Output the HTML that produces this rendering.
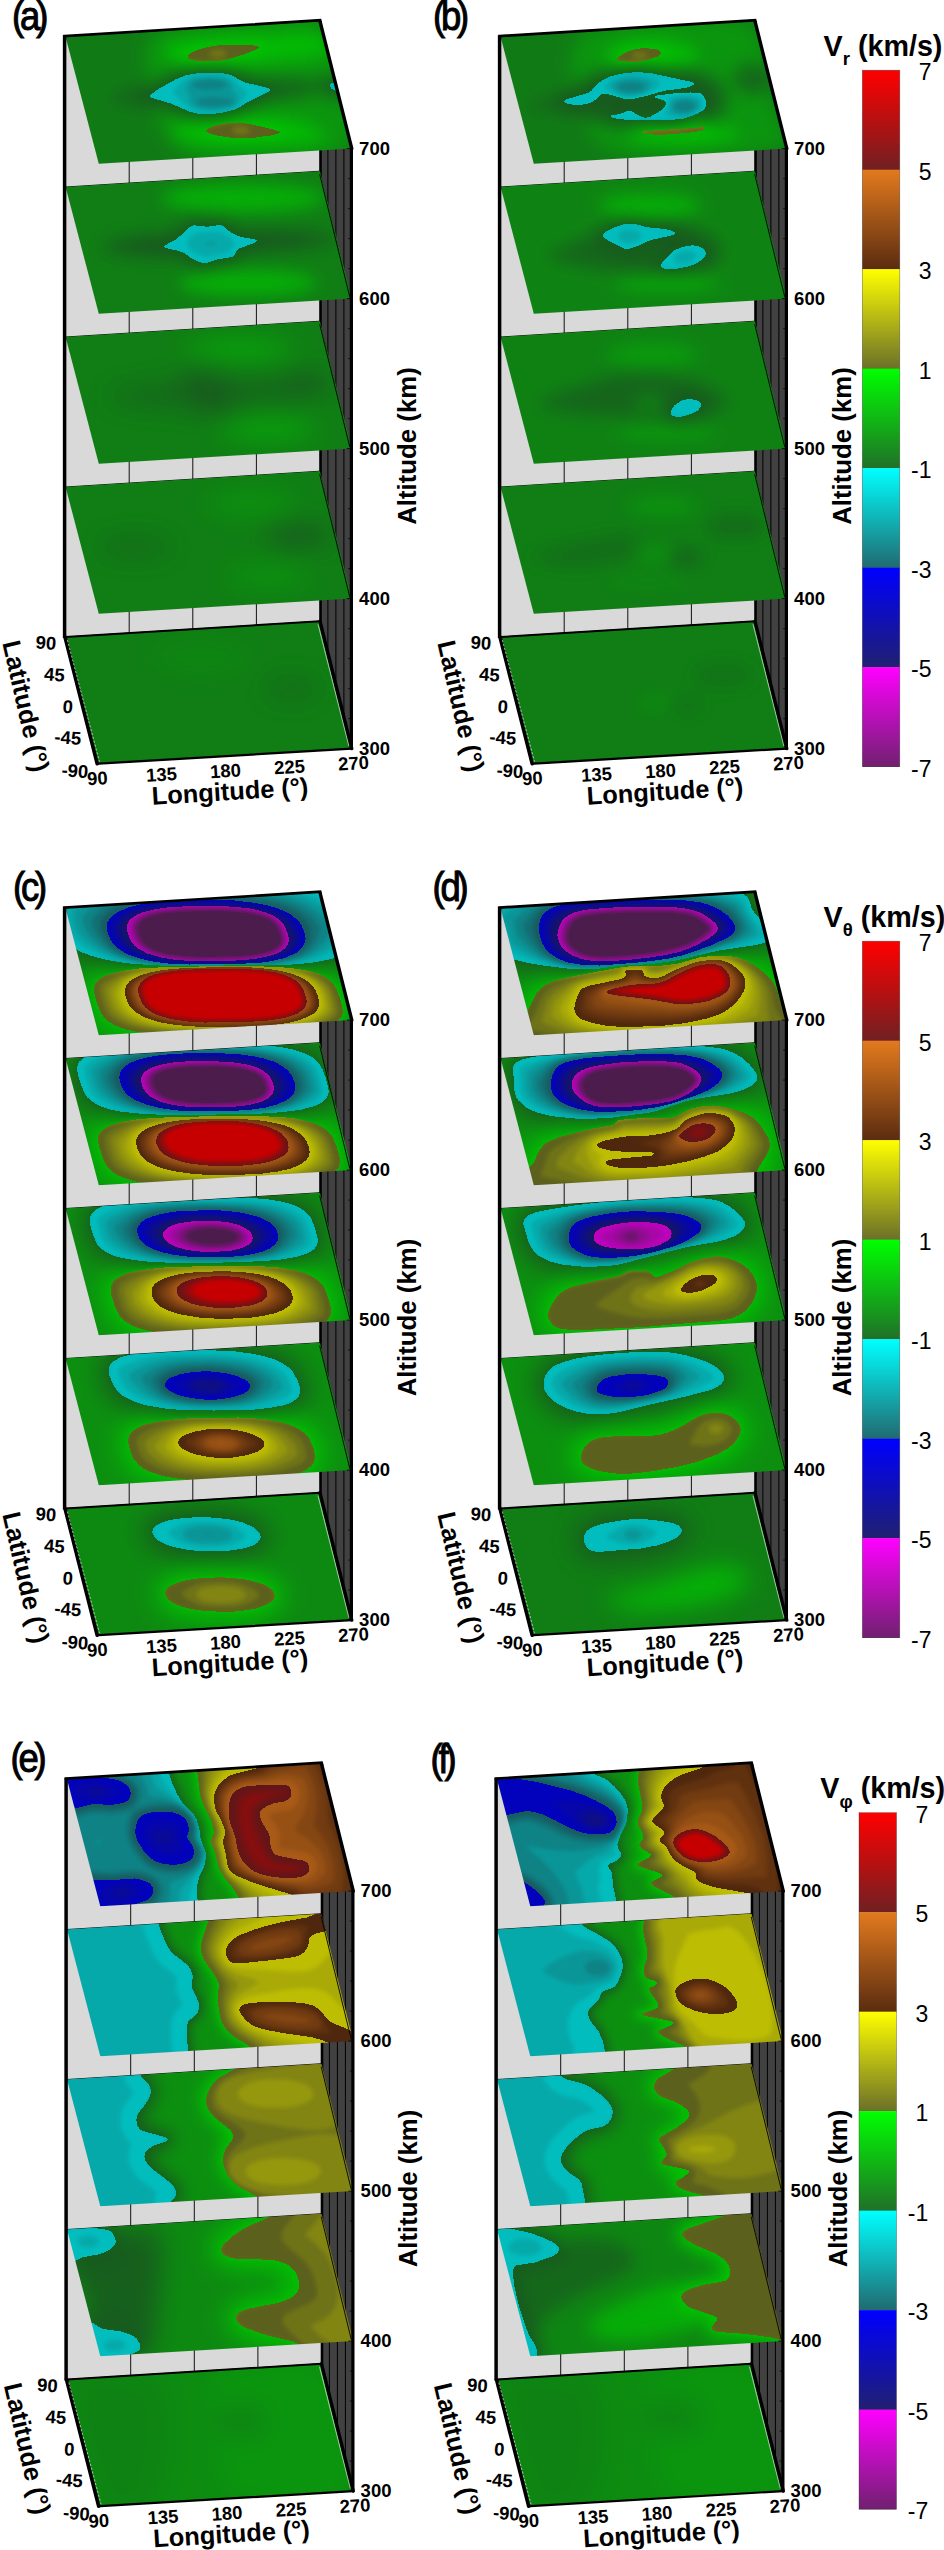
<!DOCTYPE html><html><head><meta charset="utf-8"><title>Figure</title><style>html,body{margin:0;padding:0;background:#fff}svg{display:block}text{font-family:"Liberation Sans",sans-serif;fill:#000}.b{font-weight:bold}</style></head><body>
<svg width="944" height="2550" viewBox="0 0 944 2550">
<defs>
<filter id="cm2" filterUnits="userSpaceOnUse" x="-40" y="-50" width="380" height="240" color-interpolation-filters="sRGB"><feColorMatrix in="SourceGraphic" type="matrix" values="1 0 0 0 0 1 0 0 0 0 1 0 0 0 0 0 0 0 1 0" result="bd"/><feComponentTransfer in="bd" result="A"><feFuncR type="discrete" tableValues="0.780 0.780 0.275 0.780 0.098 0.000 0.098 0.780 0.300"/><feFuncG type="discrete" tableValues="0.000 0.000 0.135 0.780 0.343 0.780 0.098 0.000 0.113"/><feFuncB type="discrete" tableValues="0.000 0.000 0.049 0.000 0.122 0.780 0.343 0.780 0.300"/></feComponentTransfer><feComponentTransfer in="bd" result="B"><feFuncR type="discrete" tableValues="0.780 0.343 0.691 0.324 0.000 0.098 0.000 0.300 0.300"/><feFuncG type="discrete" tableValues="0.000 0.098 0.373 0.343 0.780 0.324 0.000 0.113 0.113"/><feFuncB type="discrete" tableValues="0.000 0.104 0.092 0.122 0.000 0.343 0.780 0.300 0.300"/></feComponentTransfer><feColorMatrix in="SourceGraphic" type="matrix" values="0 1 0 0 0 0 1 0 0 0 0 1 0 0 0 0 0 0 1 0" result="T0"/><feGaussianBlur in="T0" stdDeviation="2" result="T"/><feComposite in="B" in2="T" operator="arithmetic" k1="1" k2="0" k3="0" k4="0" result="BT"/><feComponentTransfer in="T" result="Ti"><feFuncR type="table" tableValues="1 0"/><feFuncG type="table" tableValues="1 0"/><feFuncB type="table" tableValues="1 0"/></feComponentTransfer><feComposite in="A" in2="Ti" operator="arithmetic" k1="1" k2="0" k3="0" k4="0" result="AT"/><feComposite in="AT" in2="BT" operator="arithmetic" k1="0" k2="1" k3="1" k4="0" result="S"/><feGaussianBlur in="S" stdDeviation="0.45"/></filter>
<filter id="cm3" filterUnits="userSpaceOnUse" x="-40" y="-50" width="380" height="240" color-interpolation-filters="sRGB"><feColorMatrix in="SourceGraphic" type="matrix" values="1 0 0 0 0 1 0 0 0 0 1 0 0 0 0 0 0 0 1 0" result="bd"/><feComponentTransfer in="bd" result="A"><feFuncR type="discrete" tableValues="0.780 0.780 0.275 0.780 0.098 0.000 0.098 0.780 0.300"/><feFuncG type="discrete" tableValues="0.000 0.000 0.135 0.780 0.343 0.780 0.098 0.000 0.113"/><feFuncB type="discrete" tableValues="0.000 0.000 0.049 0.000 0.122 0.780 0.343 0.780 0.300"/></feComponentTransfer><feComponentTransfer in="bd" result="B"><feFuncR type="discrete" tableValues="0.780 0.343 0.691 0.324 0.000 0.098 0.000 0.300 0.300"/><feFuncG type="discrete" tableValues="0.000 0.098 0.373 0.343 0.780 0.324 0.000 0.113 0.113"/><feFuncB type="discrete" tableValues="0.000 0.104 0.092 0.122 0.000 0.343 0.780 0.300 0.300"/></feComponentTransfer><feColorMatrix in="SourceGraphic" type="matrix" values="0 1 0 0 0 0 1 0 0 0 0 1 0 0 0 0 0 0 1 0" result="T0"/><feGaussianBlur in="T0" stdDeviation="3" result="T"/><feComposite in="B" in2="T" operator="arithmetic" k1="1" k2="0" k3="0" k4="0" result="BT"/><feComponentTransfer in="T" result="Ti"><feFuncR type="table" tableValues="1 0"/><feFuncG type="table" tableValues="1 0"/><feFuncB type="table" tableValues="1 0"/></feComponentTransfer><feComposite in="A" in2="Ti" operator="arithmetic" k1="1" k2="0" k3="0" k4="0" result="AT"/><feComposite in="AT" in2="BT" operator="arithmetic" k1="0" k2="1" k3="1" k4="0" result="S"/><feGaussianBlur in="S" stdDeviation="0.45"/></filter>
<filter id="cm4" filterUnits="userSpaceOnUse" x="-40" y="-50" width="380" height="240" color-interpolation-filters="sRGB"><feColorMatrix in="SourceGraphic" type="matrix" values="1 0 0 0 0 1 0 0 0 0 1 0 0 0 0 0 0 0 1 0" result="bd"/><feComponentTransfer in="bd" result="A"><feFuncR type="discrete" tableValues="0.780 0.780 0.275 0.780 0.098 0.000 0.098 0.780 0.300"/><feFuncG type="discrete" tableValues="0.000 0.000 0.135 0.780 0.343 0.780 0.098 0.000 0.113"/><feFuncB type="discrete" tableValues="0.000 0.000 0.049 0.000 0.122 0.780 0.343 0.780 0.300"/></feComponentTransfer><feComponentTransfer in="bd" result="B"><feFuncR type="discrete" tableValues="0.780 0.343 0.691 0.324 0.000 0.098 0.000 0.300 0.300"/><feFuncG type="discrete" tableValues="0.000 0.098 0.373 0.343 0.780 0.324 0.000 0.113 0.113"/><feFuncB type="discrete" tableValues="0.000 0.104 0.092 0.122 0.000 0.343 0.780 0.300 0.300"/></feComponentTransfer><feColorMatrix in="SourceGraphic" type="matrix" values="0 1 0 0 0 0 1 0 0 0 0 1 0 0 0 0 0 0 1 0" result="T0"/><feGaussianBlur in="T0" stdDeviation="4" result="T"/><feComposite in="B" in2="T" operator="arithmetic" k1="1" k2="0" k3="0" k4="0" result="BT"/><feComponentTransfer in="T" result="Ti"><feFuncR type="table" tableValues="1 0"/><feFuncG type="table" tableValues="1 0"/><feFuncB type="table" tableValues="1 0"/></feComponentTransfer><feComposite in="A" in2="Ti" operator="arithmetic" k1="1" k2="0" k3="0" k4="0" result="AT"/><feComposite in="AT" in2="BT" operator="arithmetic" k1="0" k2="1" k3="1" k4="0" result="S"/><feGaussianBlur in="S" stdDeviation="0.45"/></filter>
<filter id="cm6" filterUnits="userSpaceOnUse" x="-40" y="-50" width="380" height="240" color-interpolation-filters="sRGB"><feColorMatrix in="SourceGraphic" type="matrix" values="1 0 0 0 0 1 0 0 0 0 1 0 0 0 0 0 0 0 1 0" result="bd"/><feComponentTransfer in="bd" result="A"><feFuncR type="discrete" tableValues="0.780 0.780 0.275 0.780 0.098 0.000 0.098 0.780 0.300"/><feFuncG type="discrete" tableValues="0.000 0.000 0.135 0.780 0.343 0.780 0.098 0.000 0.113"/><feFuncB type="discrete" tableValues="0.000 0.000 0.049 0.000 0.122 0.780 0.343 0.780 0.300"/></feComponentTransfer><feComponentTransfer in="bd" result="B"><feFuncR type="discrete" tableValues="0.780 0.343 0.691 0.324 0.000 0.098 0.000 0.300 0.300"/><feFuncG type="discrete" tableValues="0.000 0.098 0.373 0.343 0.780 0.324 0.000 0.113 0.113"/><feFuncB type="discrete" tableValues="0.000 0.104 0.092 0.122 0.000 0.343 0.780 0.300 0.300"/></feComponentTransfer><feColorMatrix in="SourceGraphic" type="matrix" values="0 1 0 0 0 0 1 0 0 0 0 1 0 0 0 0 0 0 1 0" result="T0"/><feGaussianBlur in="T0" stdDeviation="6" result="T"/><feComposite in="B" in2="T" operator="arithmetic" k1="1" k2="0" k3="0" k4="0" result="BT"/><feComponentTransfer in="T" result="Ti"><feFuncR type="table" tableValues="1 0"/><feFuncG type="table" tableValues="1 0"/><feFuncB type="table" tableValues="1 0"/></feComponentTransfer><feComposite in="A" in2="Ti" operator="arithmetic" k1="1" k2="0" k3="0" k4="0" result="AT"/><feComposite in="AT" in2="BT" operator="arithmetic" k1="0" k2="1" k3="1" k4="0" result="S"/><feGaussianBlur in="S" stdDeviation="0.45"/></filter>
<filter id="hb5" filterUnits="userSpaceOnUse" x="-60" y="-70" width="420" height="280" color-interpolation-filters="sRGB"><feGaussianBlur stdDeviation="5"/></filter>
<filter id="hb8" filterUnits="userSpaceOnUse" x="-60" y="-70" width="420" height="280" color-interpolation-filters="sRGB"><feGaussianBlur stdDeviation="8"/></filter>
<filter id="hb12" filterUnits="userSpaceOnUse" x="-60" y="-70" width="420" height="280" color-interpolation-filters="sRGB"><feGaussianBlur stdDeviation="12"/></filter>
<clipPath id="sc"><polygon points="0.0,0.0 254.4,-15.8 286.2,111.6 33.2,126.7"/></clipPath>
<linearGradient id="cb0" x1="0" y1="0" x2="0" y2="1"><stop offset="0" stop-color="rgb(255,0,0)"/><stop offset="1" stop-color="rgb(112,32,34)"/></linearGradient>
<linearGradient id="cb1" x1="0" y1="0" x2="0" y2="1"><stop offset="0" stop-color="rgb(226,122,30)"/><stop offset="1" stop-color="rgb(90,44,16)"/></linearGradient>
<linearGradient id="cb2" x1="0" y1="0" x2="0" y2="1"><stop offset="0" stop-color="rgb(255,255,0)"/><stop offset="1" stop-color="rgb(106,112,40)"/></linearGradient>
<linearGradient id="cb3" x1="0" y1="0" x2="0" y2="1"><stop offset="0" stop-color="rgb(0,255,0)"/><stop offset="1" stop-color="rgb(32,112,40)"/></linearGradient>
<linearGradient id="cb4" x1="0" y1="0" x2="0" y2="1"><stop offset="0" stop-color="rgb(0,255,255)"/><stop offset="1" stop-color="rgb(32,106,112)"/></linearGradient>
<linearGradient id="cb5" x1="0" y1="0" x2="0" y2="1"><stop offset="0" stop-color="rgb(0,0,255)"/><stop offset="1" stop-color="rgb(32,32,112)"/></linearGradient>
<linearGradient id="cb6" x1="0" y1="0" x2="0" y2="1"><stop offset="0" stop-color="rgb(255,0,255)"/><stop offset="1" stop-color="rgb(112,32,112)"/></linearGradient>
</defs>
<g transform="translate(0,0)">
<polygon points="65.6,37.0 320.0,21.2 320.0,621.2 98.8,763.7 65.6,637.0" fill="#d9d9d9"/>
<polygon points="65.6,37.0 98.8,163.7 98.8,763.7 65.6,637.0" fill="#d9d9d9"/>
<polygon points="320.0,21.2 351.8,148.6 351.8,748.6 320.0,621.2" fill="#414141"/>
<line x1="129.2" y1="33.0" x2="129.2" y2="633.0" stroke="#111" stroke-width="1" />
<line x1="327.9" y1="53.0" x2="327.9" y2="653.0" stroke="#000" stroke-width="1" />
<line x1="192.8" y1="29.1" x2="192.8" y2="629.1" stroke="#111" stroke-width="1" />
<line x1="335.9" y1="84.9" x2="335.9" y2="684.9" stroke="#000" stroke-width="1" />
<line x1="256.4" y1="25.1" x2="256.4" y2="625.1" stroke="#111" stroke-width="1" />
<line x1="343.9" y1="116.8" x2="343.9" y2="716.8" stroke="#000" stroke-width="1" />
<line x1="65.6" y1="37.0" x2="320.0" y2="21.2" stroke="#111" stroke-width="1" />
<line x1="320.0" y1="23.7" x2="350.3" y2="146.6" stroke="#000" stroke-width="1" />
<line x1="65.6" y1="187.0" x2="320.0" y2="171.2" stroke="#111" stroke-width="1" />
<line x1="320.0" y1="173.7" x2="350.3" y2="296.6" stroke="#000" stroke-width="1" />
<line x1="65.6" y1="337.0" x2="320.0" y2="321.2" stroke="#111" stroke-width="1" />
<line x1="320.0" y1="323.7" x2="350.3" y2="446.6" stroke="#000" stroke-width="1" />
<line x1="65.6" y1="487.0" x2="320.0" y2="471.2" stroke="#111" stroke-width="1" />
<line x1="320.0" y1="473.7" x2="350.3" y2="596.6" stroke="#000" stroke-width="1" />
<line x1="65.6" y1="637.0" x2="320.0" y2="621.2" stroke="#111" stroke-width="1" />
<line x1="320.0" y1="623.7" x2="350.3" y2="746.6" stroke="#000" stroke-width="1" />
<line x1="320.5" y1="21.2" x2="320.5" y2="621.2" stroke="#000" stroke-width="2.6" />
<g transform="translate(65.6,37.0)" clip-path="url(#sc)">
<g filter="url(#cm2)"><rect x="-60" y="-70" width="420" height="280" fill="#805300"/><g filter="url(#hb8)"><rect x="-100" y="-110" width="500" height="360" fill="#805300"/><path d="M96 -7l13 -4 19 -4 22 -4 24 -3 24 -2 22 1 19 2 15 6 11 10 10 15 7 17 6 20 3 19 0 18 -2 15 -7 11 -11 7 -18 5 -21 3 -24 1 -24 0 -23 -2 -20 -2 -15 -4 -11 -4 -9 -7 -6 -8 -5 -9 -3 -9 -13 -53 -1 -8 1 -8 2 -7 6 -7z" fill="#808c00"/><path d="M45 60l1 -1 2 -2 3 -1 9 -3 7 -2 19 -3 47 -3 57 -3 39 0 23 2 8 2 2 1 0 1 0 2 -2 1 -8 4 -14 4 -9 1 -39 5 -57 4 -47 1 -19 -1 -7 -1 -9 -3 -3 -2 -2 -1z" fill="#801a00"/><path d="M102 7l7 -2 20 -3 98 -6 15 -1 10 2 4 1 4 2 3 3 2 3 1 3 0 3 -1 3 -3 2 -4 1 -20 4 -80 7 -22 0 -10 0 -7 -1 -6 -1 -5 -3 -5 -2 -3 -4 -2 -3 -1 -3 2 -3z" fill="#80e500"/><path d="M112 87l4 -2 14 -2 25 -2 35 -1 27 2 16 2 11 3 9 5 4 2 2 3 1 3 -1 2 -3 1 -6 2 -20 2 -48 1 -26 0 -15 -1 -18 -2 -4 -2 -7 -3 -4 -5 0 -2 0 -2 2 -3z" fill="#80e500"/><path d="M121 19l3 -3 5 -3 10 -2 10 -2 16 -1 18 -1 9 1 2 1 1 1 -1 1 -2 2 -10 4 -14 4 -12 3 -13 1 -13 0 -8 -2 -1 -2z" fill="#80fc00" stroke="#80fc00" stroke-width="13" stroke-linejoin="round"/><path d="M139 93l3 -3 7 -3 9 -1 11 -1 11 1 22 4 12 3 2 1 0 1 -3 3 -11 2 -16 1 -14 0 -13 -1 -11 -1 -7 -3 -2 -1z" fill="#80fc00" stroke="#80fc00" stroke-width="13" stroke-linejoin="round"/><path d="M83 59l3 -2 5 -4 19 -11 12 -4 9 -2 20 0 11 1 5 1 12 7 25 6 2 1 1 1 -3 2 -22 10 -11 7 -13 4 -12 1 -11 0 -9 -2 -23 -9 -16 -5 -4 0z" fill="#800300" stroke="#800300" stroke-width="13" stroke-linejoin="round"/><path d="M263 47l1 -1 2 -1 1 0 4 1 5 4 0 2 0 2 -1 1 -2 0 -6 -2 -3 -2z" fill="#800300" stroke="#800300" stroke-width="13" stroke-linejoin="round"/></g><g transform="scale(0.1)" fill-rule="evenodd"><path d="M1530 240l-155 4 -85 -8 -55 -16 -13 -10 -3 -15 18 -25 43 -25 103 -35 102 -23 100 -9 260 2 65 10 19 10 0 10 -22 15 -128 50 -143 45zM1780 1010l-115 -3 -155 -22 -81 -25 -18 -10 -5 -10 9 -15 21 -15 60 -25 119 -24 115 -5 110 14 156 35 101 25 45 20 -2 8 -11 7 -77 20 -152 20z" fill="#63ea00"/><path d="M1540 211l-50 -1 -35 -10 -23 -20 -1 -20 29 -26 53 -14 57 5 37 20 8 20 -11 20 -24 16zM1795 975l-60 3 -37 -8 -29 -20 -6 -25 22 -22 35 -12 55 0 35 8 27 16 9 25 -16 21z" fill="#63bf00"/><path d="M1420 775l-95 -8 -80 -19 -195 -84 -197 -59 -8 -5 -1 -10 22 -25 72 -50 169 -95 103 -40 95 -16 235 -5 85 11 51 20 79 47 40 18 210 50 31 10 13 10 1 10 -12 10 -213 103 -86 57 -44 21 -145 35zM2730 541l-34 -6 -36 -18 -16 -22 2 -25 14 -7 20 0 55 29 12 13 3 15 -8 15z" fill="#9c1500"/><path d="M1490 750l-65 3 -60 -5 -60 -13 -52 -20 -55 -35 -78 -79 -40 -31 -7 -10 3 -15 34 -45 44 -45 37 -30 39 -20 82 -20 163 -8 85 5 80 22 39 26 78 80 64 40 -3 20 -61 80 -26 30 -27 20 -84 29z" fill="#9c4000"/><path d="M1535 725l-95 3 -70 -6 -60 -16 -44 -26 -14 -15 -11 -25 -3 -60 -25 -30 -8 -20 3 -40 20 -40 32 -24 40 -13 135 -14 125 9 50 15 28 17 25 40 4 60 34 30 12 20 7 30 -5 30 -16 25 -30 20 -49 16z" fill="#9c6a00"/><path d="M1505 526l-110 1 -65 -10 -45 -18 -14 -14 -2 -10 11 -17 29 -13 46 -11 70 -6 55 1 72 11 39 15 17 15 -3 20 -20 15zM1545 695l-100 2 -83 -12 -43 -15 -14 -13 -2 -12 17 -17 35 -13 55 -11 80 -7 125 16 45 17 14 15 -5 15 -14 10 -47 15z" fill="#9c9500"/></g></g>
</g>
<g transform="translate(65.6,187.0)" clip-path="url(#sc)">
<g filter="url(#cm2)"><rect x="-60" y="-70" width="420" height="280" fill="#805900"/><g filter="url(#hb8)"><rect x="-100" y="-110" width="500" height="360" fill="#805900"/><path d="M35 60l2 -1 9 -4 27 -6 23 -2 44 -3 52 -1 38 1 27 3 11 2 3 1 1 2 -1 1 -8 3 -14 3 -19 3 -55 5 -51 3 -28 0 -23 -1 -27 -4 -9 -3z" fill="#800600"/><path d="M259 11l-2 3 -4 2 -8 3 -10 2 -26 3 -32 1 -31 -1 -27 -3 -10 -2 -7 -3 -5 -2 -1 -3 1 -3 5 -3 7 -2 10 -2 27 -3 31 -1 32 1 26 3 10 2 8 2 4 3z" fill="#80cc00"/><path d="M252 96l-1 2 -4 3 -6 2 -9 2 -23 3 -27 0 -27 0 -22 -3 -9 -2 -6 -2 -4 -3 -2 -2 2 -2 4 -3 6 -2 9 -2 22 -3 27 -1 27 1 23 3 9 2 6 2 4 3z" fill="#80cc00"/><path d="M96 59l2 -1 11 -5 10 -8 5 -5 2 -1 3 -1 13 2 11 -2 3 0 2 2 6 5 7 3 7 3 14 1 1 1 -2 2 -5 2 -14 5 -1 2 -2 4 -2 1 -3 1 -12 2 -10 4 -3 0 -3 0 -5 -2 -5 -3 -9 -6 -18 -4 -2 -1z" fill="#800300" stroke="#800300" stroke-width="13" stroke-linejoin="round"/></g><g transform="scale(0.1)" fill-rule="evenodd"><path d="M1405 761l-25 1 -40 -10 -80 -39 -85 -59 -40 -14 -135 -30 -19 -10 0 -10 114 -59 65 -54 75 -74 25 -14 25 -7 135 15 100 -15 35 1 30 15 54 47 76 40 65 21 120 19 15 10 -14 15 -42 20 -129 47 -18 18 -23 45 -24 19 -150 25z" fill="#9c1500"/><path d="M1450 691l-45 4 -45 -7 -60 -24 -42 -29 -30 -35 -14 -35 7 -30 22 -30 39 -35 33 -12 65 -9 145 -5 30 8 69 38 56 50 7 20 -6 20 -21 39 -25 27 -70 25z" fill="#9c4000"/><path d="M1470 585l-59 -5 -16 -5 -7 -10 22 -9 45 -7 45 6 22 10 -7 10z" fill="#9c6a00"/></g></g>
</g>
<g transform="translate(65.6,337.0)" clip-path="url(#sc)">
<g filter="url(#cm2)"><rect x="-60" y="-70" width="420" height="280" fill="#805900"/><g filter="url(#hb12)"><rect x="-100" y="-110" width="500" height="360" fill="#805900"/><path d="M42 58l1 -1 8 -3 15 -3 19 -2 38 -4 52 -3 44 -1 21 0 23 3 8 3 1 1 -1 2 -3 2 -11 4 -27 5 -39 4 -51 4 -44 0 -21 -1 -9 -1 -15 -4 -8 -3z" fill="#802000"/><path d="M162 43l0 1 -2 2 -5 3 -8 2 -10 1 -9 -1 -8 -2 -6 -3 -1 -2 -1 -1 1 -2 1 -2 6 -3 8 -2 9 -1 10 1 8 2 5 3 2 2z" fill="#800600"/><path d="M172 68l0 1 -2 2 -5 3 -8 2 -10 1 -9 -1 -8 -2 -6 -3 -1 -2 -1 -1 1 -2 1 -2 6 -3 8 -2 9 -1 10 1 8 2 5 3 2 2z" fill="#800600"/><path d="M262 46l0 2 -1 1 -5 3 -8 2 -9 1 -9 -1 -8 -2 -5 -3 -1 -1 0 -2 0 -2 1 -2 5 -3 8 -2 9 0 9 0 8 2 5 3 1 2z" fill="#800600"/><path d="M229 13l-1 2 -3 2 -5 2 -7 2 -18 3 -21 1 -21 -1 -18 -3 -7 -2 -5 -2 -3 -2 -1 -2 1 -3 3 -2 5 -2 7 -2 18 -3 21 -1 21 1 18 3 7 2 5 2 3 2z" fill="#80a600"/><path d="M252 93l-1 2 -2 2 -5 3 -6 1 -17 3 -19 1 -19 -1 -16 -3 -6 -1 -5 -3 -3 -2 -1 -2 1 -3 3 -2 5 -2 6 -2 16 -3 19 -1 19 1 17 3 6 2 5 2 2 2z" fill="#80a600"/></g></g>
</g>
<g transform="translate(65.6,487.0)" clip-path="url(#sc)">
<g filter="url(#cm2)"><rect x="-60" y="-70" width="420" height="280" fill="#805900"/><g filter="url(#hb12)"><rect x="-100" y="-110" width="500" height="360" fill="#805900"/><path d="M266 48l-1 3 -2 2 -7 4 -11 2 -13 1 -12 -1 -11 -2 -8 -4 -1 -2 -1 -3 1 -2 1 -2 8 -4 11 -2 12 -1 13 1 11 2 7 4 2 2z" fill="#800d00"/><path d="M106 60l-1 2 -2 2 -8 3 -12 2 -14 1 -14 -1 -12 -2 -8 -3 -2 -2 -1 -2 1 -2 2 -2 8 -3 12 -2 14 -1 14 1 12 2 8 3 2 2z" fill="#802d00"/><path d="M232 17l-1 2 -2 3 -5 2 -5 2 -16 3 -17 1 -18 -1 -15 -3 -6 -2 -5 -2 -2 -3 -1 -2 1 -3 2 -2 5 -3 6 -2 15 -3 18 -1 17 1 16 3 5 2 5 3 2 2z" fill="#808600"/><path d="M246 89l-1 3 -3 2 -9 4 -14 3 -17 1 -16 -1 -14 -3 -10 -4 -2 -2 -1 -3 1 -2 2 -2 10 -5 14 -2 16 -1 17 1 14 2 9 5 3 2z" fill="#808600"/></g></g>
</g>
<g transform="translate(65.6,637.0)" clip-path="url(#sc)">
<g filter="url(#cm2)"><rect x="-60" y="-70" width="420" height="280" fill="#805900"/><g filter="url(#hb12)"><rect x="-100" y="-110" width="500" height="360" fill="#805900"/><path d="M252 52l0 2 -2 2 -5 4 -9 3 -10 0 -11 0 -8 -3 -6 -4 -2 -2 0 -2 0 -3 2 -2 6 -4 8 -2 11 -1 10 1 9 2 5 4 2 2z" fill="#803300"/><path d="M186 20l-1 3 -3 3 -5 3 -6 3 -16 3 -19 2 -20 -2 -16 -3 -6 -3 -5 -3 -3 -3 0 -3 0 -3 3 -3 5 -3 6 -3 16 -3 20 -2 19 2 16 3 6 3 5 3 3 3z" fill="#806c00"/></g></g>
</g>
<line x1="319.7" y1="174.2" x2="349.8" y2="297.1" stroke="#000" stroke-width="0.9" />
<line x1="319.7" y1="324.2" x2="349.8" y2="447.1" stroke="#000" stroke-width="0.9" />
<line x1="319.7" y1="474.2" x2="349.8" y2="597.1" stroke="#000" stroke-width="0.9" />
<line x1="319.7" y1="624.2" x2="349.8" y2="747.1" stroke="#000" stroke-width="0.9" />
<line x1="64.6" y1="35.2" x2="64.6" y2="638.0" stroke="#000" stroke-width="3.5" />
<line x1="64.6" y1="36.1" x2="320.0" y2="20.3" stroke="#000" stroke-width="2.7" stroke-linecap="square"/>
<line x1="320.0" y1="21.2" x2="351.8" y2="148.6" stroke="#000" stroke-width="3.4" stroke-linecap="round"/>
<line x1="351.4" y1="148.6" x2="351.4" y2="748.6" stroke="#000" stroke-width="3.2" />
<line x1="65.0" y1="637.0" x2="97.2" y2="763.7" stroke="#000" stroke-width="3.6" stroke-linecap="round"/>
<line x1="98.8" y1="763.7" x2="351.8" y2="748.6" stroke="#000" stroke-width="2.2" stroke-linecap="round"/>
<line x1="65.6" y1="637.0" x2="320.0" y2="621.2" stroke="#000" stroke-width="2.0" />
<line x1="320.0" y1="621.2" x2="351.8" y2="748.6" stroke="#000" stroke-width="3.3" stroke-linecap="round"/>
<line x1="318.0" y1="624.2" x2="348.9" y2="746.1" stroke="#fff" stroke-width="0.7" stroke-opacity="0.85"/>
<line x1="67.3" y1="640.0" x2="99.5" y2="761.7" stroke="#fff" stroke-width="0.7" stroke-opacity="0.85" stroke-dasharray="2.4 1.6"/>
<line x1="346.8" y1="148.6" x2="350.8" y2="148.6" stroke="#000" stroke-width="0.8" />
<line x1="348.2" y1="178.6" x2="350.8" y2="178.6" stroke="#000" stroke-width="0.8" />
<line x1="348.2" y1="208.6" x2="350.8" y2="208.6" stroke="#000" stroke-width="0.8" />
<line x1="348.2" y1="238.6" x2="350.8" y2="238.6" stroke="#000" stroke-width="0.8" />
<line x1="348.2" y1="268.6" x2="350.8" y2="268.6" stroke="#000" stroke-width="0.8" />
<line x1="346.8" y1="298.6" x2="350.8" y2="298.6" stroke="#000" stroke-width="0.8" />
<line x1="348.2" y1="328.6" x2="350.8" y2="328.6" stroke="#000" stroke-width="0.8" />
<line x1="348.2" y1="358.6" x2="350.8" y2="358.6" stroke="#000" stroke-width="0.8" />
<line x1="348.2" y1="388.6" x2="350.8" y2="388.6" stroke="#000" stroke-width="0.8" />
<line x1="348.2" y1="418.6" x2="350.8" y2="418.6" stroke="#000" stroke-width="0.8" />
<line x1="346.8" y1="448.6" x2="350.8" y2="448.6" stroke="#000" stroke-width="0.8" />
<line x1="348.2" y1="478.6" x2="350.8" y2="478.6" stroke="#000" stroke-width="0.8" />
<line x1="348.2" y1="508.6" x2="350.8" y2="508.6" stroke="#000" stroke-width="0.8" />
<line x1="348.2" y1="538.6" x2="350.8" y2="538.6" stroke="#000" stroke-width="0.8" />
<line x1="348.2" y1="568.6" x2="350.8" y2="568.6" stroke="#000" stroke-width="0.8" />
<line x1="346.8" y1="598.6" x2="350.8" y2="598.6" stroke="#000" stroke-width="0.8" />
<line x1="348.2" y1="628.6" x2="350.8" y2="628.6" stroke="#000" stroke-width="0.8" />
<line x1="348.2" y1="658.6" x2="350.8" y2="658.6" stroke="#000" stroke-width="0.8" />
<line x1="348.2" y1="688.6" x2="350.8" y2="688.6" stroke="#000" stroke-width="0.8" />
<line x1="348.2" y1="718.6" x2="350.8" y2="718.6" stroke="#000" stroke-width="0.8" />
<line x1="346.8" y1="748.6" x2="350.8" y2="748.6" stroke="#000" stroke-width="0.8" />
<text class="b" x="359.1" y="154.8" font-size="18.5">700</text>
<text class="b" x="359.1" y="304.8" font-size="18.5">600</text>
<text class="b" x="359.1" y="454.8" font-size="18.5">500</text>
<text class="b" x="359.1" y="604.8" font-size="18.5">400</text>
<text class="b" x="359.1" y="754.8" font-size="18.5">300</text>
<text class="b" transform="translate(97.5,778.7) rotate(-3.5)" text-anchor="middle" y="6" font-size="18.5">90</text>
<text class="b" transform="translate(161.5,774.9) rotate(-3.5)" text-anchor="middle" y="6" font-size="18.5">135</text>
<text class="b" transform="translate(225.5,771.2) rotate(-3.5)" text-anchor="middle" y="6" font-size="18.5">180</text>
<text class="b" transform="translate(289.5,767.4) rotate(-3.5)" text-anchor="middle" y="6" font-size="18.5">225</text>
<text class="b" transform="translate(353.5,763.6) rotate(-3.5)" text-anchor="middle" y="6" font-size="18.5">270</text>
<text class="b" transform="translate(56.3,644.0) rotate(4)" text-anchor="end" y="6" font-size="18.5">90</text>
<text class="b" transform="translate(64.6,675.7) rotate(4)" text-anchor="end" y="6" font-size="18.5">45</text>
<text class="b" transform="translate(72.9,707.4) rotate(4)" text-anchor="end" y="6" font-size="18.5">0</text>
<text class="b" transform="translate(81.2,739.0) rotate(4)" text-anchor="end" y="6" font-size="18.5">-45</text>
<text class="b" transform="translate(88.3,772.2) rotate(4)" text-anchor="end" y="6" font-size="18.5">-90</text>
<text class="b" transform="translate(230,791) rotate(-3.5)" text-anchor="middle" y="9" font-size="25.4">Longitude (°)</text>
<text class="b" transform="translate(26,706) rotate(77)" text-anchor="middle" y="9" font-size="25.6">Latitude (°)</text>
<text class="b" transform="translate(406.6,446) rotate(-90)" text-anchor="middle" y="9" font-size="25.8">Altitude (km)</text>
</g>
<g transform="translate(435,0)">
<polygon points="65.6,37.0 320.0,21.2 320.0,621.2 98.8,763.7 65.6,637.0" fill="#d9d9d9"/>
<polygon points="65.6,37.0 98.8,163.7 98.8,763.7 65.6,637.0" fill="#d9d9d9"/>
<polygon points="320.0,21.2 351.8,148.6 351.8,748.6 320.0,621.2" fill="#414141"/>
<line x1="129.2" y1="33.0" x2="129.2" y2="633.0" stroke="#111" stroke-width="1" />
<line x1="327.9" y1="53.0" x2="327.9" y2="653.0" stroke="#000" stroke-width="1" />
<line x1="192.8" y1="29.1" x2="192.8" y2="629.1" stroke="#111" stroke-width="1" />
<line x1="335.9" y1="84.9" x2="335.9" y2="684.9" stroke="#000" stroke-width="1" />
<line x1="256.4" y1="25.1" x2="256.4" y2="625.1" stroke="#111" stroke-width="1" />
<line x1="343.9" y1="116.8" x2="343.9" y2="716.8" stroke="#000" stroke-width="1" />
<line x1="65.6" y1="37.0" x2="320.0" y2="21.2" stroke="#111" stroke-width="1" />
<line x1="320.0" y1="23.7" x2="350.3" y2="146.6" stroke="#000" stroke-width="1" />
<line x1="65.6" y1="187.0" x2="320.0" y2="171.2" stroke="#111" stroke-width="1" />
<line x1="320.0" y1="173.7" x2="350.3" y2="296.6" stroke="#000" stroke-width="1" />
<line x1="65.6" y1="337.0" x2="320.0" y2="321.2" stroke="#111" stroke-width="1" />
<line x1="320.0" y1="323.7" x2="350.3" y2="446.6" stroke="#000" stroke-width="1" />
<line x1="65.6" y1="487.0" x2="320.0" y2="471.2" stroke="#111" stroke-width="1" />
<line x1="320.0" y1="473.7" x2="350.3" y2="596.6" stroke="#000" stroke-width="1" />
<line x1="65.6" y1="637.0" x2="320.0" y2="621.2" stroke="#111" stroke-width="1" />
<line x1="320.0" y1="623.7" x2="350.3" y2="746.6" stroke="#000" stroke-width="1" />
<line x1="320.5" y1="21.2" x2="320.5" y2="621.2" stroke="#000" stroke-width="2.6" />
<g transform="translate(65.6,37.0)" clip-path="url(#sc)">
<g filter="url(#cm2)"><rect x="-60" y="-70" width="420" height="280" fill="#805300"/><g filter="url(#hb8)"><rect x="-100" y="-110" width="500" height="360" fill="#805300"/><path d="M86 -5l13 -5 19 -4 22 -3 24 -2 25 -1 22 0 20 2 15 4 10 6 6 10 4 11 3 12 2 36 1 9 3 7 12 18 2 4 0 4 -3 4 -7 3 -12 3 -18 3 -20 2 -47 3 -22 0 -19 -1 -15 -2 -12 -3 -9 -4 -7 -5 -6 -6 -4 -7 -4 -8 -5 -15 -6 -18 -2 -11 -2 -11 0 -10 3 -10 5 -9z" fill="#808c00"/><path d="M25 70l2 -2 4 -1 38 -14 7 -4 8 -7 7 -4 10 -3 13 -2 23 -3 15 0 25 2 16 2 14 4 5 2 4 3 4 3 4 7 2 7 0 7 -2 6 -4 5 -3 3 -9 4 -6 2 -17 2 -35 1 -22 -1 -17 -1 -14 -3 -28 -8 -39 -5 -3 -1z" fill="#801a00"/><path d="M272 42l-1 5 -4 5 -7 4 -8 1 -7 -1 -7 -4 -4 -5 -2 -5 2 -6 4 -5 7 -3 7 -1 8 1 7 3 4 5z" fill="#802600"/><path d="M199 18l-1 2 -3 3 -4 2 -6 3 -15 3 -18 1 -18 -1 -15 -3 -6 -3 -4 -2 -3 -3 0 -2 0 -3 3 -3 4 -2 6 -2 15 -4 18 -1 18 1 15 4 6 2 4 2 3 3z" fill="#80e500"/><path d="M239 97l-1 2 -3 2 -13 3 -18 2 -22 1 -21 -1 -19 -2 -12 -3 -3 -2 -1 -2 1 -2 3 -2 12 -3 19 -2 21 -1 22 1 18 2 13 3 3 2z" fill="#80e500"/><path d="M114 22l3 -3 11 -5 10 -2 11 -1 7 1 4 1 1 3 0 2 -3 2 -11 3 -11 2 -10 0 -7 0 -4 -1 -1 -1z" fill="#80fc00" stroke="#80fc00" stroke-width="13" stroke-linejoin="round"/><path d="M142 95l6 -1 50 -3 5 0 -2 2 -6 1 -28 3 -14 0 -7 -1z" fill="#80fc00" stroke="#80fc00" stroke-width="13" stroke-linejoin="round"/><path d="M61 64l3 -2 9 -3 14 -3 4 -3 6 -7 7 -4 8 -4 12 -2 13 -1 15 1 36 8 5 1 1 2 -2 2 -6 2 -22 3 -33 8 -6 -1 -15 -3 -6 -1 -4 1 -8 7 -10 3 -6 1 -6 -1 -7 -2 -1 -1z" fill="#800300" stroke="#800300" stroke-width="13" stroke-linejoin="round"/><path d="M152 59l18 -2 28 -1 3 1 3 3 1 4 0 5 -2 4 -5 3 -11 4 -11 3 -12 0 -34 0 -16 -1 -4 -1 -2 -2 1 -1 10 -1 11 -4 2 1 4 3 7 3 4 0 4 -1 7 -4 4 -3 3 -3 1 -3 0 -1 -1 -1 -12 -3 -1 -1z" fill="#800300" stroke="#800300" stroke-width="13" stroke-linejoin="round"/></g><g transform="scale(0.1)" fill-rule="evenodd"><path d="M1385 245l-45 3 -140 -6 -31 -7 -13 -15 19 -20 100 -57 85 -25 70 -6 110 5 40 13 19 20 0 25 -25 20 -110 35z" fill="#63ea00"/><path d="M1400 220l-40 0 -33 -10 -15 -15 3 -20 25 -20 35 -8 55 2 32 16 6 15 -11 20 -17 10z" fill="#63bf00"/><path d="M780 680l-25 2 -75 -11 -40 -15 -9 -11 7 -10 31 -15 206 -61 35 -23 60 -70 53 -36 86 -40 96 -23 160 -16 145 12 380 81 31 11 13 15 -14 16 -60 21 -225 31 -200 58 -120 25 -80 -4 -150 -41 -40 -7 -25 1 -25 11 -56 54 -29 18 -65 19zM1745 825l-485 2 -125 -15 -30 -11 -5 -11 10 -7 85 -14 70 -26 25 -4 28 6 57 37 60 25 25 1 35 -11 75 -40 35 -25 30 -28 16 -29 2 -25 -13 -15 -95 -30 -5 -10 20 -10 160 -21 180 -10 85 4 20 10 20 18 22 39 10 45 -9 35 -23 27 -55 34 -60 25 -80 23z" fill="#9c1500"/><path d="M1335 596l-60 3 -91 -19 -99 -45 -41 -25 -5 -15 33 -40 53 -35 75 -25 90 -12 85 -4 80 12 80 26 61 38 3 10 -11 15 -90 65 -71 30zM1790 800l-85 -4 -43 -11 -16 -10 0 -15 32 -80 5 -60 6 -10 36 -13 70 -12 95 -3 70 8 34 20 19 30 8 35 -6 25 -20 25 -41 30 -42 20 -67 19z" fill="#9c4000"/><path d="M1340 575l-60 4 -65 -12 -36 -12 -45 -30 -14 -25 0 -20 15 -21 35 -20 40 -14 55 -10 90 -2 35 4 60 16 41 27 6 15 -6 25 -29 35 -51 25zM1850 776l-85 -2 -30 -9 -25 -16 -9 -19 -1 -35 12 -40 13 -21 25 -12 45 -12 70 -3 65 11 40 24 11 18 4 20 -7 25 -14 20 -44 30z" fill="#9c6a00"/><path d="M1320 550l-36 0 -76 -15 -34 -20 -4 -23 15 -15 30 -14 45 -10 40 -2 50 1 42 8 33 14 16 16 -1 20 -28 20 -42 13zM1845 750l-50 -5 -40 -16 -20 -29 9 -30 20 -15 26 -10 50 -7 55 8 40 24 10 25 -15 25 -38 20z" fill="#9c9500"/></g><path d="M140.9 95.1C141.5 94.4 151.5 93.7 158.9 93.1C166.4 92.5 178.3 91.9 185.6 91.5C193.0 91.0 200.6 90.0 203.0 90.5C205.3 90.9 203.6 93.1 199.6 94.1C195.6 95.1 186.3 95.9 178.9 96.5C171.6 97.1 161.9 98.0 155.6 97.8C149.2 97.6 140.3 95.9 140.9 95.1Z" fill="#63d900"/></g>
</g>
<g transform="translate(65.6,187.0)" clip-path="url(#sc)">
<g filter="url(#cm2)"><rect x="-60" y="-70" width="420" height="280" fill="#806600"/><g filter="url(#hb8)"><rect x="-100" y="-110" width="500" height="360" fill="#806600"/><path d="M45 68l2 -1 9 -5 30 -12 18 -10 10 -4 12 -3 14 -1 16 1 16 1 14 3 5 1 11 5 12 8 5 6 2 2 1 6 -1 5 -3 5 -2 2 -8 4 -11 3 -12 3 -20 2 -15 0 -16 -2 -34 -4 -50 -11 -4 -2z" fill="#802000"/><path d="M199 19l-1 3 -3 2 -4 2 -7 2 -16 3 -19 1 -19 -1 -16 -3 -7 -2 -4 -2 -3 -2 -1 -3 1 -2 3 -3 4 -2 7 -2 16 -2 19 -1 19 1 16 2 7 2 4 2 3 3z" fill="#80c600"/><path d="M219 96l-1 1 -3 2 -12 2 -17 2 -20 0 -21 0 -17 -2 -12 -2 -3 -2 -1 -1 1 -1 3 -2 12 -2 17 -2 21 -1 20 1 17 2 12 2 3 2z" fill="#80bf00"/><path d="M102 48l3 -3 6 -3 11 -4 7 -1 4 0 13 3 20 2 7 2 3 3 -1 1 -2 1 -24 4 -18 8 -5 1 -4 -1 -14 -7 -6 -4z" fill="#800300" stroke="#800300" stroke-width="13" stroke-linejoin="round"/><path d="M160 78l2 -2 11 -12 4 -2 7 -2 6 -1 6 0 7 3 2 3 0 4 -3 3 -8 5 -8 2 -10 3 -8 0 -7 -1 -1 -1z" fill="#800300" stroke="#800300" stroke-width="13" stroke-linejoin="round"/></g><g transform="scale(0.1)" fill-rule="evenodd"><path d="M1290 616l-30 4 -30 -5 -119 -60 -76 -46 -12 -19 2 -16 45 -39 55 -26 90 -32 70 -11 60 5 120 31 182 18 73 21 27 19 0 10 -17 11 -235 52 -120 54zM1745 820l-95 -1 -35 -11 -13 -18 12 -30 97 -105 29 -24 90 -34 90 -15 45 7 35 13 25 14 19 19 8 30 -9 30 -16 20 -42 32 -55 29 -45 17z" fill="#9c1500"/><path d="M1295 560l-45 0 -50 -25 -19 -20 -10 -20 1 -15 9 -15 19 -17 30 -14 65 -9 58 10 46 30 7 10 0 15 -22 35 -34 21zM1840 760l-55 0 -43 -15 -7 -11 -1 -19 16 -40 40 -25 65 -12 55 7 35 20 6 15 -2 15 -22 35 -37 21z" fill="#9c4000"/></g></g>
</g>
<g transform="translate(65.6,337.0)" clip-path="url(#sc)">
<g filter="url(#cm2)"><rect x="-60" y="-70" width="420" height="280" fill="#806000"/><g filter="url(#hb8)"><rect x="-100" y="-110" width="500" height="360" fill="#806000"/><path d="M39 67l2 -2 11 -6 17 -6 29 -10 18 -5 16 -1 14 0 17 1 16 2 13 3 12 5 10 5 8 5 3 3 1 2 -1 3 -1 3 -2 2 -8 5 -10 4 -5 2 -13 1 -94 -5 -43 -6 -6 -2 -3 -1z" fill="#802000"/><path d="M166 66l-2 3 -3 2 -6 2 -6 0 -6 0 -6 -2 -4 -2 -1 -3 1 -3 4 -2 6 -2 6 -1 6 1 6 2 3 2z" fill="#806600"/><path d="M199 18l-1 2 -3 2 -4 3 -6 1 -15 3 -18 1 -18 -1 -15 -3 -6 -1 -4 -3 -3 -2 0 -2 0 -3 3 -2 4 -2 6 -2 15 -3 18 -1 18 1 15 3 6 2 4 2 3 2z" fill="#809900"/><path d="M219 96l-1 1 -3 2 -12 2 -17 2 -20 0 -21 0 -17 -2 -12 -2 -3 -2 -1 -1 1 -1 3 -2 12 -2 17 -2 21 -1 20 1 17 2 12 2 3 2z" fill="#809900"/><path d="M170 77l1 -4 3 -5 4 -3 5 -2 5 -1 6 1 4 1 2 3 0 3 -2 3 -5 3 -6 2 -7 2 -4 0 -4 -1z" fill="#800300" stroke="#800300" stroke-width="13" stroke-linejoin="round"/></g><g transform="scale(0.1)" fill-rule="evenodd"><path d="M1790 800l-30 0 -30 -7 -20 -12 -8 -16 2 -25 15 -30 24 -30 27 -21 55 -28 60 -10 70 8 25 13 18 18 6 20 -5 20 -17 25 -24 20 -83 36z" fill="#9c1500"/></g></g>
</g>
<g transform="translate(65.6,487.0)" clip-path="url(#sc)">
<g filter="url(#cm2)"><rect x="-60" y="-70" width="420" height="280" fill="#805900"/><g filter="url(#hb8)"><rect x="-100" y="-110" width="500" height="360" fill="#805900"/><path d="M32 70l3 -2 4 -2 24 -7 28 -7 22 -3 13 -1 6 2 4 3 2 2 1 3 -1 4 -3 3 -8 6 -13 4 -19 2 -20 2 -18 -2 -18 -3 -7 -2z" fill="#803300"/><path d="M202 70l-1 3 -4 2 -6 2 -7 0 -7 0 -6 -2 -4 -2 -1 -3 1 -2 4 -3 6 -1 7 -1 7 1 6 1 4 3z" fill="#801300"/><path d="M266 39l-1 2 -2 2 -6 4 -10 2 -11 1 -12 -1 -10 -2 -6 -4 -2 -2 0 -2 0 -2 2 -2 6 -3 10 -3 12 -1 11 1 10 3 6 3 2 2z" fill="#802d00"/><path d="M172 67l-1 3 -4 2 -6 2 -7 0 -7 0 -6 -2 -4 -2 -1 -3 1 -3 4 -2 6 -1 7 -1 7 1 6 1 4 2z" fill="#808c00"/><path d="M199 19l-1 2 -2 2 -8 4 -12 2 -14 1 -14 -1 -12 -2 -8 -4 -2 -2 0 -2 0 -2 2 -2 8 -3 12 -3 14 -1 14 1 12 3 8 3 2 2z" fill="#808600"/><path d="M186 94l-3 2 -9 1 -28 1 -29 -1 -8 -1 -3 -2 3 -1 8 -2 29 -1 28 1 9 2z" fill="#808000"/></g></g>
</g>
<g transform="translate(65.6,637.0)" clip-path="url(#sc)">
<g filter="url(#cm2)"><rect x="-60" y="-70" width="420" height="280" fill="#805900"/><g filter="url(#hb8)"><rect x="-100" y="-110" width="500" height="360" fill="#805900"/><path d="M202 69l-1 3 -3 1 -5 2 -6 0 -5 0 -5 -2 -4 -1 -1 -3 1 -2 4 -2 5 -1 5 -1 6 1 5 1 3 2z" fill="#803900"/><path d="M252 38l0 3 -2 2 -6 4 -10 2 -12 1 -11 -1 -10 -2 -6 -4 -2 -2 -1 -3 1 -2 2 -2 6 -4 10 -2 11 -1 12 1 10 2 6 4 2 2z" fill="#804000"/><path d="M169 67l-1 2 -3 2 -5 2 -6 0 -6 0 -5 -2 -3 -2 -1 -2 1 -3 3 -2 5 -1 6 -1 6 1 5 1 3 2z" fill="#808000"/></g></g>
</g>
<line x1="319.7" y1="174.2" x2="349.8" y2="297.1" stroke="#000" stroke-width="0.9" />
<line x1="319.7" y1="324.2" x2="349.8" y2="447.1" stroke="#000" stroke-width="0.9" />
<line x1="319.7" y1="474.2" x2="349.8" y2="597.1" stroke="#000" stroke-width="0.9" />
<line x1="319.7" y1="624.2" x2="349.8" y2="747.1" stroke="#000" stroke-width="0.9" />
<line x1="64.6" y1="35.2" x2="64.6" y2="638.0" stroke="#000" stroke-width="3.5" />
<line x1="64.6" y1="36.1" x2="320.0" y2="20.3" stroke="#000" stroke-width="2.7" stroke-linecap="square"/>
<line x1="320.0" y1="21.2" x2="351.8" y2="148.6" stroke="#000" stroke-width="3.4" stroke-linecap="round"/>
<line x1="351.4" y1="148.6" x2="351.4" y2="748.6" stroke="#000" stroke-width="3.2" />
<line x1="65.0" y1="637.0" x2="97.2" y2="763.7" stroke="#000" stroke-width="3.6" stroke-linecap="round"/>
<line x1="98.8" y1="763.7" x2="351.8" y2="748.6" stroke="#000" stroke-width="2.2" stroke-linecap="round"/>
<line x1="65.6" y1="637.0" x2="320.0" y2="621.2" stroke="#000" stroke-width="2.0" />
<line x1="320.0" y1="621.2" x2="351.8" y2="748.6" stroke="#000" stroke-width="3.3" stroke-linecap="round"/>
<line x1="318.0" y1="624.2" x2="348.9" y2="746.1" stroke="#fff" stroke-width="0.7" stroke-opacity="0.85"/>
<line x1="67.3" y1="640.0" x2="99.5" y2="761.7" stroke="#fff" stroke-width="0.7" stroke-opacity="0.85" stroke-dasharray="2.4 1.6"/>
<line x1="346.8" y1="148.6" x2="350.8" y2="148.6" stroke="#000" stroke-width="0.8" />
<line x1="348.2" y1="178.6" x2="350.8" y2="178.6" stroke="#000" stroke-width="0.8" />
<line x1="348.2" y1="208.6" x2="350.8" y2="208.6" stroke="#000" stroke-width="0.8" />
<line x1="348.2" y1="238.6" x2="350.8" y2="238.6" stroke="#000" stroke-width="0.8" />
<line x1="348.2" y1="268.6" x2="350.8" y2="268.6" stroke="#000" stroke-width="0.8" />
<line x1="346.8" y1="298.6" x2="350.8" y2="298.6" stroke="#000" stroke-width="0.8" />
<line x1="348.2" y1="328.6" x2="350.8" y2="328.6" stroke="#000" stroke-width="0.8" />
<line x1="348.2" y1="358.6" x2="350.8" y2="358.6" stroke="#000" stroke-width="0.8" />
<line x1="348.2" y1="388.6" x2="350.8" y2="388.6" stroke="#000" stroke-width="0.8" />
<line x1="348.2" y1="418.6" x2="350.8" y2="418.6" stroke="#000" stroke-width="0.8" />
<line x1="346.8" y1="448.6" x2="350.8" y2="448.6" stroke="#000" stroke-width="0.8" />
<line x1="348.2" y1="478.6" x2="350.8" y2="478.6" stroke="#000" stroke-width="0.8" />
<line x1="348.2" y1="508.6" x2="350.8" y2="508.6" stroke="#000" stroke-width="0.8" />
<line x1="348.2" y1="538.6" x2="350.8" y2="538.6" stroke="#000" stroke-width="0.8" />
<line x1="348.2" y1="568.6" x2="350.8" y2="568.6" stroke="#000" stroke-width="0.8" />
<line x1="346.8" y1="598.6" x2="350.8" y2="598.6" stroke="#000" stroke-width="0.8" />
<line x1="348.2" y1="628.6" x2="350.8" y2="628.6" stroke="#000" stroke-width="0.8" />
<line x1="348.2" y1="658.6" x2="350.8" y2="658.6" stroke="#000" stroke-width="0.8" />
<line x1="348.2" y1="688.6" x2="350.8" y2="688.6" stroke="#000" stroke-width="0.8" />
<line x1="348.2" y1="718.6" x2="350.8" y2="718.6" stroke="#000" stroke-width="0.8" />
<line x1="346.8" y1="748.6" x2="350.8" y2="748.6" stroke="#000" stroke-width="0.8" />
<text class="b" x="359.1" y="154.8" font-size="18.5">700</text>
<text class="b" x="359.1" y="304.8" font-size="18.5">600</text>
<text class="b" x="359.1" y="454.8" font-size="18.5">500</text>
<text class="b" x="359.1" y="604.8" font-size="18.5">400</text>
<text class="b" x="359.1" y="754.8" font-size="18.5">300</text>
<text class="b" transform="translate(97.5,778.7) rotate(-3.5)" text-anchor="middle" y="6" font-size="18.5">90</text>
<text class="b" transform="translate(161.5,774.9) rotate(-3.5)" text-anchor="middle" y="6" font-size="18.5">135</text>
<text class="b" transform="translate(225.5,771.2) rotate(-3.5)" text-anchor="middle" y="6" font-size="18.5">180</text>
<text class="b" transform="translate(289.5,767.4) rotate(-3.5)" text-anchor="middle" y="6" font-size="18.5">225</text>
<text class="b" transform="translate(353.5,763.6) rotate(-3.5)" text-anchor="middle" y="6" font-size="18.5">270</text>
<text class="b" transform="translate(56.3,644.0) rotate(4)" text-anchor="end" y="6" font-size="18.5">90</text>
<text class="b" transform="translate(64.6,675.7) rotate(4)" text-anchor="end" y="6" font-size="18.5">45</text>
<text class="b" transform="translate(72.9,707.4) rotate(4)" text-anchor="end" y="6" font-size="18.5">0</text>
<text class="b" transform="translate(81.2,739.0) rotate(4)" text-anchor="end" y="6" font-size="18.5">-45</text>
<text class="b" transform="translate(88.3,772.2) rotate(4)" text-anchor="end" y="6" font-size="18.5">-90</text>
<text class="b" transform="translate(230,791) rotate(-3.5)" text-anchor="middle" y="9" font-size="25.4">Longitude (°)</text>
<text class="b" transform="translate(26,706) rotate(77)" text-anchor="middle" y="9" font-size="25.6">Latitude (°)</text>
<text class="b" transform="translate(406.6,446) rotate(-90)" text-anchor="middle" y="9" font-size="25.8">Altitude (km)</text>
</g>
<g transform="translate(0,871.5)">
<polygon points="65.6,37.0 320.0,21.2 320.0,621.2 98.8,763.7 65.6,637.0" fill="#d9d9d9"/>
<polygon points="65.6,37.0 98.8,163.7 98.8,763.7 65.6,637.0" fill="#d9d9d9"/>
<polygon points="320.0,21.2 351.8,148.6 351.8,748.6 320.0,621.2" fill="#414141"/>
<line x1="129.2" y1="33.0" x2="129.2" y2="633.0" stroke="#111" stroke-width="1" />
<line x1="327.9" y1="53.0" x2="327.9" y2="653.0" stroke="#000" stroke-width="1" />
<line x1="192.8" y1="29.1" x2="192.8" y2="629.1" stroke="#111" stroke-width="1" />
<line x1="335.9" y1="84.9" x2="335.9" y2="684.9" stroke="#000" stroke-width="1" />
<line x1="256.4" y1="25.1" x2="256.4" y2="625.1" stroke="#111" stroke-width="1" />
<line x1="343.9" y1="116.8" x2="343.9" y2="716.8" stroke="#000" stroke-width="1" />
<line x1="65.6" y1="37.0" x2="320.0" y2="21.2" stroke="#111" stroke-width="1" />
<line x1="320.0" y1="23.7" x2="350.3" y2="146.6" stroke="#000" stroke-width="1" />
<line x1="65.6" y1="187.0" x2="320.0" y2="171.2" stroke="#111" stroke-width="1" />
<line x1="320.0" y1="173.7" x2="350.3" y2="296.6" stroke="#000" stroke-width="1" />
<line x1="65.6" y1="337.0" x2="320.0" y2="321.2" stroke="#111" stroke-width="1" />
<line x1="320.0" y1="323.7" x2="350.3" y2="446.6" stroke="#000" stroke-width="1" />
<line x1="65.6" y1="487.0" x2="320.0" y2="471.2" stroke="#111" stroke-width="1" />
<line x1="320.0" y1="473.7" x2="350.3" y2="596.6" stroke="#000" stroke-width="1" />
<line x1="65.6" y1="637.0" x2="320.0" y2="621.2" stroke="#111" stroke-width="1" />
<line x1="320.0" y1="623.7" x2="350.3" y2="746.6" stroke="#000" stroke-width="1" />
<line x1="320.5" y1="21.2" x2="320.5" y2="621.2" stroke="#000" stroke-width="2.6" />
<g transform="translate(65.6,37.0)" clip-path="url(#sc)">
<g filter="url(#cm2)"><rect x="-60" y="-70" width="420" height="280" fill="#808000"/><g filter="url(#hb12)"><rect x="-100" y="-110" width="500" height="360" fill="#808000"/><path d="M274 90l3 12 0 3 -2 4 -3 3 -5 4 -6 2 -8 2 -19 3 -26 2 -66 1 -37 0 -20 -1 -17 -3 -14 -3 -9 -5 -7 -5 -3 -5 -5 -14 -2 -10 1 -4 2 -3 2 -2 4 -3 12 -4 15 -3 21 -2 20 -1 63 -1 32 0 19 1 14 2 12 3 10 3 7 4 5 5 4 6z" fill="#80fc00" stroke="#80fc00" stroke-width="16" stroke-linejoin="round"/><path d="M290 16l2 8 0 6 -1 5 -2 4 -4 4 -7 4 -9 3 -10 2 -24 4 -29 2 -63 0 -50 -1 -26 -2 -23 -3 -19 -5 -13 -5 -9 -7 -3 -3 -3 -4 -6 -14 -2 -8 0 -5 1 -5 2 -4 4 -3 5 -4 14 -5 20 -4 21 -2 27 -1 61 0 44 1 24 1 20 3 16 4 14 4 11 5 8 7 4 6z" fill="#800300" stroke="#800300" stroke-width="16" stroke-linejoin="round"/></g><g transform="scale(0.1)" fill-rule="evenodd"><path d="M1590 1270l-505 -1 -125 -6 -125 -11 -140 -21 -80 -18 -90 -30 -45 -20 -54 -33 -39 -35 -32 -45 -43 -105 -25 -95 -4 -50 7 -35 17 -30 28 -28 43 -27 48 -20 135 -35 169 -24 210 -12 755 -14 175 1 310 13 130 13 115 20 90 26 71 32 52 35 47 50 27 50 39 105 23 105 -3 25 -13 35 -23 30 -35 28 -100 45 -140 34 -225 27 -185 11z" fill="#63ea00"/><path d="M1590 1250l-450 -2 -170 -8 -210 -28 -85 -19 -85 -26 -60 -26 -60 -35 -40 -36 -23 -30 -29 -60 -30 -90 -14 -70 4 -40 18 -30 34 -30 97 -50 128 -39 170 -27 160 -11 370 -11 410 -5 310 8 150 10 121 15 114 25 95 34 75 44 51 47 29 45 32 80 27 120 1 30 -11 30 -19 26 -38 29 -52 27 -60 23 -170 38 -220 25z" fill="#63bf00"/><path d="M1585 1235l-385 -2 -220 -12 -210 -33 -130 -39 -115 -58 -40 -32 -33 -39 -19 -35 -28 -80 -18 -80 3 -29 23 -31 35 -30 97 -57 110 -38 135 -27 150 -15 167 -8 588 -11 170 2 170 7 190 18 105 20 95 28 85 38 70 49 47 54 31 70 28 120 2 35 -6 25 -22 27 -35 27 -104 51 -71 22 -110 22 -185 22 -320 15z" fill="#639500"/><path d="M1585 1220l-300 0 -195 -8 -115 -12 -120 -19 -150 -41 -65 -27 -60 -35 -37 -28 -34 -35 -27 -40 -20 -55 -19 -75 2 -30 52 -65 83 -60 110 -43 110 -25 140 -19 170 -10 585 -12 165 2 175 9 140 16 130 25 102 32 78 37 59 43 47 55 31 65 22 105 2 40 -6 20 -21 25 -39 31 -55 32 -60 24 -135 34 -180 24 -325 17z" fill="#636a00"/><path d="M1585 1205l-300 0 -190 -11 -180 -24 -145 -37 -115 -51 -53 -37 -32 -30 -35 -46 -19 -44 -16 -60 3 -40 43 -70 36 -35 33 -23 110 -46 140 -31 240 -24 205 -8 545 -3 270 23 140 27 95 28 80 37 66 45 47 55 35 70 17 95 0 30 -6 20 -30 35 -46 35 -88 41 -135 35 -175 25 -305 17z" fill="#634000"/><path d="M1550 1195l-260 -4 -190 -13 -170 -27 -150 -42 -105 -54 -45 -37 -27 -33 -30 -50 -18 -55 1 -55 11 -35 42 -60 59 -40 82 -33 145 -35 210 -23 205 -9 390 -5 160 3 170 13 105 15 125 27 85 29 76 38 61 45 39 50 34 75 9 40 3 50 -3 20 -13 25 -61 57 -45 25 -55 21 -135 34 -185 24 -255 15z" fill="#631500"/><path d="M1540 1185l-250 -5 -185 -15 -165 -28 -145 -45 -95 -54 -37 -33 -22 -30 -27 -55 -17 -55 -4 -45 9 -40 36 -50 37 -26 50 -26 100 -34 115 -23 170 -19 200 -9 390 -5 160 3 130 10 145 21 95 21 105 37 66 35 63 50 34 50 26 65 10 45 1 40 -7 25 -19 30 -29 29 -40 27 -105 41 -80 20 -95 17 -150 16 -200 10z" fill="#471500"/><path d="M1555 1175l-260 -4 -185 -16 -160 -28 -140 -46 -88 -51 -34 -30 -23 -30 -27 -55 -18 -60 -3 -40 9 -35 14 -25 24 -25 76 -47 95 -35 135 -27 145 -17 195 -9 390 -5 155 4 135 11 115 16 110 25 90 31 75 39 61 49 35 50 22 55 12 45 3 40 -6 25 -17 30 -23 25 -37 27 -100 43 -145 34 -175 22 -200 10z" fill="#474000"/><path d="M1590 1165l-140 3 -160 -5 -130 -11 -175 -28 -132 -39 -95 -50 -37 -30 -31 -35 -28 -55 -17 -55 -5 -40 7 -35 14 -25 28 -30 76 -48 110 -38 130 -24 115 -13 185 -9 395 -6 155 5 135 12 115 17 100 24 86 30 73 40 54 45 31 40 24 55 18 85 -3 25 -12 25 -20 25 -37 30 -94 44 -120 32 -200 27 -195 10z" fill="#476a00"/><path d="M1535 1160l-240 -5 -135 -12 -175 -29 -130 -42 -85 -49 -60 -61 -26 -52 -17 -55 -4 -35 7 -35 36 -50 73 -50 101 -37 125 -24 115 -14 185 -10 400 -5 150 5 135 12 110 17 100 25 82 31 63 35 52 45 31 40 26 60 12 45 3 40 -7 25 -14 25 -29 30 -37 25 -93 40 -139 32 -145 17 -195 11z" fill="#479500"/><path d="M1680 1150l-225 2 -235 -10 -175 -25 -145 -40 -45 -19 -60 -36 -32 -27 -29 -35 -26 -50 -17 -55 -5 -35 7 -35 28 -45 59 -46 90 -38 105 -24 145 -19 175 -10 440 -5 120 5 145 14 120 21 90 25 80 34 57 38 47 50 30 55 22 75 1 30 -6 25 -17 30 -25 25 -34 24 -45 23 -115 35 -150 24 -120 11z" fill="#47bf00"/><path d="M1555 1145l-170 -1 -215 -15 -155 -27 -125 -40 -90 -54 -49 -58 -26 -55 -15 -60 -1 -30 9 -35 40 -50 57 -37 80 -29 120 -25 165 -18 125 -5 400 -6 145 5 140 14 100 16 90 23 65 25 55 29 53 43 33 45 26 60 15 80 -18 50 -49 48 -85 41 -135 33 -140 18 -150 9z" fill="#47ea00"/><path d="M1695 1135l-300 4 -170 -10 -170 -25 -130 -37 -55 -25 -40 -25 -32 -27 -27 -35 -28 -60 -15 -50 -4 -40 8 -35 38 -50 54 -35 71 -27 115 -24 115 -15 175 -10 435 -6 120 6 140 14 100 17 85 22 75 31 52 32 38 35 33 50 28 85 5 35 -3 25 -12 30 -19 25 -62 43 -115 40 -150 25 -200 15z" fill="#2aea00"/><path d="M1685 1131l-290 2 -170 -10 -165 -24 -130 -38 -50 -22 -40 -26 -34 -28 -23 -30 -26 -55 -16 -50 -6 -45 7 -35 33 -45 55 -37 70 -26 115 -26 110 -13 175 -11 430 -6 125 6 140 14 95 16 85 23 65 27 57 33 38 35 32 50 28 85 5 35 -3 25 -13 30 -19 23 -65 43 -105 36 -145 25 -205 16z" fill="#2abf00"/><path d="M1680 1125l-285 3 -170 -11 -155 -22 -130 -37 -80 -40 -43 -33 -20 -25 -22 -40 -23 -65 -8 -45 6 -35 29 -45 51 -36 74 -29 112 -25 114 -14 170 -11 430 -6 123 6 142 15 95 16 85 24 65 27 54 33 36 35 28 45 29 90 4 30 -4 25 -12 27 -19 23 -69 45 -97 32 -145 25 -200 15z" fill="#2a9500"/><path d="M1670 1120l-280 2 -165 -11 -150 -21 -135 -39 -80 -41 -36 -30 -19 -23 -20 -37 -23 -65 -8 -45 5 -35 30 -45 51 -35 63 -25 112 -26 115 -15 175 -11 425 -5 120 6 145 15 93 16 87 24 69 31 47 30 34 35 26 45 27 85 3 30 -4 25 -28 45 -31 25 -38 21 -95 31 -140 24 -200 15z" fill="#2a6a00"/><path d="M1655 1115l-265 0 -165 -10 -155 -23 -128 -37 -76 -40 -52 -50 -24 -45 -20 -60 -7 -40 5 -35 26 -40 51 -36 77 -29 118 -25 155 -16 115 -6 420 -5 120 5 145 15 94 17 86 25 67 30 45 30 33 35 25 45 25 85 -1 45 -27 45 -31 25 -36 20 -91 30 -144 25 -196 15z" fill="#2a4000"/><path d="M1670 1105l-275 2 -110 -5 -185 -22 -121 -30 -89 -40 -35 -25 -29 -30 -26 -49 -20 -59 -7 -42 6 -30 14 -25 19 -20 60 -35 76 -25 102 -20 260 -21 420 -5 120 5 150 16 82 15 88 25 66 30 45 30 31 35 23 42 25 83 -2 45 -13 25 -18 20 -62 40 -97 30 -128 21 -200 16z" fill="#2a1500"/><path d="M1655 1090l-260 1 -112 -6 -172 -20 -124 -30 -88 -40 -54 -47 -25 -45 -20 -58 -7 -35 3 -25 25 -40 56 -35 72 -25 98 -20 108 -13 165 -10 405 -5 225 16 84 12 88 20 59 20 72 40 37 35 25 43 25 82 0 35 -10 22 -19 23 -56 35 -98 30 -122 20 -195 15z" fill="#0e0000"/><path d="M1645 940l-235 3 -240 -20 -144 -33 -46 -22 -15 -23 10 -12 35 -11 165 -24 175 -11 345 -5 185 11 155 22 97 30 28 18 10 17 -6 10 -29 12 -125 20 -200 16z" fill="#0e0000"/><path d="M1480 570l-485 2 -305 -17 -160 -20 -138 -25 -122 -32 -79 -28 -56 -25 -79 -50 -46 -40 -37 -50 -73 -163 0 -176 45 -46 35 -26 114 -54 156 -40 220 -33 23 -7 1569 0 243 37 150 30 110 32 135 60 90 66 39 45 30 55 46 130 14 65 1 50 -7 30 -23 43 -37 37 -46 30 -67 30 -80 25 -195 37 -200 19 -180 6 -215 -3z" fill="#9c1500"/><path d="M1290 570l-300 -1 -300 -24 -216 -40 -184 -62 -80 -39 -54 -34 -61 -48 -37 -42 -22 -35 -20 -50 -47 -160 1 -15 25 -42 28 -28 52 -35 55 -27 95 -36 110 -29 120 -23 170 -21 24 -14 12 -25 1225 0 9 20 25 14 270 30 185 38 125 40 110 48 90 60 57 60 21 35 21 55 30 100 7 50 -6 30 -23 35 -42 36 -77 44 -79 35 -94 31 -100 26 -150 24 -175 11z" fill="#9c4000"/><path d="M1255 570l-265 -4 -240 -22 -100 -17 -110 -26 -79 -26 -83 -35 -83 -45 -64 -45 -57 -50 -40 -45 -25 -40 -17 -50 -15 -80 0 -55 24 -25 49 -36 141 -69 164 -49 200 -38 47 -33 23 -40 1103 0 9 20 17 20 41 25 200 26 185 38 140 44 105 50 90 59 65 65 27 48 33 110 4 35 -10 20 -51 50 -67 50 -141 75 -155 49 -130 23 -105 10z" fill="#9c6a00"/><path d="M1305 565l-260 -1 -230 -20 -200 -40 -125 -44 -86 -45 -44 -30 -59 -50 -53 -55 -44 -60 -23 -45 -10 -50 0 -50 20 -25 54 -44 110 -64 105 -39 189 -43 56 -21 71 -49 31 -30 12 -20 920 0 13 20 43 36 75 40 215 34 95 20 105 30 115 48 95 56 72 61 50 60 25 65 3 30 -14 30 -53 70 -57 55 -66 48 -55 29 -75 29 -65 18 -170 30 -155 8z" fill="#9c9500"/><path d="M1275 565l-230 -4 -155 -14 -190 -35 -90 -26 -70 -28 -50 -25 -65 -44 -71 -74 -40 -55 -32 -60 -18 -55 0 -35 25 -35 42 -40 44 -33 50 -28 105 -41 145 -37 76 -26 139 -67 84 -48 16 -15 580 0 17 15 75 40 138 60 80 22 150 23 105 23 110 34 65 27 57 31 82 60 59 65 32 50 -1 30 -22 70 -24 50 -33 45 -42 40 -53 34 -110 44 -165 37 -155 14z" fill="#9cbf00"/><path d="M1590 560l-395 2 -190 -8 -190 -27 -162 -42 -63 -24 -55 -29 -40 -27 -56 -50 -35 -50 -35 -70 -17 -60 3 -50 25 -40 45 -44 50 -32 80 -35 425 -115 205 -49 85 -15 340 63 180 40 235 41 110 28 100 36 84 47 71 60 46 65 9 30 2 70 -6 45 -12 30 -43 60 -38 30 -48 27 -110 40 -155 31 -105 12z" fill="#9cea00"/><path d="M1660 556l-425 4 -185 -8 -160 -19 -90 -18 -108 -30 -77 -30 -54 -30 -42 -30 -45 -45 -28 -45 -26 -70 -8 -55 7 -40 36 -55 65 -48 105 -46 155 -38 160 -24 130 -12 140 -6 365 2 115 6 190 23 135 26 100 29 95 39 55 33 64 56 30 40 33 90 7 45 -2 25 -10 30 -20 35 -32 32 -40 27 -105 45 -152 36 -113 15z" fill="#b8ea00"/><path d="M1290 555l-185 -4 -205 -24 -160 -39 -115 -47 -86 -61 -53 -65 -22 -50 -14 -50 -2 -40 10 -35 18 -30 24 -25 75 -49 95 -38 120 -30 150 -22 135 -11 225 -6 295 0 150 11 135 17 140 29 100 32 85 40 73 52 47 55 32 75 11 50 1 30 -13 40 -20 30 -39 35 -50 30 -107 42 -135 30 -167 18 -198 8z" fill="#b8bf00"/><path d="M1300 550l-190 -5 -175 -21 -129 -29 -121 -44 -55 -30 -42 -31 -40 -40 -26 -35 -22 -45 -16 -60 -2 -35 10 -30 45 -55 88 -57 80 -30 110 -26 130 -19 130 -11 230 -7 285 0 155 11 130 17 135 28 100 34 80 41 65 49 45 55 29 70 10 45 1 30 -12 35 -18 28 -34 32 -44 30 -50 25 -62 21 -125 29 -169 20 -231 10z" fill="#b89500"/><path d="M1670 540l-420 5 -140 -8 -170 -22 -135 -33 -114 -47 -51 -32 -47 -43 -36 -45 -25 -50 -15 -60 3 -40 18 -35 22 -25 73 -55 77 -33 100 -26 140 -22 125 -11 235 -8 265 0 260 22 115 21 95 27 85 35 56 35 48 40 42 55 30 80 6 40 -3 25 -16 35 -25 30 -68 50 -85 36 -120 30 -160 21z" fill="#b86a00"/><path d="M1615 535l-365 2 -140 -8 -160 -22 -135 -34 -105 -46 -48 -32 -37 -35 -36 -50 -24 -50 -15 -60 4 -30 14 -30 27 -35 55 -44 67 -31 103 -29 130 -22 120 -11 240 -8 265 0 255 22 115 22 95 27 67 29 56 35 51 45 40 60 26 75 4 35 -4 20 -16 35 -24 30 -68 50 -97 37 -115 26 -160 19z" fill="#b84000"/><path d="M1590 530l-340 1 -145 -10 -155 -23 -135 -37 -50 -21 -50 -28 -41 -32 -31 -35 -30 -50 -23 -60 -6 -45 9 -35 28 -45 57 -45 82 -36 110 -27 135 -19 135 -10 430 -5 250 21 115 22 90 27 65 28 48 29 49 45 31 45 31 80 5 60 -11 30 -19 30 -64 52 -100 40 -105 24 -160 19z" fill="#b81500"/><path d="M1510 525l-260 -1 -145 -10 -150 -23 -139 -41 -91 -49 -37 -31 -24 -30 -27 -50 -19 -60 -6 -45 8 -35 14 -25 22 -25 54 -37 70 -28 110 -27 120 -17 135 -10 425 -5 245 20 90 17 90 24 55 21 75 43 46 44 26 40 31 90 5 40 -4 25 -16 35 -22 25 -26 22 -40 22 -95 34 -140 26 -170 15z" fill="#d41500"/><path d="M1635 515l-330 5 -140 -7 -195 -26 -110 -30 -75 -32 -40 -25 -61 -60 -26 -50 -19 -60 -6 -40 6 -35 13 -25 21 -25 50 -35 67 -28 105 -27 115 -17 135 -10 415 -6 215 15 95 15 90 22 75 26 55 29 40 30 41 46 35 80 10 45 2 35 -6 25 -14 25 -46 45 -82 38 -110 29 -170 22z" fill="#d44000"/><path d="M1615 510l-310 4 -140 -6 -165 -22 -130 -34 -96 -47 -38 -30 -35 -40 -25 -50 -18 -55 -5 -40 6 -35 31 -45 58 -40 77 -30 100 -23 225 -23 410 -5 215 14 180 36 75 27 52 29 40 30 38 45 32 75 11 45 2 35 -6 25 -14 25 -49 45 -86 39 -100 24 -160 21z" fill="#d46a00"/><path d="M1605 505l-300 4 -145 -8 -159 -21 -121 -33 -93 -47 -37 -30 -28 -35 -23 -40 -21 -65 -5 -40 4 -30 30 -45 56 -40 67 -27 95 -23 225 -24 410 -6 210 14 180 36 70 25 50 27 40 30 36 43 34 80 11 45 1 30 -6 25 -15 25 -22 25 -28 20 -80 35 -96 23 -160 21z" fill="#d49500"/><path d="M1585 500l-280 3 -150 -8 -145 -20 -126 -35 -84 -45 -35 -30 -24 -30 -22 -40 -22 -65 -5 -40 5 -30 28 -42 50 -37 61 -26 99 -24 215 -23 415 -5 205 13 173 34 69 25 46 25 42 31 36 44 32 80 11 45 0 30 -8 25 -16 25 -49 40 -87 35 -134 27 -180 16z" fill="#d4bf00"/><path d="M1510 495l-210 1 -160 -11 -136 -20 -119 -35 -72 -40 -33 -30 -25 -33 -21 -42 -19 -65 -3 -35 7 -30 25 -35 49 -35 62 -25 113 -25 187 -19 170 -5 310 2 175 17 151 35 59 24 42 26 36 30 32 45 30 87 5 53 -10 28 -19 27 -50 35 -97 35 -110 20 -179 15z" fill="#d4ea00"/><path d="M1495 480l-190 0 -155 -10 -133 -20 -119 -35 -70 -40 -28 -27 -20 -28 -20 -44 -19 -66 -2 -25 6 -23 12 -22 21 -20 52 -30 61 -20 98 -20 161 -16 135 -5 345 0 197 21 138 35 46 20 39 25 30 26 30 44 30 92 1 43 -27 45 -59 35 -95 30 -130 20 -139 10z" fill="#f1ff00"/><path d="M1495 330l-165 3 -105 -6 -140 -16 -85 -19 -46 -17 -30 -20 -11 -25 17 -14 55 -13 190 -21 145 -5 285 0 140 12 125 23 70 26 22 17 9 15 -4 15 -17 9 -100 19 -185 15z" fill="#f1ff00"/></g></g>
</g>
<g transform="translate(65.6,187.0)" clip-path="url(#sc)">
<g filter="url(#cm2)"><rect x="-60" y="-70" width="420" height="280" fill="#808000"/><g filter="url(#hb12)"><rect x="-100" y="-110" width="500" height="360" fill="#808000"/><path d="M271 90l3 13 0 3 -2 4 -2 3 -5 3 -6 3 -8 2 -18 3 -25 2 -65 1 -36 0 -19 -2 -17 -2 -13 -4 -9 -4 -7 -6 -3 -5 -5 -13 -2 -11 1 -4 1 -3 3 -2 4 -3 11 -4 15 -3 20 -2 19 -1 62 -1 31 0 18 1 14 2 12 3 9 3 8 5 5 4 3 6z" fill="#80fc00" stroke="#80fc00" stroke-width="16" stroke-linejoin="round"/><path d="M260 20l3 12 0 3 -2 5 -3 3 -5 3 -6 3 -8 2 -19 3 -27 2 -66 1 -38 0 -20 -2 -17 -2 -14 -4 -9 -4 -7 -6 -4 -5 -5 -14 -2 -10 1 -4 2 -3 2 -3 4 -2 12 -5 16 -3 21 -2 20 -1 64 -1 33 1 18 1 15 2 12 2 9 4 8 4 5 5 4 5z" fill="#800300" stroke="#800300" stroke-width="16" stroke-linejoin="round"/></g><g transform="scale(0.1)" fill-rule="evenodd"><path d="M1745 1270l-45 4 -640 -1 -155 -12 -130 -17 -90 -18 -100 -30 -65 -28 -45 -28 -53 -50 -19 -25 -30 -65 -40 -125 -11 -70 8 -40 13 -25 27 -28 60 -38 121 -39 154 -26 165 -15 220 -10 750 -11 325 13 125 15 123 24 92 30 69 35 57 45 41 55 37 90 23 75 10 50 1 45 -7 30 -18 30 -30 30 -38 23 -70 30 -85 24 -190 30 -205 16z" fill="#63ea00"/><path d="M1720 1251l-345 1 -305 -6 -155 -15 -90 -15 -85 -18 -85 -26 -120 -56 -39 -31 -36 -40 -27 -55 -28 -80 -19 -85 2 -40 17 -27 35 -32 90 -47 115 -39 161 -30 289 -22 735 -11 190 7 140 12 125 19 102 25 70 25 85 45 57 50 32 45 44 125 14 65 2 45 -10 30 -20 25 -80 50 -86 32 -70 19 -180 29 -155 14z" fill="#63bf00"/><path d="M1760 1230l-380 3 -295 -10 -170 -22 -160 -38 -64 -23 -81 -40 -45 -29 -37 -36 -23 -32 -23 -53 -26 -95 -4 -45 11 -20 33 -30 92 -60 102 -43 125 -33 140 -20 140 -10 645 -12 145 2 210 15 110 17 110 25 90 31 85 45 64 53 39 55 35 110 9 95 -8 20 -19 20 -75 49 -125 47 -175 36 -155 17z" fill="#639500"/><path d="M1855 1210l-465 5 -200 -8 -200 -21 -158 -36 -117 -46 -75 -44 -46 -40 -30 -35 -17 -35 -22 -70 -4 -45 15 -25 41 -45 83 -63 105 -46 115 -28 85 -14 175 -15 255 -10 315 -3 125 2 180 13 140 20 115 26 103 38 79 45 57 50 40 55 30 100 3 80 -12 19 -28 26 -72 46 -60 27 -65 21 -115 25 -155 19z" fill="#636a00"/><path d="M1760 1195l-370 2 -150 -8 -165 -16 -90 -15 -100 -26 -55 -18 -70 -32 -94 -67 -42 -50 -18 -30 -15 -50 4 -35 14 -35 30 -45 59 -55 77 -41 115 -34 200 -30 105 -8 205 -9 325 -2 155 7 135 13 135 22 110 29 85 35 80 51 47 47 38 60 22 85 0 40 -6 20 -50 55 -81 49 -110 38 -130 25 -200 20z" fill="#634000"/><path d="M1800 1175l-395 4 -105 -5 -210 -23 -165 -38 -75 -27 -55 -29 -83 -67 -35 -50 -15 -35 -3 -30 5 -55 30 -60 58 -50 73 -35 130 -36 145 -23 175 -13 455 -6 155 9 125 14 135 26 95 27 80 35 50 32 49 45 40 60 16 40 8 40 -3 50 -16 30 -21 25 -37 30 -36 21 -95 37 -130 28 -185 22z" fill="#631500"/><path d="M1790 1160l-380 3 -105 -6 -205 -26 -155 -39 -75 -31 -40 -22 -35 -25 -43 -44 -28 -50 -13 -40 -6 -50 6 -35 33 -50 66 -45 100 -38 118 -27 122 -17 130 -10 450 -6 245 21 115 21 100 27 62 24 68 37 57 48 29 40 29 75 5 40 -3 25 -11 30 -19 25 -61 45 -91 39 -135 32 -165 21z" fill="#471500"/><path d="M1785 1145l-370 3 -105 -7 -170 -21 -150 -36 -115 -50 -55 -38 -31 -31 -23 -35 -19 -50 -8 -40 5 -40 29 -45 61 -45 91 -40 110 -28 115 -17 130 -12 195 -7 250 1 250 24 110 22 90 27 65 28 60 36 45 40 30 41 26 80 -1 55 -30 45 -65 45 -101 40 -124 28 -130 18z" fill="#474000"/><path d="M1775 1130l-235 3 -225 -8 -145 -19 -151 -36 -104 -44 -84 -61 -27 -35 -19 -40 -11 -45 3 -35 32 -50 57 -45 72 -35 97 -29 115 -20 130 -13 350 -8 105 3 145 12 95 14 115 26 86 30 64 34 59 46 43 55 22 70 0 50 -11 20 -24 25 -64 43 -80 33 -115 29 -125 19z" fill="#476a00"/><path d="M1725 1115l-180 2 -230 -10 -140 -19 -135 -34 -102 -44 -78 -59 -27 -36 -15 -30 -9 -40 3 -30 29 -50 52 -45 68 -35 84 -27 110 -21 130 -14 345 -8 105 3 145 14 90 14 115 29 80 31 59 34 55 50 34 50 16 65 -4 40 -47 50 -67 40 -91 33 -125 26 -135 15z" fill="#479500"/><path d="M1630 1100l-215 -2 -145 -14 -125 -22 -110 -32 -85 -42 -70 -60 -24 -38 -11 -35 0 -25 11 -35 31 -45 53 -40 85 -36 85 -22 95 -16 145 -12 140 -5 235 3 205 24 160 42 65 29 52 33 44 45 30 50 13 65 -12 35 -52 50 -81 40 -89 27 -125 22 -170 14z" fill="#47bf00"/><path d="M1625 1085l-200 -2 -120 -11 -135 -23 -120 -36 -83 -43 -59 -55 -20 -35 -8 -25 10 -70 33 -45 42 -29 70 -31 80 -22 175 -26 190 -9 150 0 100 4 140 15 95 17 95 28 80 36 46 32 34 35 26 45 12 65 -11 35 -42 44 -80 42 -85 26 -110 20 -165 16z" fill="#47ea00"/><path d="M1605 1075l-180 -5 -150 -15 -115 -23 -100 -33 -80 -45 -48 -49 -25 -60 4 -60 27 -40 47 -33 59 -27 76 -22 90 -17 140 -14 280 -5 100 4 140 16 90 18 90 27 65 30 40 25 43 43 22 40 10 60 -11 40 -44 44 -65 34 -80 26 -105 21 -160 15z" fill="#2aea00"/><path d="M1605 1065l-170 -4 -125 -12 -120 -21 -110 -35 -79 -43 -51 -50 -25 -60 -2 -30 6 -25 23 -35 46 -35 57 -26 90 -26 95 -16 110 -11 280 -5 100 5 135 15 85 17 65 19 59 23 66 39 40 41 22 40 10 55 -12 40 -40 40 -65 35 -80 26 -95 19 -155 15z" fill="#2abf00"/><path d="M1615 1055l-170 -2 -130 -12 -115 -21 -100 -31 -70 -36 -60 -53 -18 -30 -10 -30 -1 -30 6 -25 18 -30 45 -36 55 -26 90 -27 90 -15 105 -11 280 -5 195 15 100 17 80 23 62 25 58 35 38 40 21 35 11 55 -12 40 -41 40 -62 33 -85 27 -115 20 -120 11z" fill="#2a9500"/><path d="M1635 1045l-180 0 -135 -13 -115 -21 -90 -28 -67 -33 -62 -55 -26 -55 -2 -30 6 -25 24 -35 47 -35 65 -28 63 -17 187 -25 280 -6 197 16 93 17 75 21 65 27 48 30 31 30 26 40 12 55 -8 35 -37 40 -62 35 -85 27 -105 19 -150 13z" fill="#2a6a00"/><path d="M1730 1035l-170 3 -175 -8 -114 -15 -103 -25 -96 -40 -62 -50 -31 -55 -3 -30 5 -30 23 -35 39 -30 57 -26 68 -19 179 -25 278 -6 165 11 118 20 57 15 77 30 43 25 30 25 29 40 14 45 -4 45 -26 35 -44 30 -49 21 -95 26 -100 15z" fill="#2a4000"/><path d="M1730 1025l-260 1 -80 -5 -114 -16 -102 -25 -94 -40 -55 -47 -29 -53 2 -55 22 -35 35 -26 53 -24 71 -20 171 -23 275 -6 165 11 165 33 104 45 40 30 26 35 15 40 -1 45 -23 35 -41 30 -44 20 -91 25 -100 16z" fill="#2a1500"/><path d="M1730 1005l-255 2 -80 -6 -118 -16 -97 -25 -81 -35 -53 -45 -25 -50 2 -45 22 -30 38 -25 48 -20 77 -20 87 -14 110 -9 275 0 161 18 73 15 64 20 53 25 38 25 16 15 20 32 10 33 -5 40 -20 26 -43 29 -70 25 -64 15z" fill="#0e0000"/><path d="M1705 856l-215 1 -117 -12 -44 -15 30 -10 76 -7 215 -1 119 13 33 10 2 5 -35 10z" fill="#0e0000"/><path d="M1495 560l-585 1 -120 -5 -235 -24 -107 -22 -79 -25 -58 -25 -55 -35 -37 -35 -22 -30 -37 -80 -28 -85 -18 -85 7 -45 18 -35 31 -31 85 -46 125 -37 170 -27 185 -17 305 -12 315 -6 470 2 180 11 140 17 140 28 110 37 70 38 63 53 37 60 36 95 30 125 -1 25 -10 30 -15 25 -40 38 -38 22 -52 20 -125 32 -200 26 -225 14z" fill="#9c1500"/><path d="M1515 555l-475 1 -240 -10 -165 -23 -82 -18 -93 -29 -120 -57 -50 -39 -30 -34 -28 -56 -28 -85 -18 -85 3 -35 12 -20 26 -25 88 -50 133 -45 162 -32 240 -24 200 -9 320 -6 400 3 155 8 130 15 140 25 90 25 90 36 63 39 50 45 34 60 42 130 11 55 -2 30 -15 30 -30 30 -38 25 -61 30 -149 46 -185 28 -170 12z" fill="#9c4000"/><path d="M1520 550l-305 3 -310 -11 -170 -23 -170 -43 -87 -36 -61 -35 -50 -35 -45 -45 -21 -35 -21 -60 -18 -85 1 -35 16 -20 45 -35 100 -55 136 -47 115 -24 180 -22 205 -12 310 -7 265 2 170 5 116 10 129 18 150 34 90 33 84 45 66 57 33 53 35 110 9 55 -2 25 -18 25 -37 32 -105 61 -80 30 -75 20 -175 27 -270 16z" fill="#9c6a00"/><path d="M1515 545l-300 2 -250 -13 -160 -21 -154 -38 -76 -30 -70 -37 -52 -38 -53 -50 -31 -40 -14 -29 -15 -61 -3 -45 17 -25 48 -45 82 -55 86 -37 105 -29 185 -29 200 -14 425 -8 325 11 180 22 140 31 107 38 88 49 65 56 35 55 29 95 5 40 -6 20 -37 45 -47 40 -99 55 -125 38 -135 23 -260 20z" fill="#9c9500"/><path d="M1500 540l-280 0 -180 -10 -215 -30 -130 -35 -108 -50 -51 -35 -39 -35 -45 -55 -27 -45 -14 -35 1 -35 17 -35 30 -40 61 -54 85 -44 80 -26 175 -32 205 -18 415 -9 325 14 120 15 165 37 101 37 72 40 71 60 44 65 22 85 -4 25 -13 30 -24 35 -34 35 -59 40 -36 18 -140 42 -175 27 -168 13z" fill="#9cbf00"/><path d="M1675 530l-415 4 -120 -5 -195 -21 -175 -41 -70 -25 -54 -27 -45 -30 -44 -40 -40 -55 -30 -65 -5 -25 8 -45 28 -50 52 -49 75 -40 110 -34 160 -27 155 -15 410 -10 150 5 170 13 120 18 120 28 95 33 79 43 60 50 41 55 17 35 10 40 -8 65 -35 60 -69 54 -100 41 -115 28 -150 21z" fill="#9cea00"/><path d="M1660 525l-405 2 -115 -5 -170 -21 -160 -38 -115 -47 -61 -41 -36 -35 -30 -45 -20 -50 -11 -55 5 -40 11 -25 22 -30 60 -45 68 -30 107 -30 115 -21 155 -16 395 -10 280 16 140 20 105 25 80 27 87 44 56 45 39 50 28 70 7 45 -2 25 -10 30 -15 25 -57 50 -93 43 -120 32 -140 21z" fill="#b8ea00"/><path d="M1640 520l-380 1 -115 -6 -170 -23 -140 -35 -120 -54 -46 -33 -37 -35 -29 -45 -20 -50 -9 -55 5 -30 28 -45 57 -45 91 -40 91 -25 89 -17 150 -16 385 -11 150 5 130 12 140 22 96 25 79 29 67 36 58 45 38 50 29 80 4 35 -4 25 -11 25 -24 30 -63 45 -79 36 -110 30 -160 23z" fill="#b8bf00"/><path d="M1670 510l-60 4 -390 -2 -170 -17 -90 -16 -86 -24 -74 -29 -64 -36 -71 -63 -25 -37 -20 -50 -8 -45 3 -30 26 -40 55 -45 74 -36 100 -31 105 -19 120 -13 370 -11 225 12 130 17 95 20 80 26 75 34 68 46 47 50 33 75 6 35 -2 25 -29 50 -61 50 -67 35 -105 32 -155 24z" fill="#b89500"/><path d="M1650 505l-405 2 -190 -20 -155 -37 -102 -45 -53 -35 -34 -35 -31 -39 -17 -36 -14 -50 3 -35 35 -50 53 -40 65 -32 95 -28 125 -21 150 -13 290 -6 220 12 125 17 95 22 75 25 70 34 61 45 47 55 26 65 3 30 -4 20 -36 55 -61 50 -75 35 -86 24 -125 20z" fill="#b86a00"/><path d="M1625 500l-355 1 -70 -5 -145 -18 -140 -35 -93 -43 -69 -55 -34 -45 -19 -35 -14 -50 3 -30 32 -50 49 -40 80 -37 85 -23 95 -16 145 -14 295 -5 145 5 100 11 95 15 85 20 70 26 65 34 56 44 38 50 25 65 -5 40 -13 30 -22 30 -56 45 -73 33 -115 28 -120 16z" fill="#b84000"/><path d="M1660 490l-55 4 -345 0 -175 -19 -135 -32 -99 -43 -71 -58 -31 -47 -16 -35 -11 -45 4 -25 25 -45 44 -38 65 -33 75 -22 100 -19 140 -14 225 -6 215 6 120 14 100 19 80 25 70 32 44 31 44 45 32 60 7 25 0 25 -8 35 -12 25 -47 47 -65 34 -90 26 -95 17z" fill="#b81500"/><path d="M1640 485l-380 3 -175 -21 -125 -30 -95 -44 -32 -23 -35 -35 -26 -45 -12 -35 -7 -40 5 -30 22 -39 40 -33 50 -26 80 -25 115 -21 110 -11 255 -6 230 10 170 29 75 25 70 34 38 28 33 35 30 60 10 60 -15 50 -37 40 -64 35 -110 31 -115 17z" fill="#d41500"/><path d="M1630 480l-370 1 -170 -20 -120 -30 -95 -46 -32 -25 -28 -30 -35 -75 -5 -40 5 -30 21 -35 54 -40 60 -26 80 -22 190 -24 315 -6 205 16 85 15 75 20 105 49 35 27 27 31 27 55 12 60 -12 45 -36 40 -58 33 -105 31 -115 18z" fill="#d44000"/><path d="M1620 475l-360 0 -165 -20 -115 -30 -90 -45 -57 -55 -18 -30 -16 -45 -4 -35 5 -30 30 -40 45 -31 65 -27 65 -17 190 -24 305 -6 195 15 135 26 50 16 60 28 44 30 33 35 28 55 13 60 -14 45 -38 40 -56 30 -100 30 -110 16z" fill="#d46a00"/><path d="M1540 470l-195 2 -140 -8 -124 -19 -103 -30 -78 -43 -50 -52 -31 -70 -4 -35 5 -26 28 -39 47 -33 60 -25 69 -17 181 -22 310 -5 210 18 140 34 57 25 47 30 29 30 23 35 21 65 -1 40 -26 45 -49 35 -64 25 -97 22 -130 14z" fill="#d49500"/><path d="M1515 465l-170 0 -145 -9 -110 -17 -105 -31 -67 -38 -51 -55 -29 -70 -2 -30 4 -25 25 -35 45 -33 53 -22 77 -19 170 -20 305 -5 210 18 131 31 57 25 46 30 26 26 24 39 20 65 -3 40 -26 40 -50 34 -57 21 -93 20 -135 15z" fill="#d4bf00"/><path d="M1535 455l-185 2 -145 -9 -113 -18 -98 -30 -62 -35 -45 -50 -29 -70 -2 -30 5 -25 21 -30 39 -30 47 -20 78 -20 169 -20 305 -5 200 17 136 33 54 25 44 30 41 57 20 62 -1 36 -24 39 -44 31 -50 20 -96 22 -140 15z" fill="#d4ea00"/><path d="M1515 440l-165 1 -145 -11 -96 -15 -100 -30 -54 -30 -40 -42 -29 -73 2 -45 18 -25 33 -25 66 -25 65 -15 150 -16 320 -5 180 16 123 30 55 25 36 25 21 22 20 36 15 47 0 39 -20 32 -47 29 -78 25 -84 15 -106 10z" fill="#f1ff00"/><path d="M1505 290l-120 3 -105 -6 -115 -16 -20 -6 -7 -10 35 -10 72 -7 260 -6 185 16 51 17 -13 10 -38 7z" fill="#f1ff00"/></g></g>
</g>
<g transform="translate(65.6,337.0)" clip-path="url(#sc)">
<g filter="url(#cm2)"><rect x="-60" y="-70" width="420" height="280" fill="#808000"/><g filter="url(#hb12)"><rect x="-100" y="-110" width="500" height="360" fill="#808000"/><path d="M263 90l3 12 -1 3 -1 4 -3 3 -4 3 -6 3 -7 2 -17 3 -24 2 -50 1 -35 0 -18 -1 -16 -3 -13 -3 -9 -5 -7 -5 -4 -6 -4 -13 -2 -10 1 -4 1 -3 3 -2 3 -3 10 -4 14 -3 17 -2 20 -1 48 -1 31 0 16 1 14 2 11 3 10 3 7 5 6 5 3 5z" fill="#80fc00" stroke="#80fc00" stroke-width="16" stroke-linejoin="round"/><path d="M250 20l2 12 0 3 -1 4 -3 3 -4 2 -6 3 -8 2 -17 3 -24 1 -60 1 -35 0 -18 -1 -16 -2 -12 -4 -8 -4 -7 -5 -3 -5 -4 -12 -2 -10 0 -3 2 -3 2 -3 4 -2 11 -4 14 -3 19 -2 18 0 58 -1 30 0 16 1 14 2 11 2 9 3 7 4 4 4 3 6z" fill="#800300" stroke="#800300" stroke-width="16" stroke-linejoin="round"/></g><g transform="scale(0.1)" fill-rule="evenodd"><path d="M1710 1265l-495 1 -110 -5 -230 -28 -85 -19 -85 -27 -55 -25 -55 -35 -37 -32 -31 -40 -37 -80 -32 -105 -9 -55 8 -50 16 -30 29 -30 69 -40 90 -30 139 -26 145 -16 170 -11 695 -10 145 5 180 14 195 35 98 34 49 25 55 40 34 35 20 30 26 60 28 85 15 65 2 35 -10 40 -18 30 -24 25 -40 26 -65 30 -60 18 -195 35 -190 17z" fill="#63ea00"/><path d="M1700 1235l-395 0 -190 -10 -195 -28 -85 -20 -75 -25 -65 -30 -44 -27 -42 -35 -24 -30 -27 -55 -25 -75 -17 -80 4 -35 14 -25 25 -25 86 -50 105 -38 140 -32 230 -24 205 -8 420 -4 285 15 135 20 115 27 91 34 67 35 57 46 41 54 21 55 21 75 12 90 -8 25 -17 22 -71 48 -124 46 -185 37 -145 15z" fill="#63bf00"/><path d="M1715 1205l-250 3 -250 -8 -210 -27 -160 -42 -125 -60 -71 -61 -21 -35 -22 -60 -17 -75 0 -30 12 -20 37 -35 92 -57 90 -39 130 -33 185 -23 195 -10 310 -6 165 4 145 10 130 18 130 29 98 37 80 45 63 55 35 50 29 110 4 75 -34 37 -73 43 -122 45 -170 35 -220 20z" fill="#639500"/><path d="M1775 1175l-305 5 -210 -8 -140 -16 -160 -34 -120 -45 -70 -41 -38 -31 -32 -35 -17 -30 -19 -60 -1 -40 52 -70 69 -55 78 -40 93 -29 80 -16 140 -17 160 -10 295 -5 170 5 145 13 135 22 110 31 76 31 65 40 59 53 40 57 19 75 1 65 -14 20 -30 25 -71 43 -80 33 -140 35 -215 24z" fill="#636a00"/><path d="M1700 1150l-230 2 -200 -11 -140 -18 -120 -28 -118 -45 -87 -59 -31 -31 -25 -35 -14 -35 2 -25 37 -80 40 -45 69 -45 82 -31 85 -20 130 -18 160 -13 285 -5 175 8 140 15 90 15 100 27 80 31 74 46 53 55 36 60 15 65 -2 25 -6 15 -27 30 -36 30 -72 39 -90 31 -125 26 -155 17z" fill="#634000"/><path d="M1715 1121l-240 2 -200 -13 -140 -22 -135 -37 -95 -47 -50 -42 -28 -32 -13 -25 -5 -30 14 -80 31 -45 51 -38 65 -28 85 -25 125 -21 160 -15 290 -5 110 5 145 15 120 20 85 24 85 34 55 34 43 40 32 50 19 65 -4 40 -16 25 -29 30 -60 37 -95 36 -105 23 -145 17z" fill="#631500"/><path d="M1725 1095l-45 4 -195 0 -155 -10 -165 -26 -110 -31 -95 -43 -33 -24 -35 -35 -19 -30 -12 -35 0 -65 25 -40 44 -34 79 -36 89 -25 87 -16 160 -17 275 -5 220 16 100 16 90 22 80 29 65 34 50 40 28 41 18 55 -3 50 -28 41 -57 39 -83 35 -115 27 -125 17z" fill="#471500"/><path d="M1685 1080l-200 0 -150 -11 -145 -24 -100 -29 -88 -41 -62 -49 -20 -26 -15 -30 -7 -30 3 -30 25 -40 54 -40 50 -25 90 -30 110 -21 115 -12 255 -7 130 7 105 12 100 18 75 21 68 27 69 40 45 40 23 35 15 55 -8 35 -38 40 -69 40 -82 30 -88 21 -150 18z" fill="#474000"/><path d="M1695 1060l-200 2 -95 -6 -110 -14 -125 -28 -88 -34 -77 -49 -30 -30 -17 -26 -10 -30 1 -25 28 -40 53 -44 73 -36 62 -19 75 -16 115 -14 240 -7 135 7 105 13 150 37 68 29 48 30 46 40 32 45 10 40 -9 30 -45 41 -65 37 -55 21 -75 20 -145 21z" fill="#476a00"/><path d="M1710 1040l-215 2 -90 -5 -110 -15 -100 -24 -86 -33 -62 -40 -50 -55 -8 -20 1 -20 27 -45 35 -35 59 -35 68 -25 171 -29 235 -8 200 16 85 15 90 27 63 29 36 25 45 45 28 45 5 30 -15 25 -42 38 -65 36 -55 20 -70 16 -110 16z" fill="#479500"/><path d="M1725 1020l-250 3 -130 -14 -90 -18 -85 -27 -64 -34 -32 -25 -26 -30 -11 -20 0 -20 18 -45 24 -30 46 -32 50 -22 115 -27 215 -18 215 9 100 16 70 17 65 23 55 30 33 29 30 40 16 40 -5 25 -29 34 -50 34 -55 24 -65 17z" fill="#47bf00"/><path d="M1745 1000l-70 5 -205 -1 -125 -15 -95 -22 -90 -35 -55 -41 -26 -41 5 -50 13 -25 33 -29 80 -37 145 -29 175 -11 185 9 135 25 105 39 45 31 20 22 22 40 4 35 -15 30 -33 30 -38 22 -55 20 -75 17z" fill="#47ea00"/><path d="M1695 990l-225 -1 -120 -16 -85 -21 -78 -32 -49 -35 -28 -45 2 -45 19 -25 34 -26 40 -19 67 -20 133 -22 160 -7 150 10 135 26 90 36 39 27 22 25 16 35 1 30 -16 30 -37 32 -55 25 -55 16z" fill="#2aea00"/><path d="M1730 975l-250 2 -95 -12 -75 -17 -80 -30 -55 -34 -31 -39 -7 -20 2 -20 17 -25 39 -30 90 -36 120 -23 140 -9 165 10 130 25 90 35 32 23 24 25 15 35 1 25 -12 25 -30 28 -45 23 -55 18z" fill="#2abf00"/><path d="M1725 965l-235 1 -150 -26 -60 -21 -62 -34 -38 -37 -9 -33 15 -25 28 -25 86 -42 110 -24 130 -10 120 4 155 24 100 36 33 22 24 25 15 35 0 25 -15 25 -24 20 -43 22 -50 17z" fill="#2a9500"/><path d="M1720 955l-225 -1 -140 -26 -60 -22 -51 -31 -32 -35 -5 -25 16 -25 21 -20 73 -40 98 -23 130 -12 115 4 150 24 100 36 35 25 18 21 9 25 1 25 -13 23 -25 20 -90 37z" fill="#2a6a00"/><path d="M1715 945l-175 1 -100 -12 -58 -14 -62 -22 -46 -28 -28 -30 -5 -25 10 -20 17 -20 36 -25 31 -14 90 -22 125 -11 105 2 150 23 90 32 31 20 24 25 9 25 -1 25 -13 19 -20 16 -85 35z" fill="#2a4000"/><path d="M1740 930l-190 4 -131 -19 -65 -20 -48 -25 -31 -30 -5 -30 10 -20 21 -20 61 -30 83 -19 115 -10 95 3 142 21 88 30 32 20 23 25 6 20 -2 20 -29 30 -70 31z" fill="#2a1500"/><path d="M1730 910l-170 3 -124 -18 -64 -20 -39 -20 -27 -25 -4 -20 9 -15 25 -20 64 -25 140 -21 95 0 100 11 89 20 60 25 36 33 2 17 -7 15 -38 25 -77 25z" fill="#0e0000"/><path d="M1295 540l-250 3 -275 -15 -205 -32 -75 -21 -60 -24 -50 -30 -40 -36 -22 -25 -23 -45 -36 -100 -17 -70 -2 -45 9 -30 16 -25 30 -29 35 -21 50 -21 55 -18 85 -18 170 -23 150 -12 375 -11 605 1 105 6 110 11 135 23 105 30 87 42 48 37 43 53 39 95 21 75 8 40 -1 40 -11 30 -21 30 -33 25 -38 20 -109 35 -173 28 -190 15 -370 12z" fill="#9c1500"/><path d="M1275 535l-230 -2 -210 -17 -175 -33 -130 -44 -89 -49 -40 -35 -24 -30 -25 -60 -22 -75 -10 -60 4 -30 16 -20 26 -20 94 -46 140 -42 165 -29 220 -18 235 -8 605 5 145 15 125 21 99 27 86 35 60 37 45 44 29 54 26 75 17 95 -7 25 -14 20 -41 32 -55 29 -130 44 -130 27 -145 16 -330 14z" fill="#9c4000"/><path d="M1285 525l-215 -4 -155 -16 -135 -25 -138 -45 -63 -30 -54 -34 -45 -35 -29 -31 -18 -30 -14 -45 -13 -65 1 -25 13 -17 45 -33 119 -60 121 -39 145 -28 150 -15 290 -11 230 0 235 7 150 14 110 19 90 23 95 37 69 38 58 50 25 40 23 70 13 75 -6 15 -18 20 -49 38 -54 32 -61 27 -80 28 -115 24 -195 21 -205 9z" fill="#9c6a00"/><path d="M1300 515l-150 -3 -195 -21 -115 -23 -100 -32 -98 -51 -91 -75 -49 -65 -11 -40 1 -25 59 -60 82 -55 87 -38 125 -33 150 -21 115 -8 185 -7 220 0 305 17 135 22 120 34 70 29 85 54 55 56 21 50 9 40 0 25 -45 60 -39 35 -41 27 -65 33 -55 19 -135 30 -135 15 -195 11z" fill="#9c9500"/><path d="M1610 505l-340 1 -115 -7 -190 -25 -118 -29 -96 -40 -74 -50 -68 -80 -25 -45 -3 -25 35 -55 61 -55 93 -48 85 -25 140 -24 120 -11 185 -9 200 0 165 7 120 12 115 19 85 22 95 37 65 38 48 42 45 60 7 25 -2 20 -39 80 -45 45 -77 45 -77 27 -85 19 -125 17z" fill="#9cbf00"/><path d="M1620 495l-340 1 -70 -4 -150 -17 -150 -34 -104 -41 -71 -47 -30 -33 -28 -45 -17 -45 0 -25 25 -50 45 -45 63 -35 87 -29 120 -24 120 -13 185 -10 190 0 165 9 110 13 115 22 75 21 75 31 50 29 47 41 35 50 7 20 1 25 -20 75 -35 40 -60 40 -79 30 -71 18 -120 19z" fill="#9cea00"/><path d="M1625 486l-350 1 -185 -21 -137 -31 -103 -40 -45 -27 -40 -33 -26 -35 -17 -40 -7 -40 5 -30 29 -45 51 -37 64 -28 91 -25 120 -22 115 -11 305 -5 105 6 135 15 175 40 55 21 69 36 39 30 31 40 22 55 -4 60 -27 40 -54 40 -71 30 -95 25 -125 20z" fill="#b8ea00"/><path d="M1630 476l-350 2 -185 -24 -110 -27 -117 -52 -64 -50 -23 -30 -14 -30 -8 -35 4 -30 28 -40 60 -40 72 -30 87 -24 185 -26 120 -6 175 0 205 18 170 38 76 30 53 30 45 35 24 30 20 50 1 40 -20 35 -47 40 -67 34 -97 31 -108 20z" fill="#b8bf00"/><path d="M1525 470l-215 -1 -85 -7 -125 -20 -90 -25 -91 -42 -65 -50 -40 -55 -9 -30 1 -25 25 -35 46 -35 73 -35 75 -23 175 -28 120 -7 170 0 195 19 75 15 85 24 59 25 59 35 45 40 24 35 9 45 -19 35 -57 50 -64 35 -61 22 -100 22 -130 14z" fill="#b89500"/><path d="M1545 460l-140 2 -120 -5 -115 -14 -120 -30 -78 -33 -62 -45 -46 -60 -12 -30 0 -20 32 -40 36 -26 64 -34 76 -24 165 -25 95 -6 165 0 190 20 140 36 60 26 50 31 39 37 25 35 4 30 -31 50 -45 40 -52 29 -60 22 -75 17z" fill="#b86a00"/><path d="M1570 450l-150 4 -110 -5 -130 -17 -105 -26 -71 -31 -55 -40 -37 -50 -12 -35 1 -20 25 -35 54 -39 45 -20 65 -20 145 -22 85 -6 165 0 180 21 134 36 52 25 44 30 45 55 5 25 -22 50 -28 31 -43 29 -52 22 -70 18z" fill="#b84000"/><path d="M1575 440l-150 5 -110 -5 -120 -17 -105 -27 -60 -27 -53 -39 -29 -45 -6 -30 2 -20 15 -25 42 -35 34 -18 65 -21 140 -24 75 -6 160 0 175 20 90 22 55 21 40 22 36 29 20 25 11 30 -6 40 -18 30 -36 30 -47 23 -70 21z" fill="#b81500"/><path d="M1490 435l-85 0 -125 -10 -86 -15 -100 -30 -51 -25 -44 -35 -22 -40 1 -40 17 -25 38 -30 57 -24 55 -16 165 -23 165 -1 145 16 105 26 85 40 34 27 18 25 10 35 -7 35 -25 30 -40 24 -53 21 -82 19z" fill="#d41500"/><path d="M1485 425l-165 -8 -101 -17 -65 -20 -65 -30 -46 -35 -25 -35 0 -30 17 -23 30 -22 49 -25 66 -22 135 -22 160 -2 140 16 105 27 74 38 29 25 17 25 7 30 -9 30 -32 30 -46 25 -105 29z" fill="#d44000"/><path d="M1520 410l-90 3 -95 -8 -120 -25 -58 -25 -54 -35 -32 -35 -5 -25 16 -20 40 -30 92 -40 106 -20 150 -3 135 14 94 24 71 36 27 24 18 25 5 25 -6 20 -24 25 -40 25 -45 18 -55 14z" fill="#d46a00"/><path d="M1565 395l-140 4 -90 -9 -80 -18 -50 -18 -45 -29 -34 -35 -7 -25 14 -20 28 -25 64 -33 95 -22 110 -5 110 4 125 24 72 32 27 20 20 25 8 20 -3 20 -15 20 -29 23 -75 30z" fill="#d49500"/><path d="M1515 385l-75 1 -60 -5 -115 -24 -45 -19 -31 -23 -20 -25 -3 -25 11 -20 23 -22 65 -30 80 -16 120 -4 105 8 95 21 60 29 22 19 13 20 5 20 -8 20 -22 22 -35 20 -85 24z" fill="#d4bf00"/><path d="M1545 370l-110 2 -85 -10 -60 -15 -43 -17 -27 -18 -17 -22 -2 -25 24 -32 50 -25 70 -15 85 -6 100 2 94 16 69 25 22 15 18 20 7 20 -3 15 -16 20 -23 15 -63 22z" fill="#d4ea00"/><path d="M1560 345l-110 4 -107 -14 -52 -15 -31 -15 -20 -18 -4 -17 9 -15 14 -10 71 -25 70 -9 100 0 126 19 52 20 28 25 -1 20 -34 25 -47 15z" fill="#f1ff00"/></g></g>
</g>
<g transform="translate(65.6,487.0)" clip-path="url(#sc)">
<g filter="url(#cm2)"><rect x="-60" y="-70" width="420" height="280" fill="#808000"/><g filter="url(#hb12)"><rect x="-100" y="-110" width="500" height="360" fill="#808000"/><path d="M248 89l2 10 -1 4 -1 3 -3 2 -4 3 -11 5 -15 3 -19 2 -33 1 -31 -1 -17 -1 -15 -2 -12 -3 -9 -4 -7 -5 -4 -6 -4 -9 -2 -9 2 -6 5 -6 9 -4 12 -3 14 -2 17 -1 31 -1 28 0 15 1 13 2 11 2 9 3 7 4 6 5 4 5z" fill="#80fc00" stroke="#80fc00" stroke-width="16" stroke-linejoin="round"/><path d="M232 22l3 10 0 3 -1 3 -3 3 -4 3 -11 4 -15 2 -19 2 -37 0 -29 0 -17 -2 -16 -2 -13 -4 -9 -4 -7 -5 -5 -5 -5 -11 -1 -8 1 -5 6 -5 9 -4 13 -2 15 -2 16 -1 33 0 26 1 16 1 13 2 11 3 9 3 8 4 6 5 3 4z" fill="#800300" stroke="#800300" stroke-width="16" stroke-linejoin="round"/></g><g transform="scale(0.1)" fill-rule="evenodd"><path d="M1665 1220l-310 0 -215 -16 -170 -30 -65 -18 -81 -31 -54 -30 -40 -30 -50 -61 -30 -67 -20 -70 -5 -57 10 -40 33 -45 77 -47 101 -33 109 -21 145 -17 185 -11 440 -5 125 5 160 15 112 19 82 20 81 29 60 31 65 55 30 41 39 94 15 65 1 35 -11 35 -22 35 -57 45 -41 20 -74 25 -160 32 -165 17z" fill="#63ea00"/><path d="M1665 1180l-270 0 -130 -9 -165 -23 -100 -24 -70 -24 -95 -46 -44 -34 -29 -30 -23 -40 -23 -65 -10 -55 4 -30 41 -45 79 -45 85 -33 140 -36 115 -18 125 -10 230 -7 190 1 130 9 115 15 85 16 95 28 85 35 70 42 48 43 31 45 26 80 9 50 -2 25 -10 20 -22 22 -70 41 -125 44 -155 32 -175 19z" fill="#63bf00"/><path d="M1670 1140l-305 -3 -205 -27 -120 -33 -117 -52 -78 -60 -21 -25 -14 -29 -14 -51 1 -25 45 -45 82 -55 86 -40 100 -32 75 -15 120 -14 305 -9 110 4 120 12 115 20 90 25 82 34 74 45 63 55 37 55 16 65 -5 30 -60 45 -79 40 -103 36 -125 27 -105 13z" fill="#639500"/><path d="M1685 1100l-205 2 -100 -5 -105 -13 -120 -25 -90 -32 -90 -50 -67 -62 -16 -25 0 -15 43 -60 52 -50 48 -32 85 -39 71 -19 119 -19 290 -11 115 6 120 15 80 16 95 30 70 35 49 38 55 60 34 60 -1 25 -36 35 -56 38 -77 37 -103 31 -95 16z" fill="#636a00"/><path d="M1705 1060l-215 3 -75 -4 -125 -17 -80 -18 -90 -31 -71 -43 -47 -45 -6 -15 2 -15 26 -60 21 -30 30 -27 55 -33 65 -23 100 -21 160 -14 140 -2 115 8 115 16 75 18 77 28 51 30 36 30 32 45 17 45 1 30 -34 38 -55 36 -40 19 -80 25 -80 16z" fill="#634000"/><path d="M1710 1020l-215 4 -70 -5 -115 -17 -100 -27 -70 -31 -54 -44 -11 -30 8 -50 17 -30 35 -30 40 -21 50 -18 130 -26 180 -10 170 9 130 23 60 18 58 25 43 30 24 25 17 40 -1 40 -13 25 -33 27 -50 26 -55 19 -85 18z" fill="#631500"/><path d="M1670 990l-185 0 -95 -12 -95 -21 -80 -29 -50 -28 -35 -39 -3 -36 15 -25 38 -29 100 -38 125 -23 170 -7 125 12 130 28 100 42 28 20 21 25 7 30 -8 25 -23 24 -34 21 -101 36z" fill="#471500"/><path d="M1595 970l-105 -2 -84 -13 -56 -16 -50 -20 -65 -36 -33 -28 -7 -20 15 -20 36 -25 99 -42 120 -24 110 -2 115 14 80 22 98 47 33 25 15 20 -3 15 -23 21 -93 49 -117 30z" fill="#474000"/><path d="M1595 950l-100 -3 -100 -22 -43 -20 -35 -25 -28 -30 -2 -15 17 -20 34 -25 68 -30 74 -14 90 -2 80 9 70 19 61 33 42 40 0 15 -13 15 -65 44 -75 25z" fill="#476a00"/><path d="M1595 930l-95 -3 -75 -18 -53 -34 -14 -20 -2 -20 24 -29 45 -24 50 -12 70 -4 85 7 49 12 46 24 25 26 5 15 -4 15 -36 35 -50 22z" fill="#479500"/><path d="M1585 910l-85 -5 -55 -14 -37 -26 -7 -15 2 -15 17 -20 30 -15 55 -11 40 -1 100 12 37 15 22 20 4 25 -23 26 -35 16z" fill="#47bf00"/><path d="M1590 861l-35 3 -53 -14 12 -10 41 -5 33 5 23 10z" fill="#47ea00"/><path d="M1485 520l-320 -5 -175 -16 -190 -32 -131 -42 -101 -55 -42 -35 -26 -35 -34 -60 -28 -70 -8 -45 5 -42 15 -26 26 -27 69 -39 100 -31 135 -22 240 -18 485 -1 195 11 170 22 110 22 105 33 80 37 60 40 44 46 46 81 27 69 6 60 -26 55 -64 45 -85 30 -138 26 -165 17z" fill="#9c1500"/><path d="M1525 505l-230 -1 -200 -15 -145 -24 -145 -42 -121 -58 -49 -34 -34 -31 -27 -35 -25 -50 -22 -70 0 -30 13 -17 30 -21 92 -42 128 -36 125 -23 145 -14 265 -7 175 1 185 13 135 19 100 22 100 33 80 37 65 45 39 40 29 50 28 75 3 45 -32 35 -82 44 -90 32 -120 30 -80 12 -125 12z" fill="#9c4000"/><path d="M1565 485l-205 1 -180 -11 -135 -21 -110 -29 -113 -50 -98 -70 -67 -75 -19 -40 -3 -30 10 -14 23 -16 92 -48 90 -34 87 -23 93 -17 135 -12 170 -6 165 2 110 7 125 16 85 17 105 31 85 38 65 41 55 53 27 45 14 50 -11 24 -79 56 -104 50 -57 20 -85 20 -110 17z" fill="#9c6a00"/><path d="M1565 465l-270 -1 -185 -24 -110 -28 -92 -42 -66 -50 -69 -85 -16 -30 0 -15 31 -30 72 -47 70 -31 90 -26 190 -25 250 -5 220 20 100 20 80 24 55 24 70 42 49 44 33 45 0 25 -47 55 -48 40 -60 35 -72 27 -95 22z" fill="#9c9500"/><path d="M1565 445l-180 3 -80 -4 -125 -15 -125 -30 -79 -34 -54 -40 -38 -55 -16 -40 -2 -25 25 -30 44 -33 70 -33 45 -14 90 -18 80 -9 225 -8 165 14 170 36 65 24 40 22 47 34 33 40 5 15 -2 15 -30 60 -28 30 -50 33 -50 21 -70 20z" fill="#9cbf00"/><path d="M1565 425l-175 4 -80 -5 -115 -16 -110 -28 -65 -28 -50 -38 -23 -39 -6 -30 3 -25 16 -25 41 -30 39 -20 70 -21 160 -24 165 -5 165 15 130 28 100 41 59 51 7 25 -10 50 -22 30 -29 23 -43 22 -57 19 -105 20z" fill="#9cea00"/><path d="M1510 410l-125 1 -65 -6 -105 -17 -70 -18 -67 -25 -57 -35 -24 -30 -2 -33 17 -27 34 -25 89 -35 145 -27 145 -6 165 17 100 23 101 43 29 21 19 24 4 30 -10 25 -20 20 -42 25 -72 25 -67 15z" fill="#b8ea00"/><path d="M1515 385l-130 3 -130 -23 -50 -18 -58 -32 -47 -35 -8 -20 12 -15 35 -25 81 -38 75 -19 125 -9 90 8 90 21 84 37 41 28 22 22 2 10 -9 15 -69 45 -71 29z" fill="#b8bf00"/><path d="M1490 360l-100 2 -95 -18 -40 -18 -28 -21 -21 -25 -3 -20 27 -30 44 -25 51 -14 80 -8 85 7 55 12 58 28 33 30 7 15 -3 10 -39 40 -46 22z" fill="#b89500"/><path d="M1460 335l-70 -1 -75 -16 -41 -28 -7 -15 2 -15 18 -20 33 -15 95 -12 105 15 30 14 24 23 0 25 -24 24 -45 15z" fill="#b86a00"/></g></g>
</g>
<g transform="translate(65.6,637.0)" clip-path="url(#sc)">
<g filter="url(#cm2)"><rect x="-60" y="-70" width="420" height="280" fill="#807300"/><g filter="url(#hb12)"><rect x="-100" y="-110" width="500" height="360" fill="#807300"/><path d="M209 85l1 4 -3 4 -4 3 -7 2 -8 3 -10 1 -25 1 -21 -1 -10 -2 -8 -2 -7 -3 -5 -3 -2 -4 -1 -4 1 -3 3 -3 5 -3 7 -2 18 -3 22 -1 21 1 17 4 6 2 5 3 3 3z" fill="#80fc00" stroke="#80fc00" stroke-width="16" stroke-linejoin="round"/><path d="M195 26l1 4 -2 3 -4 3 -7 3 -8 2 -10 1 -25 1 -21 -2 -9 -2 -9 -2 -7 -3 -4 -4 -3 -3 -1 -4 1 -4 3 -2 5 -3 7 -2 17 -3 23 0 19 2 17 3 7 3 4 2 4 3z" fill="#800300" stroke="#800300" stroke-width="16" stroke-linejoin="round"/></g><g transform="scale(0.1)" fill-rule="evenodd"><path d="M1590 1030l-35 3 -185 -10 -115 -18 -97 -25 -74 -30 -59 -39 -25 -38 -6 -23 1 -20 22 -35 42 -30 112 -40 69 -15 125 -16 200 -6 205 17 150 32 75 29 42 24 29 25 20 30 6 40 -15 30 -37 32 -60 29 -80 24 -90 17 -110 12z" fill="#63ea00"/><path d="M1665 985l-110 3 -100 -4 -120 -20 -63 -24 -44 -25 -51 -40 -14 -25 16 -20 48 -35 90 -40 73 -16 165 -9 110 6 125 26 88 43 40 30 21 25 -1 15 -19 20 -84 52 -80 25z" fill="#63bf00"/><path d="M1655 940l-130 4 -130 -17 -42 -17 -28 -20 -15 -25 0 -20 23 -30 42 -20 50 -11 85 -10 90 2 100 13 60 21 35 30 8 15 1 15 -28 35 -51 22z" fill="#639500"/><path d="M1605 425l-255 2 -150 -16 -120 -26 -100 -35 -61 -35 -30 -30 -14 -22 -7 -23 2 -25 15 -26 30 -26 47 -23 78 -24 155 -24 205 -6 195 16 90 16 85 22 60 24 55 29 33 27 23 30 10 35 -6 26 -25 30 -36 24 -106 35z" fill="#9c1500"/><path d="M1560 385l-190 4 -75 -8 -80 -16 -56 -20 -55 -30 -60 -50 -12 -25 17 -20 45 -30 96 -39 105 -18 95 -3 150 10 110 24 40 17 50 29 59 55 3 15 -11 15 -71 47 -75 29z" fill="#9c4000"/><path d="M1510 345l-130 3 -75 -9 -50 -12 -39 -17 -26 -20 -14 -25 -1 -20 18 -25 42 -24 67 -16 68 -6 100 2 92 14 59 20 37 30 10 20 1 15 -11 20 -17 15 -61 25z" fill="#9c6a00"/><path d="M1455 271l-55 -1 -27 -10 52 -7 42 7 3 5z" fill="#9c9500"/></g></g>
</g>
<line x1="319.7" y1="174.2" x2="349.8" y2="297.1" stroke="#000" stroke-width="0.9" />
<line x1="319.7" y1="324.2" x2="349.8" y2="447.1" stroke="#000" stroke-width="0.9" />
<line x1="319.7" y1="474.2" x2="349.8" y2="597.1" stroke="#000" stroke-width="0.9" />
<line x1="319.7" y1="624.2" x2="349.8" y2="747.1" stroke="#000" stroke-width="0.9" />
<line x1="64.6" y1="35.2" x2="64.6" y2="638.0" stroke="#000" stroke-width="3.5" />
<line x1="64.6" y1="36.1" x2="320.0" y2="20.3" stroke="#000" stroke-width="2.7" stroke-linecap="square"/>
<line x1="320.0" y1="21.2" x2="351.8" y2="148.6" stroke="#000" stroke-width="3.4" stroke-linecap="round"/>
<line x1="351.4" y1="148.6" x2="351.4" y2="748.6" stroke="#000" stroke-width="3.2" />
<line x1="65.0" y1="637.0" x2="97.2" y2="763.7" stroke="#000" stroke-width="3.6" stroke-linecap="round"/>
<line x1="98.8" y1="763.7" x2="351.8" y2="748.6" stroke="#000" stroke-width="2.2" stroke-linecap="round"/>
<line x1="65.6" y1="637.0" x2="320.0" y2="621.2" stroke="#000" stroke-width="2.0" />
<line x1="320.0" y1="621.2" x2="351.8" y2="748.6" stroke="#000" stroke-width="3.3" stroke-linecap="round"/>
<line x1="318.0" y1="624.2" x2="348.9" y2="746.1" stroke="#fff" stroke-width="0.7" stroke-opacity="0.85"/>
<line x1="67.3" y1="640.0" x2="99.5" y2="761.7" stroke="#fff" stroke-width="0.7" stroke-opacity="0.85" stroke-dasharray="2.4 1.6"/>
<line x1="346.8" y1="148.6" x2="350.8" y2="148.6" stroke="#000" stroke-width="0.8" />
<line x1="348.2" y1="178.6" x2="350.8" y2="178.6" stroke="#000" stroke-width="0.8" />
<line x1="348.2" y1="208.6" x2="350.8" y2="208.6" stroke="#000" stroke-width="0.8" />
<line x1="348.2" y1="238.6" x2="350.8" y2="238.6" stroke="#000" stroke-width="0.8" />
<line x1="348.2" y1="268.6" x2="350.8" y2="268.6" stroke="#000" stroke-width="0.8" />
<line x1="346.8" y1="298.6" x2="350.8" y2="298.6" stroke="#000" stroke-width="0.8" />
<line x1="348.2" y1="328.6" x2="350.8" y2="328.6" stroke="#000" stroke-width="0.8" />
<line x1="348.2" y1="358.6" x2="350.8" y2="358.6" stroke="#000" stroke-width="0.8" />
<line x1="348.2" y1="388.6" x2="350.8" y2="388.6" stroke="#000" stroke-width="0.8" />
<line x1="348.2" y1="418.6" x2="350.8" y2="418.6" stroke="#000" stroke-width="0.8" />
<line x1="346.8" y1="448.6" x2="350.8" y2="448.6" stroke="#000" stroke-width="0.8" />
<line x1="348.2" y1="478.6" x2="350.8" y2="478.6" stroke="#000" stroke-width="0.8" />
<line x1="348.2" y1="508.6" x2="350.8" y2="508.6" stroke="#000" stroke-width="0.8" />
<line x1="348.2" y1="538.6" x2="350.8" y2="538.6" stroke="#000" stroke-width="0.8" />
<line x1="348.2" y1="568.6" x2="350.8" y2="568.6" stroke="#000" stroke-width="0.8" />
<line x1="346.8" y1="598.6" x2="350.8" y2="598.6" stroke="#000" stroke-width="0.8" />
<line x1="348.2" y1="628.6" x2="350.8" y2="628.6" stroke="#000" stroke-width="0.8" />
<line x1="348.2" y1="658.6" x2="350.8" y2="658.6" stroke="#000" stroke-width="0.8" />
<line x1="348.2" y1="688.6" x2="350.8" y2="688.6" stroke="#000" stroke-width="0.8" />
<line x1="348.2" y1="718.6" x2="350.8" y2="718.6" stroke="#000" stroke-width="0.8" />
<line x1="346.8" y1="748.6" x2="350.8" y2="748.6" stroke="#000" stroke-width="0.8" />
<text class="b" x="359.1" y="154.8" font-size="18.5">700</text>
<text class="b" x="359.1" y="304.8" font-size="18.5">600</text>
<text class="b" x="359.1" y="454.8" font-size="18.5">500</text>
<text class="b" x="359.1" y="604.8" font-size="18.5">400</text>
<text class="b" x="359.1" y="754.8" font-size="18.5">300</text>
<text class="b" transform="translate(97.5,778.7) rotate(-3.5)" text-anchor="middle" y="6" font-size="18.5">90</text>
<text class="b" transform="translate(161.5,774.9) rotate(-3.5)" text-anchor="middle" y="6" font-size="18.5">135</text>
<text class="b" transform="translate(225.5,771.2) rotate(-3.5)" text-anchor="middle" y="6" font-size="18.5">180</text>
<text class="b" transform="translate(289.5,767.4) rotate(-3.5)" text-anchor="middle" y="6" font-size="18.5">225</text>
<text class="b" transform="translate(353.5,763.6) rotate(-3.5)" text-anchor="middle" y="6" font-size="18.5">270</text>
<text class="b" transform="translate(56.3,644.0) rotate(4)" text-anchor="end" y="6" font-size="18.5">90</text>
<text class="b" transform="translate(64.6,675.7) rotate(4)" text-anchor="end" y="6" font-size="18.5">45</text>
<text class="b" transform="translate(72.9,707.4) rotate(4)" text-anchor="end" y="6" font-size="18.5">0</text>
<text class="b" transform="translate(81.2,739.0) rotate(4)" text-anchor="end" y="6" font-size="18.5">-45</text>
<text class="b" transform="translate(88.3,772.2) rotate(4)" text-anchor="end" y="6" font-size="18.5">-90</text>
<text class="b" transform="translate(230,791) rotate(-3.5)" text-anchor="middle" y="9" font-size="25.4">Longitude (°)</text>
<text class="b" transform="translate(26,706) rotate(77)" text-anchor="middle" y="9" font-size="25.6">Latitude (°)</text>
<text class="b" transform="translate(406.6,446) rotate(-90)" text-anchor="middle" y="9" font-size="25.8">Altitude (km)</text>
</g>
<g transform="translate(435,871.5)">
<polygon points="65.6,37.0 320.0,21.2 320.0,621.2 98.8,763.7 65.6,637.0" fill="#d9d9d9"/>
<polygon points="65.6,37.0 98.8,163.7 98.8,763.7 65.6,637.0" fill="#d9d9d9"/>
<polygon points="320.0,21.2 351.8,148.6 351.8,748.6 320.0,621.2" fill="#414141"/>
<line x1="129.2" y1="33.0" x2="129.2" y2="633.0" stroke="#111" stroke-width="1" />
<line x1="327.9" y1="53.0" x2="327.9" y2="653.0" stroke="#000" stroke-width="1" />
<line x1="192.8" y1="29.1" x2="192.8" y2="629.1" stroke="#111" stroke-width="1" />
<line x1="335.9" y1="84.9" x2="335.9" y2="684.9" stroke="#000" stroke-width="1" />
<line x1="256.4" y1="25.1" x2="256.4" y2="625.1" stroke="#111" stroke-width="1" />
<line x1="343.9" y1="116.8" x2="343.9" y2="716.8" stroke="#000" stroke-width="1" />
<line x1="65.6" y1="37.0" x2="320.0" y2="21.2" stroke="#111" stroke-width="1" />
<line x1="320.0" y1="23.7" x2="350.3" y2="146.6" stroke="#000" stroke-width="1" />
<line x1="65.6" y1="187.0" x2="320.0" y2="171.2" stroke="#111" stroke-width="1" />
<line x1="320.0" y1="173.7" x2="350.3" y2="296.6" stroke="#000" stroke-width="1" />
<line x1="65.6" y1="337.0" x2="320.0" y2="321.2" stroke="#111" stroke-width="1" />
<line x1="320.0" y1="323.7" x2="350.3" y2="446.6" stroke="#000" stroke-width="1" />
<line x1="65.6" y1="487.0" x2="320.0" y2="471.2" stroke="#111" stroke-width="1" />
<line x1="320.0" y1="473.7" x2="350.3" y2="596.6" stroke="#000" stroke-width="1" />
<line x1="65.6" y1="637.0" x2="320.0" y2="621.2" stroke="#111" stroke-width="1" />
<line x1="320.0" y1="623.7" x2="350.3" y2="746.6" stroke="#000" stroke-width="1" />
<line x1="320.5" y1="21.2" x2="320.5" y2="621.2" stroke="#000" stroke-width="2.6" />
<g transform="translate(65.6,37.0)" clip-path="url(#sc)">
<g filter="url(#cm2)"><rect x="-60" y="-70" width="420" height="280" fill="#808000"/><g filter="url(#hb12)"><rect x="-100" y="-110" width="500" height="360" fill="#808000"/><path d="M19 130l-12 -2 -6 -3 0 -3 4 -4 19 -12 3 -3 6 -14 5 -7 6 -6 4 -2 10 -3 51 -12 16 -2 47 -1 9 -2 17 -6 18 -1 14 1 9 2 13 5 11 9 6 6 4 6 3 6 5 14 3 4 17 15 3 4 0 5 -6 3 -12 3 -23 1 -31 2 -39 0 -82 0 -70 -2z" fill="#80fc00" stroke="#80fc00" stroke-width="16" stroke-linejoin="round"/><path d="M-8 -10l10 -3 13 -2 33 -2 55 0 94 -2 26 1 9 1 7 1 5 2 3 3 1 2 3 9 1 3 16 19 2 3 0 3 -1 3 -3 2 -10 4 -30 4 -51 11 -25 4 -27 3 -28 2 -19 0 -29 -3 -18 -3 -14 -3 -11 -4 -5 -3 -12 -26 -2 -7 -2 -7 0 -6 3 -5z" fill="#800300" stroke="#800300" stroke-width="16" stroke-linejoin="round"/></g><g transform="scale(0.1)" fill-rule="evenodd"><path d="M2090 1335l-1000 3 -570 -19 -330 -24 -95 -16 -55 -19 -18 -15 -5 -15 8 -18 33 -32 172 -108 34 -32 73 -155 24 -40 39 -48 51 -37 79 -35 145 -38 541 -102 94 -7 220 0 130 -10 125 -20 200 -58 125 -16 155 -2 110 19 99 39 101 62 90 75 57 68 35 65 48 155 25 41 55 52 75 61 15 6 0 157 -120 23 -250 22z" fill="#63ea00"/><path d="M1785 1305l-625 5 -315 -13 -175 -16 -140 -21 -255 -55 -21 -10 -4 -10 45 -51 40 -57 62 -162 46 -75 32 -30 37 -25 119 -55 150 -45 434 -96 185 -8 140 8 115 -10 135 -26 195 -58 105 -14 80 -2 100 3 55 10 65 21 67 32 48 30 101 85 59 72 33 63 23 75 21 115 23 55 94 130 -3 10 -11 7 -60 16 -195 39 -140 20 -140 17 -240 17z" fill="#63bf00"/><path d="M1645 1280l-480 5 -315 -21 -170 -27 -125 -38 -125 -51 -15 -13 -1 -15 31 -130 29 -75 36 -51 68 -54 107 -63 75 -31 230 -59 140 -28 95 -37 80 -7 111 0 43 5 66 19 25 1 110 -18 105 -24 230 -69 110 -13 150 4 55 11 55 19 99 55 91 80 68 95 24 60 12 60 8 145 16 90 -3 12 -10 9 -90 33 -135 37 -180 37 -250 28z" fill="#639500"/><path d="M1575 1255l-175 5 -300 -3 -220 -21 -130 -27 -60 -19 -53 -25 -69 -40 -46 -35 -10 -15 -2 -15 13 -75 22 -55 41 -50 95 -85 57 -40 52 -23 80 -24 285 -60 17 -8 36 -35 29 -10 73 -5 110 1 36 9 49 29 45 4 115 -25 325 -102 115 -13 125 3 48 9 59 20 96 55 78 70 50 75 29 85 7 80 -21 160 -8 15 -15 10 -163 68 -85 29 -105 23 -140 23 -130 15z" fill="#636a00"/><path d="M1375 1235l-280 -4 -185 -22 -120 -28 -70 -29 -66 -47 -58 -70 -3 -15 3 -25 27 -55 40 -60 69 -80 38 -32 40 -19 70 -21 305 -62 16 -11 19 -45 27 -10 173 -2 28 12 37 39 65 8 75 -17 335 -119 140 -21 75 0 95 14 92 41 85 65 35 40 25 40 20 55 9 80 -8 65 -28 92 -15 21 -40 27 -122 65 -143 48 -240 45 -280 26z" fill="#634000"/><path d="M1390 1210l-210 0 -80 -5 -165 -23 -115 -30 -60 -27 -52 -45 -32 -60 2 -40 44 -100 44 -70 26 -25 33 -16 60 -19 320 -66 25 -19 -1 -45 26 -13 160 -1 25 14 12 35 9 10 35 10 55 5 69 -17 135 -63 190 -68 105 -20 120 -5 90 14 73 34 87 70 47 65 17 55 -1 60 -14 60 -30 70 -20 30 -42 35 -117 74 -65 27 -80 24 -200 41 -260 31z" fill="#631500"/><path d="M1425 1180l-235 3 -130 -11 -145 -27 -110 -40 -29 -20 -21 -25 -20 -55 16 -85 38 -90 31 -32 65 -25 275 -57 60 -17 29 -24 4 -20 -7 -25 14 -12 150 -1 17 13 6 35 16 15 46 13 60 4 65 -17 140 -72 160 -61 85 -22 100 -11 110 6 70 23 82 57 39 40 30 45 13 40 -1 45 -16 55 -24 45 -45 60 -33 34 -60 48 -60 35 -65 28 -90 27 -205 43 -205 25z" fill="#471500"/><path d="M1575 1135l-195 4 -190 -4 -175 -20 -115 -30 -70 -31 -20 -18 -12 -21 -5 -30 4 -40 25 -90 12 -20 19 -15 90 -40 62 -18 181 -37 49 -16 26 -19 21 -45 13 -9 96 -1 14 10 15 35 20 13 50 12 70 2 65 -17 135 -73 120 -49 80 -26 95 -17 110 -4 55 9 43 15 49 30 38 32 34 38 23 35 14 35 2 40 -9 40 -18 40 -28 45 -43 51 -53 44 -54 35 -53 26 -70 24 -175 42 -150 21z" fill="#474000"/><path d="M1700 1090l-325 -2 -165 -6 -130 -13 -90 -16 -70 -22 -56 -31 -8 -15 -2 -25 8 -70 7 -20 18 -20 81 -55 57 -22 210 -48 35 -17 50 -44 50 0 40 34 45 14 70 7 45 -4 65 -20 125 -69 83 -36 102 -37 70 -16 130 -10 80 14 40 19 41 30 35 35 30 40 19 40 6 30 -2 35 -13 40 -25 45 -40 50 -81 63 -95 47 -120 35 -130 24z" fill="#476a00"/><path d="M1780 1050l-105 1 -310 -14 -300 -25 -75 -16 -52 -21 -18 -20 -3 -35 15 -40 29 -45 33 -30 31 -15 211 -50 39 -14 65 -35 15 2 50 24 60 10 65 2 60 -9 55 -20 170 -90 110 -43 75 -20 125 -12 80 11 64 34 59 60 25 40 12 30 5 30 -4 35 -10 30 -23 40 -32 40 -31 27 -80 51 -110 42 -175 34z" fill="#479500"/><path d="M1870 1010l-160 3 -605 -53 -50 -12 -35 -21 -24 -37 -3 -40 15 -30 32 -19 197 -46 103 -31 65 11 70 5 60 -2 65 -12 62 -26 153 -82 110 -44 75 -20 70 -10 95 2 55 17 50 37 53 70 13 30 7 40 -2 30 -10 30 -46 67 -75 54 -95 43 -110 28z" fill="#47bf00"/><path d="M1905 975l-115 5 -70 -4 -205 -29 -180 -18 -275 -56 -30 -18 -5 -20 20 -20 50 -16 200 -43 60 -8 175 -2 65 -11 64 -25 161 -87 105 -43 70 -19 70 -10 85 0 52 14 44 30 47 60 22 60 -3 65 -13 30 -24 33 -60 46 -100 45 -110 28z" fill="#47ea00"/><path d="M1875 955l-145 -5 -235 -42 -360 -42 -63 -16 -18 -15 18 -15 43 -16 145 -31 100 -12 170 -8 70 -13 64 -25 101 -58 100 -46 85 -33 55 -12 65 -9 85 3 48 15 43 35 37 55 14 55 -4 60 -15 30 -23 28 -70 45 -95 38 -95 22z" fill="#2aea00"/><path d="M1830 945l-95 -6 -205 -38 -390 -44 -40 -13 -10 -14 20 -15 25 -10 100 -21 130 -16 170 -9 70 -14 64 -25 96 -55 106 -50 84 -32 60 -13 90 -7 60 6 40 17 41 39 35 65 5 65 -16 45 -40 44 -70 39 -100 35 -115 20z" fill="#2abf00"/><path d="M1880 935l-70 2 -70 -6 -240 -43 -350 -37 -25 -7 -13 -14 8 -10 20 -10 90 -19 140 -17 170 -10 65 -12 70 -28 95 -55 105 -49 80 -31 50 -11 70 -9 70 3 45 14 41 34 33 50 13 55 -8 55 -31 45 -63 41 -85 35 -100 23z" fill="#2a9500"/><path d="M1910 925l-90 5 -80 -7 -240 -42 -345 -35 -20 -6 -8 -10 8 -10 15 -7 115 -21 275 -22 70 -13 70 -28 94 -54 106 -50 78 -30 42 -10 70 -9 65 1 45 13 35 25 36 50 16 50 -4 55 -28 45 -56 40 -84 36 -95 23z" fill="#2a6a00"/><path d="M1865 920l-50 2 -70 -6 -205 -37 -370 -38 -28 -11 8 -8 21 -7 94 -17 120 -13 155 -9 75 -14 65 -25 100 -57 106 -50 79 -30 43 -10 72 -7 70 5 40 17 35 35 29 55 4 50 -13 42 -34 38 -71 40 -89 30 -81 16z" fill="#2a4000"/><path d="M1880 910l-55 4 -75 -6 -205 -38 -373 -40 16 -10 83 -15 119 -13 155 -9 80 -15 65 -26 161 -87 83 -35 71 -21 65 -7 69 3 41 16 35 32 28 52 4 45 -11 40 -29 35 -58 35 -79 30 -88 20z" fill="#2a1500"/><path d="M1845 895l-95 -5 -195 -37 -230 -24 -18 -4 0 -5 93 -13 155 -8 80 -16 65 -26 160 -87 98 -40 55 -15 77 -6 54 6 31 15 30 32 20 43 0 49 -20 36 -31 25 -72 35 -85 25 -96 15z" fill="#0e0000"/><path d="M920 605l-135 3 -80 -4 -300 -37 -165 -30 -95 -24 -75 -23 -53 -25 -32 -35 -65 -138 -20 -26 0 -361 110 -35 65 -12 140 -17 210 -13 635 -3 635 -20 435 3 195 18 95 26 49 33 18 30 18 68 20 42 129 155 29 45 14 35 0 30 -12 22 -32 23 -48 17 -84 18 -336 51 -435 100 -240 34 -295 15 -220 30z" fill="#9c1500"/><path d="M930 600l-158 0 -127 -12 -135 -23 -100 -22 -135 -40 -120 -46 -75 -36 -23 -16 -14 -20 -79 -185 -29 -28 -35 -13 0 -153 30 -8 106 -53 129 -39 145 -29 135 -17 1245 -33 435 10 190 29 66 19 44 24 20 26 23 65 23 45 107 145 37 70 -5 20 -15 12 -130 50 -740 175 -240 35 -290 16 -220 28z" fill="#9c4000"/><path d="M930 595l-155 -3 -120 -14 -94 -18 -171 -53 -140 -67 -104 -65 -36 -30 -65 -183 -38 -72 3 -15 70 -50 155 -75 109 -35 141 -29 220 -16 800 -22 195 -3 305 9 110 10 100 17 100 27 70 29 18 18 36 75 76 120 43 85 -6 20 -28 20 -77 40 -67 26 -590 161 -152 28 -133 17 -290 19 -220 26z" fill="#9c6a00"/><path d="M1015 585l-200 2 -155 -18 -135 -36 -121 -53 -123 -85 -106 -103 -15 -32 -24 -100 -5 -30 3 -15 95 -85 86 -55 125 -50 100 -19 215 -18 365 -13 390 -10 315 0 175 11 115 15 105 27 122 47 28 26 84 139 33 75 1 20 -21 25 -59 45 -48 25 -210 73 -315 92 -140 30 -185 27 -300 22z" fill="#9c9500"/><path d="M1015 580l-120 3 -175 -14 -141 -34 -112 -50 -53 -35 -40 -35 -51 -55 -47 -65 -28 -50 -17 -45 -2 -30 15 -35 60 -80 51 -47 90 -50 110 -29 155 -18 190 -11 795 -20 190 7 120 12 105 19 100 32 86 40 34 24 58 81 41 85 1 30 -22 35 -35 35 -40 25 -183 74 -300 95 -155 35 -185 28z" fill="#9cbf00"/><path d="M1000 576l-180 -3 -155 -25 -120 -43 -59 -35 -38 -30 -37 -40 -40 -60 -29 -60 -19 -70 -1 -30 10 -45 24 -50 28 -40 61 -50 54 -25 106 -25 110 -14 190 -14 355 -14 255 -6 300 4 115 10 105 17 75 19 83 33 106 65 54 65 29 60 0 35 -19 40 -29 30 -47 30 -187 78 -255 86 -155 35 -185 28z" fill="#9cea00"/><path d="M990 570l-170 -5 -144 -25 -106 -40 -82 -55 -33 -35 -36 -60 -22 -60 -11 -50 1 -90 16 -55 24 -40 54 -45 71 -30 98 -22 120 -16 235 -16 450 -15 355 5 180 22 75 19 70 27 55 29 80 56 47 51 26 50 3 30 -13 40 -18 21 -45 32 -175 80 -255 90 -155 36 -180 27 -125 15z" fill="#b8ea00"/><path d="M1070 560l-165 4 -161 -19 -116 -35 -53 -26 -42 -29 -39 -35 -29 -40 -24 -50 -17 -55 -7 -55 3 -55 14 -55 19 -35 52 -46 65 -30 110 -29 95 -14 235 -18 450 -15 345 6 180 25 70 20 65 26 54 30 76 56 37 39 25 45 5 30 -10 30 -17 20 -45 35 -71 40 -88 40 -242 90 -139 34 -160 26 -170 21z" fill="#b8bf00"/><path d="M1000 555l-100 0 -75 -7 -90 -17 -60 -18 -60 -28 -41 -25 -42 -35 -27 -30 -24 -40 -17 -45 -12 -55 -3 -50 7 -50 15 -45 24 -33 45 -35 85 -38 100 -25 115 -16 175 -13 445 -15 340 7 113 13 62 13 119 42 61 34 68 51 38 40 22 40 3 25 -10 25 -33 35 -53 38 -150 75 -210 79 -150 36 -219 32 -296 28z" fill="#b89500"/><path d="M1085 545l-175 2 -125 -16 -105 -33 -93 -53 -37 -35 -28 -35 -21 -40 -15 -50 -4 -40 2 -60 14 -50 17 -30 44 -40 66 -38 75 -26 85 -17 130 -14 210 -12 340 -10 160 0 240 15 75 13 80 24 85 39 69 46 50 45 28 45 2 25 -16 30 -22 25 -41 32 -75 44 -102 49 -163 62 -126 33 -169 29 -225 25z" fill="#b86a00"/><path d="M1055 540l-150 -2 -120 -19 -99 -34 -86 -55 -37 -40 -24 -35 -25 -80 0 -55 7 -45 12 -35 21 -30 45 -40 60 -35 71 -24 95 -18 300 -23 490 -10 240 16 65 11 75 22 62 26 73 45 61 50 30 45 1 25 -17 35 -29 30 -41 30 -155 83 -155 60 -140 35 -185 30 -250 26z" fill="#b84000"/><path d="M1095 530l-115 5 -155 -17 -110 -35 -86 -53 -34 -35 -27 -40 -16 -35 -9 -45 10 -90 14 -35 19 -30 47 -45 42 -26 55 -22 95 -21 130 -14 165 -11 285 -9 205 -1 230 15 70 13 60 18 70 30 65 41 58 47 29 40 2 25 -11 30 -21 25 -42 33 -140 80 -150 60 -130 35 -200 33 -255 27z" fill="#b81500"/><path d="M1070 525l-80 3 -75 -4 -105 -18 -100 -38 -75 -54 -32 -39 -19 -35 -17 -70 6 -45 14 -50 20 -40 28 -35 36 -30 59 -29 90 -23 90 -12 210 -16 285 -9 320 5 155 18 110 34 50 26 65 45 46 41 21 35 0 25 -13 25 -36 35 -43 31 -125 70 -160 61 -145 34 -155 25 -250 26z" fill="#d41500"/><path d="M1060 520l-145 -3 -110 -21 -95 -40 -70 -56 -42 -70 -12 -65 8 -50 17 -50 21 -35 28 -33 57 -37 58 -21 60 -14 125 -16 165 -11 285 -9 315 5 155 19 105 35 50 27 62 45 39 35 20 35 0 20 -15 25 -30 30 -47 35 -114 65 -80 35 -80 27 -160 37 -180 27 -210 20z" fill="#d44000"/><path d="M1050 515l-135 -5 -105 -21 -89 -39 -68 -55 -38 -65 -10 -35 -1 -30 7 -45 17 -50 45 -65 52 -35 60 -24 85 -18 95 -11 165 -11 280 -9 310 5 145 17 101 31 54 28 60 43 42 39 17 30 -2 25 -17 25 -74 60 -104 60 -72 32 -85 29 -160 37 -175 26 -210 21z" fill="#d46a00"/><path d="M1105 505l-115 4 -135 -16 -95 -33 -68 -45 -29 -30 -23 -35 -13 -35 -6 -35 4 -40 15 -55 40 -65 44 -35 53 -25 58 -17 80 -12 130 -13 220 -10 420 0 150 14 60 12 55 19 52 27 64 45 43 40 14 25 -1 20 -17 28 -76 62 -66 40 -68 33 -110 40 -135 33 -165 27 -245 26z" fill="#d49500"/><path d="M1080 500l-95 2 -130 -17 -93 -35 -63 -45 -27 -30 -18 -30 -16 -65 6 -45 15 -50 42 -65 44 -33 50 -23 55 -14 100 -15 320 -19 410 0 152 14 58 12 52 18 53 28 65 47 32 30 15 25 -1 20 -15 25 -73 60 -125 70 -110 40 -163 39 -175 27 -205 21z" fill="#d4bf00"/><path d="M1100 490l-110 3 -125 -15 -89 -33 -61 -42 -44 -58 -16 -60 19 -90 39 -65 42 -34 44 -21 54 -15 96 -15 321 -20 405 0 156 15 49 10 58 20 47 25 61 45 33 30 12 20 -1 20 -12 20 -72 60 -115 65 -108 40 -142 35 -166 27 -235 26z" fill="#d4ea00"/><path d="M1080 475l-90 1 -121 -16 -79 -30 -60 -43 -35 -48 -10 -29 -3 -30 18 -79 40 -65 44 -31 50 -20 161 -26 285 -16 395 1 129 11 105 25 35 15 47 30 57 45 18 25 -5 20 -24 25 -75 55 -95 50 -99 35 -145 35 -188 30 -195 20z" fill="#f1ff00"/><path d="M1070 325l-55 3 -115 -16 -47 -22 -10 -15 1 -15 21 -25 59 -15 96 -12 155 -11 135 -5 330 0 90 7 37 11 -16 15 -66 22 -185 37 -230 28z" fill="#f1ff00"/></g></g>
</g>
<g transform="translate(65.6,187.0)" clip-path="url(#sc)">
<g filter="url(#cm2)"><rect x="-60" y="-70" width="420" height="280" fill="#808000"/><g filter="url(#hb12)"><rect x="-100" y="-110" width="500" height="360" fill="#808000"/><path d="M30 130l-10 -2 -5 -3 0 -4 3 -3 13 -12 3 -3 4 -11 4 -5 2 -2 7 -4 14 -5 25 -6 22 -4 3 -1 1 -4 3 -1 8 -1 19 0 23 0 6 -1 12 -6 5 -2 13 -2 14 0 12 2 8 3 7 2 6 4 4 3 5 7 5 8 3 6 0 4 -1 5 -12 21 0 3 9 7 2 2 -2 2 -5 1 -11 2 -19 1 -91 1 -65 0 -25 -1z" fill="#80fc00" stroke="#80fc00" stroke-width="16" stroke-linejoin="round"/><path d="M14 23l-2 -11 1 -5 1 -2 3 -2 9 -3 19 -3 61 -6 30 -3 19 0 40 0 17 1 13 3 9 3 10 7 9 8 3 5 1 4 -1 4 -2 2 -4 3 -6 3 -12 4 -10 1 -25 3 -11 2 -10 3 -19 8 -11 3 -30 4 -30 1 -14 0 -18 -2 -15 -3 -11 -5 -7 -5 -5 -6 -2 -7z" fill="#800300" stroke="#800300" stroke-width="16" stroke-linejoin="round"/></g><g transform="scale(0.1)" fill-rule="evenodd"><path d="M1740 1325l-910 -1 -335 -14 -185 -16 -93 -19 -49 -25 -8 -10 -3 -20 8 -21 23 -29 134 -115 17 -25 28 -70 33 -60 45 -47 43 -28 116 -45 189 -50 131 -30 191 -33 25 -12 30 -32 20 -9 80 -10 179 -9 186 4 70 -7 65 -21 85 -49 55 -23 110 -21 100 -7 70 6 85 15 150 45 93 48 65 60 79 120 22 45 8 35 0 45 -15 45 -105 170 -13 30 3 20 11 15 81 65 5 15 -9 15 -65 20 -175 17z" fill="#63ea00"/><path d="M1570 1285l-420 1 -240 -13 -85 -10 -310 -58 -103 -25 -13 -5 -5 -10 36 -73 45 -137 25 -35 45 -38 116 -62 142 -60 130 -40 192 -38 30 -14 35 -33 20 -7 255 -12 175 4 70 -8 55 -21 95 -56 55 -24 110 -22 100 -5 65 6 85 16 60 19 80 35 52 30 44 35 31 35 31 50 51 110 7 30 -1 25 -28 65 -104 160 -12 55 3 45 -9 14 -90 16 -235 24 -430 27z" fill="#63bf00"/><path d="M1565 1245l-410 3 -120 -8 -95 -15 -105 -29 -261 -101 -12 -10 -4 -10 5 -45 9 -25 23 -30 91 -85 116 -85 98 -48 70 -21 165 -34 90 -46 245 -10 155 0 90 -12 35 -15 142 -84 103 -28 130 -11 90 10 75 19 67 30 65 40 51 45 31 40 45 105 14 55 1 30 -27 55 -98 140 -33 70 -11 12 -115 26 -300 41 -265 24z" fill="#639500"/><path d="M1560 1205l-390 5 -140 -15 -70 -19 -76 -36 -89 -68 -60 -32 -7 -20 38 -85 49 -75 50 -50 55 -32 65 -21 166 -37 84 -34 380 -14 100 -15 35 -14 72 -53 63 -36 50 -20 60 -14 125 -12 75 7 75 18 45 20 57 37 49 45 30 40 21 45 12 40 10 60 1 45 -46 75 -114 141 -60 21 -130 30 -170 29 -260 33z" fill="#636a00"/><path d="M1465 1170l-305 1 -95 -12 -75 -28 -34 -21 -25 -25 -53 -90 -13 -46 -3 -34 5 -30 14 -35 34 -38 55 -26 270 -69 285 -11 125 -12 75 -16 35 -17 64 -56 66 -38 60 -23 85 -18 100 -5 70 9 60 16 35 17 44 32 33 35 26 40 21 55 7 35 0 50 -7 50 -24 39 -55 65 -60 57 -155 51 -195 42 -255 40z" fill="#634000"/><path d="M1470 1130l-295 3 -85 -12 -50 -17 -37 -29 -14 -30 -3 -30 19 -35 0 -10 -55 -37 -20 -23 -13 -30 5 -30 24 -25 54 -24 235 -53 295 -13 110 -14 70 -15 55 -23 60 -62 45 -29 75 -32 85 -21 100 -6 115 20 58 32 26 25 25 35 16 35 8 50 0 40 -11 50 -31 55 -47 50 -44 35 -55 25 -100 35 -220 56 -225 39z" fill="#631500"/><path d="M1460 1090l-285 0 -90 -18 -25 -15 -9 -17 4 -10 14 -10 51 -12 393 -38 22 -14 -10 -14 -55 -9 -215 2 -160 -14 -100 -25 -26 -16 -7 -20 16 -15 48 -20 169 -38 55 -8 235 -10 90 -11 105 -23 85 -34 25 -21 43 -50 37 -24 80 -34 85 -22 95 -4 105 19 47 25 42 50 15 40 3 35 -6 40 -15 40 -24 35 -42 43 -85 56 -120 48 -195 55 -225 43z" fill="#471500"/><path d="M1660 1020l-55 1 -22 -6 10 -45 -1 -25 -12 -26 -25 -22 -65 -22 -85 -17 -9 -8 154 -45 160 -62 68 -38 57 -61 25 -19 60 -29 80 -25 95 -11 85 10 70 26 23 19 19 25 20 60 -4 35 -10 35 -43 60 -65 53 -95 47 -125 41 -130 29z" fill="#474000"/><path d="M1835 965l-115 3 -60 -7 -59 -96 -1 -15 100 -80 80 -56 72 -69 48 -27 50 -19 90 -19 80 0 85 24 30 16 20 20 15 25 8 30 -6 55 -28 50 -53 50 -56 35 -90 37 -85 23z" fill="#476a00"/><path d="M1900 925l-75 4 -100 -9 -31 -10 -15 -25 9 -40 38 -70 124 -113 35 -22 50 -21 65 -17 50 -6 55 2 50 11 45 22 28 24 17 40 -4 50 -22 40 -44 43 -45 31 -65 29 -95 26z" fill="#479500"/><path d="M1895 895l-70 -2 -49 -13 -17 -15 -16 -40 0 -35 13 -30 99 -87 85 -42 65 -15 40 -3 55 3 35 9 38 20 28 25 12 35 -7 45 -24 35 -42 37 -55 31 -55 20 -70 15z" fill="#47bf00"/><path d="M1960 861l-80 3 -55 -13 -35 -24 -20 -22 -6 -20 5 -20 36 -38 55 -43 54 -29 46 -15 65 -10 65 5 40 11 33 24 15 25 2 35 -11 25 -26 30 -33 26 -45 23z" fill="#47ea00"/><path d="M1950 836l-58 -1 -52 -14 -45 -27 -9 -14 1 -10 25 -30 50 -40 55 -30 46 -15 62 -8 50 6 40 12 25 20 9 25 -3 25 -41 48 -60 33z" fill="#2aea00"/><path d="M1980 805l-45 2 -40 -11 -35 -21 -2 -20 18 -25 27 -25 27 -17 30 -10 70 -3 42 15 22 15 5 10 -2 15 -30 40 -42 25z" fill="#2abf00"/><path d="M1995 775l-35 2 -30 -12 -9 -15 8 -25 18 -15 28 -7 30 1 24 11 11 15 -3 15 -18 20z" fill="#2a9500"/><path d="M965 600l-190 3 -215 -20 -90 -16 -110 -29 -59 -23 -51 -29 -77 -71 -16 -25 -11 -30 -9 -45 -1 -100 -16 -95 4 -35 10 -25 26 -25 40 -19 115 -30 200 -29 455 -53 470 -35 285 -5 220 7 235 25 75 17 90 36 65 41 70 60 51 55 31 60 4 30 -6 25 -40 44 -80 43 -110 36 -120 23 -205 28 -105 21 -92 25 -228 78 -100 24 -380 50z" fill="#9c1500"/><path d="M945 590l-165 -2 -180 -23 -174 -45 -62 -25 -54 -29 -61 -51 -28 -35 -15 -30 -8 -45 -1 -105 -10 -75 8 -30 25 -19 43 -21 127 -42 180 -39 175 -26 225 -25 295 -25 180 -9 300 -4 285 16 130 22 90 26 80 37 66 49 80 85 28 55 1 20 -7 15 -46 40 -94 50 -88 33 -370 76 -320 102 -95 23 -120 19 -265 29z" fill="#9c4000"/><path d="M1035 575l-120 3 -115 -5 -140 -20 -155 -41 -115 -54 -43 -28 -33 -30 -29 -34 -18 -31 -8 -50 -2 -130 5 -20 66 -45 113 -55 94 -33 130 -28 270 -35 330 -27 180 -8 280 -4 205 10 90 11 100 20 95 29 65 30 60 42 66 73 31 55 -1 15 -16 20 -78 60 -77 41 -110 37 -255 62 -315 98 -95 23 -245 34z" fill="#9c6a00"/><path d="M1125 560l-210 5 -125 -9 -174 -36 -106 -40 -105 -68 -38 -37 -26 -35 -20 -50 6 -110 52 -55 73 -55 73 -40 95 -32 130 -25 195 -22 320 -25 190 -8 265 -3 150 8 125 15 75 16 111 36 89 47 61 58 35 60 -1 20 -21 30 -67 60 -67 38 -105 41 -580 168 -160 26z" fill="#9c9500"/><path d="M1130 550l-215 2 -115 -11 -130 -28 -90 -33 -80 -46 -46 -39 -29 -35 -22 -35 -19 -45 -1 -35 6 -25 46 -75 50 -55 45 -35 85 -39 105 -25 135 -19 420 -34 445 -8 150 9 120 18 115 33 100 46 58 44 41 60 1 20 -14 35 -46 55 -57 40 -128 58 -385 120 -145 37 -165 26z" fill="#9cbf00"/><path d="M1140 540l-145 3 -85 -4 -110 -14 -130 -35 -50 -19 -63 -36 -32 -25 -39 -45 -21 -40 -15 -50 1 -25 16 -55 36 -75 41 -45 66 -40 63 -20 107 -21 180 -21 315 -22 430 -7 190 15 85 15 60 18 90 38 59 35 40 35 23 35 3 20 -9 40 -18 30 -27 30 -84 55 -102 46 -310 99 -130 35 -210 34z" fill="#9cea00"/><path d="M1150 530l-155 4 -85 -6 -100 -16 -125 -37 -90 -47 -35 -27 -26 -31 -17 -30 -10 -35 -5 -40 7 -60 13 -50 21 -40 42 -43 45 -26 90 -27 105 -19 140 -16 315 -22 130 -5 295 0 160 13 103 20 57 18 55 24 70 43 42 35 21 35 4 25 -5 25 -39 55 -93 65 -138 60 -237 77 -130 33 -215 32z" fill="#b8ea00"/><path d="M1125 525l-130 0 -80 -7 -95 -18 -117 -40 -87 -50 -51 -52 -16 -28 -8 -30 -2 -35 6 -65 13 -45 17 -31 40 -39 60 -31 76 -24 114 -21 170 -18 250 -17 130 -6 280 1 160 14 127 32 78 35 48 30 52 44 19 31 2 25 -16 35 -63 65 -98 60 -135 55 -174 56 -175 39 -220 26z" fill="#b8bf00"/><path d="M1155 515l-145 3 -135 -18 -110 -35 -100 -53 -60 -54 -27 -53 -1 -90 11 -40 15 -30 38 -40 54 -31 70 -26 105 -23 165 -20 255 -19 320 -6 185 11 60 9 100 28 60 27 45 27 47 38 33 40 2 20 -14 30 -30 40 -37 35 -92 60 -113 50 -153 50 -138 31 -205 28z" fill="#b89500"/><path d="M1115 510l-110 -1 -130 -21 -89 -33 -93 -55 -57 -55 -23 -45 0 -85 10 -35 15 -25 35 -35 59 -35 68 -25 80 -19 160 -22 255 -21 310 -5 180 11 65 12 63 19 52 21 66 39 41 35 27 35 2 20 -19 40 -57 65 -98 65 -99 45 -138 44 -175 35 -215 23z" fill="#b86a00"/><path d="M1225 500l-195 2 -55 -5 -95 -20 -85 -37 -81 -55 -30 -30 -29 -40 -9 -30 -1 -40 3 -30 11 -30 32 -40 47 -35 51 -25 71 -22 115 -21 150 -18 295 -19 270 4 150 21 85 31 60 33 46 36 30 40 1 25 -11 30 -46 60 -85 62 -93 48 -122 41 -125 27 -155 21z" fill="#b84000"/><path d="M1135 495l-115 0 -90 -14 -75 -26 -82 -50 -58 -55 -31 -55 -2 -70 9 -25 19 -30 35 -35 50 -30 65 -25 90 -20 180 -24 175 -15 255 -6 180 11 105 22 70 30 51 32 40 35 20 30 4 25 -6 25 -16 30 -25 30 -100 75 -109 50 -107 30 -157 28 -215 21z" fill="#b81500"/><path d="M1240 485l-225 3 -85 -15 -75 -30 -81 -58 -31 -35 -22 -35 -10 -30 -1 -40 19 -55 26 -35 45 -33 65 -28 85 -22 240 -32 265 -16 225 5 90 12 50 12 50 19 55 29 50 40 29 39 6 25 -4 20 -14 30 -20 25 -82 67 -91 48 -104 34 -140 27 -190 22z" fill="#d41500"/><path d="M1230 481l-215 0 -80 -15 -75 -31 -72 -55 -26 -30 -21 -35 -10 -30 -1 -35 7 -30 14 -30 29 -34 45 -31 50 -22 80 -22 240 -34 270 -15 215 5 125 21 55 20 55 29 52 43 25 35 4 25 -6 25 -14 25 -27 30 -79 62 -98 48 -83 25 -139 26 -185 21z" fill="#d44000"/><path d="M1225 475l-206 0 -79 -14 -70 -30 -69 -56 -41 -60 -9 -30 -2 -30 6 -30 15 -30 30 -35 44 -30 46 -21 70 -20 235 -35 275 -15 205 5 125 21 55 20 55 30 50 42 22 33 3 25 -8 25 -39 50 -78 60 -90 45 -83 25 -137 26 -185 21z" fill="#d46a00"/><path d="M1215 470l-200 -2 -75 -15 -63 -28 -59 -50 -40 -60 -10 -60 20 -55 30 -35 47 -33 100 -36 185 -30 175 -15 145 -6 200 6 125 20 51 19 56 30 48 40 21 30 4 20 -6 25 -37 50 -77 60 -90 46 -81 24 -134 25 -185 21z" fill="#d49500"/><path d="M1200 465l-185 -4 -75 -16 -60 -29 -51 -46 -35 -60 -6 -60 21 -50 26 -30 45 -33 40 -18 75 -21 210 -30 270 -15 195 6 125 21 53 20 52 30 46 40 16 25 2 20 -5 20 -39 50 -79 60 -81 40 -83 25 -132 24 -180 20z" fill="#d4bf00"/><path d="M1215 455l-130 2 -65 -5 -67 -12 -63 -29 -45 -41 -32 -55 -5 -60 20 -50 24 -30 39 -30 58 -25 56 -15 200 -28 270 -16 190 6 130 23 51 20 44 25 45 40 15 22 3 18 -5 20 -38 46 -70 54 -90 45 -88 25 -117 21 -180 20z" fill="#d4ea00"/><path d="M1200 440l-115 1 -64 -6 -71 -15 -49 -25 -41 -41 -23 -49 -2 -45 20 -49 26 -31 27 -20 44 -20 51 -15 207 -31 270 -15 180 5 122 21 41 15 54 30 38 33 15 22 0 20 -10 17 -56 53 -78 50 -76 30 -108 25 -98 15z" fill="#f1ff00"/><path d="M1190 290l-80 2 -56 -12 10 -10 40 -10 191 -22 210 -10 81 12 -33 15 -73 12 -145 15z" fill="#f1ff00"/></g></g>
</g>
<g transform="translate(65.6,337.0)" clip-path="url(#sc)">
<g filter="url(#cm2)"><rect x="-60" y="-70" width="420" height="280" fill="#808000"/><g filter="url(#hb12)"><rect x="-100" y="-110" width="500" height="360" fill="#808000"/><path d="M47 103l5 -11 5 -6 5 -5 7 -3 14 -4 36 -8 3 -1 4 -3 3 -1 10 0 10 2 2 1 2 4 2 1 2 0 6 -2 9 -4 17 -9 13 -4 10 -2 7 0 6 1 6 2 9 4 7 5 4 4 4 7 1 4 0 8 -1 5 -3 5 -5 7 -4 4 -7 4 -4 2 -9 2 -96 8 -40 2 -20 0 -9 -1 -3 -1 -3 -2 -6 -9 0 -3z" fill="#80fc00" stroke="#80fc00" stroke-width="16" stroke-linejoin="round"/><path d="M25 26l-2 -8 0 -5 1 -3 2 -2 3 -2 4 -2 20 -4 40 -5 34 -3 25 -2 41 -1 13 1 11 2 9 4 9 6 7 8 2 3 1 3 -1 4 -4 4 -8 5 -6 2 -9 2 -31 5 -40 10 -25 7 -9 2 -10 1 -17 0 -16 -1 -13 -2 -11 -4 -6 -3 -5 -5 -6 -8z" fill="#800300" stroke="#800300" stroke-width="16" stroke-linejoin="round"/></g><g transform="scale(0.1)" fill-rule="evenodd"><path d="M930 1211l-270 -2 -90 -13 -45 -26 -50 -74 -2 -41 17 -48 35 -69 30 -46 36 -42 66 -45 83 -30 270 -65 165 -33 35 -13 75 -40 100 -4 88 10 27 10 35 42 20 4 25 -4 146 -57 179 -91 130 -37 120 -18 35 1 85 15 70 25 51 25 45 30 46 40 45 60 23 50 7 40 -3 70 -16 55 -30 55 -38 51 -40 39 -45 31 -75 33 -80 17 -90 11 -260 17 -455 41z" fill="#63ea00"/><path d="M1645 1095l-230 0 -140 -17 -170 -45 -117 -43 -28 -15 -5 -10 16 -20 82 -65 257 -173 60 -14 75 -6 20 3 55 26 55 -5 160 -66 160 -85 135 -40 140 -12 72 12 53 17 57 28 53 40 40 43 29 47 15 40 5 40 -6 45 -15 45 -28 47 -40 48 -36 30 -44 25 -85 26 -110 18z" fill="#63bf00"/><path d="M1790 1020l-175 3 -170 -20 -61 -18 -54 -29 -32 -31 -2 -25 32 -75 18 -20 29 -18 35 -13 95 -15 80 -23 160 -73 145 -79 100 -33 125 -13 60 3 70 15 50 21 36 23 38 35 29 40 15 35 8 40 -1 35 -8 30 -37 63 -36 37 -34 24 -70 27 -105 22 -150 18z" fill="#639500"/><path d="M1865 955l-145 4 -135 -14 -80 -18 -44 -17 -26 -17 -8 -23 13 -21 53 -34 262 -133 129 -72 101 -36 55 -9 55 -1 111 16 39 13 41 22 29 25 19 25 21 55 -6 55 -26 50 -48 45 -55 26 -85 23 -120 20z" fill="#636a00"/><path d="M1895 915l-55 3 -100 -8 -95 -34 -23 -16 -4 -10 12 -20 39 -40 82 -65 134 -83 90 -35 90 -15 85 9 75 27 47 42 19 45 -3 40 -22 40 -36 33 -55 27 -100 31 -80 17z" fill="#634000"/><path d="M1890 880l-50 1 -55 -10 -39 -21 -14 -20 7 -25 22 -30 42 -40 52 -38 50 -28 60 -24 105 -21 90 15 29 16 19 20 16 40 0 25 -19 30 -29 25 -48 25 -98 36 -70 16z" fill="#631500"/><path d="M1920 840l-55 2 -40 -7 -21 -10 -4 -15 26 -40 39 -35 43 -30 47 -21 70 -19 55 -6 53 11 23 15 6 20 -5 25 -15 20 -26 20 -101 50 -45 13z" fill="#471500"/><path d="M2000 781l-30 2 -25 -9 -8 -19 10 -20 18 -12 25 -5 25 0 20 9 7 13 -4 15 -14 15z" fill="#474000"/><path d="M960 580l-70 4 -125 -6 -165 -21 -120 -31 -90 -46 -32 -25 -34 -40 -25 -40 -25 -55 -45 -155 0 -30 11 -30 17 -20 28 -20 75 -29 105 -24 290 -44 295 -37 335 -29 210 -10 300 -4 180 14 85 17 60 21 70 38 77 62 53 55 22 40 4 25 -4 25 -33 45 -67 45 -92 36 -75 18 -336 61 -664 172 -130 16z" fill="#9c1500"/><path d="M955 565l-60 2 -115 -9 -105 -18 -126 -35 -94 -45 -58 -50 -43 -70 -23 -65 -21 -95 -2 -25 6 -15 26 -20 41 -20 154 -53 150 -36 165 -28 205 -28 270 -24 160 -9 285 -5 125 5 100 10 70 12 95 26 65 33 50 37 61 60 35 50 0 15 -8 15 -58 51 -75 42 -90 32 -240 58 -670 175 -130 21z" fill="#9c4000"/><path d="M940 550l-50 0 -95 -12 -75 -16 -110 -36 -95 -50 -54 -46 -33 -50 -29 -90 -6 -45 4 -20 47 -35 106 -57 95 -38 85 -25 160 -31 170 -25 215 -20 210 -10 340 3 75 7 145 28 80 28 60 33 53 47 40 55 -2 15 -18 20 -91 70 -97 47 -111 38 -374 108 -345 82 -145 21z" fill="#9c6a00"/><path d="M1120 530l-100 5 -130 -3 -110 -20 -120 -42 -75 -45 -67 -65 -35 -70 -9 -40 3 -20 43 -45 75 -60 60 -36 75 -30 90 -24 160 -30 130 -17 175 -15 320 -7 175 6 105 12 105 25 85 31 65 39 45 51 1 15 -12 20 -42 50 -34 30 -78 47 -100 42 -170 57 -205 57 -255 57z" fill="#9c9500"/><path d="M1015 520l-115 -5 -95 -19 -90 -34 -75 -47 -51 -60 -32 -80 8 -30 54 -75 36 -35 44 -30 46 -22 80 -25 240 -45 135 -15 135 -8 270 -1 170 11 80 11 107 29 61 25 56 35 23 25 2 20 -15 40 -19 35 -23 25 -65 45 -122 57 -193 63 -267 66 -235 38z" fill="#9cbf00"/><path d="M1045 505l-125 -5 -95 -20 -90 -39 -61 -46 -31 -50 -13 -75 27 -70 43 -55 50 -34 70 -27 185 -42 200 -26 265 -7 245 12 140 21 65 21 62 27 44 30 17 25 2 25 -9 40 -17 25 -27 25 -98 60 -134 55 -181 55 -204 44 -215 28z" fill="#9cea00"/><path d="M1165 490l-175 1 -88 -11 -77 -22 -75 -40 -45 -38 -21 -45 0 -70 8 -40 19 -40 24 -29 35 -24 62 -27 73 -22 205 -39 205 -17 270 5 197 23 73 18 65 27 59 35 26 30 4 20 -4 22 -15 23 -26 25 -107 70 -104 45 -158 50 -123 30 -137 24z" fill="#b8ea00"/><path d="M1225 475l-85 4 -155 -5 -85 -16 -75 -29 -64 -44 -33 -40 -6 -25 0 -35 6 -40 12 -35 22 -30 33 -25 50 -26 75 -28 90 -22 105 -18 200 -17 265 6 155 21 69 19 61 25 60 36 32 34 -1 15 -11 18 -69 67 -75 50 -74 35 -133 45 -104 25 -115 20z" fill="#b8bf00"/><path d="M1255 460l-110 4 -145 -8 -65 -13 -65 -24 -53 -34 -48 -50 -7 -40 13 -65 25 -33 43 -32 62 -32 55 -19 160 -34 195 -18 250 5 130 19 60 19 60 27 52 33 24 25 -1 15 -12 20 -68 75 -53 40 -70 35 -100 35 -105 25 -112 17z" fill="#b89500"/><path d="M1315 445l-95 5 -120 -3 -100 -10 -65 -18 -70 -37 -46 -47 -15 -35 6 -50 21 -30 40 -35 49 -30 55 -23 150 -33 190 -19 150 1 100 5 80 12 55 15 55 25 50 32 23 25 2 15 -6 15 -45 70 -39 36 -59 34 -89 35 -67 18 -120 20z" fill="#b86a00"/><path d="M1265 435l-170 -5 -90 -12 -50 -15 -50 -28 -36 -35 -21 -40 1 -35 23 -35 30 -30 38 -27 45 -21 140 -33 185 -20 160 0 90 6 75 12 76 28 43 30 22 25 1 30 -27 65 -35 35 -60 35 -75 30 -80 20 -105 14z" fill="#b84000"/><path d="M1370 420l-145 3 -70 -4 -84 -9 -71 -14 -49 -21 -37 -30 -21 -35 -2 -40 20 -35 22 -25 32 -23 35 -17 130 -32 180 -21 165 0 124 13 43 10 35 15 36 25 22 25 7 30 -11 50 -22 30 -42 30 -63 30 -78 25z" fill="#b81500"/><path d="M1405 405l-180 3 -115 -12 -78 -16 -52 -19 -30 -22 -20 -30 0 -34 14 -30 21 -24 30 -21 35 -14 140 -34 145 -17 155 2 111 13 69 21 28 19 22 24 10 31 -4 35 -16 25 -33 25 -57 30 -72 25z" fill="#d41500"/><path d="M1385 386l-130 3 -90 -18 -70 -22 -62 -29 -26 -20 -4 -20 12 -18 21 -17 92 -45 92 -28 100 -13 115 10 88 21 75 30 31 25 2 15 -10 15 -73 55 -64 30z" fill="#d44000"/><path d="M1365 360l-80 5 -50 -8 -51 -22 -39 -25 -23 -20 -2 -15 38 -35 54 -30 48 -16 55 -6 55 6 50 14 45 22 38 30 -4 20 -46 40 -55 30z" fill="#d46a00"/><path d="M1350 335l-60 5 -40 -10 -39 -30 -9 -15 1 -15 27 -29 40 -19 50 -6 50 13 31 21 12 25 -26 40z" fill="#d49500"/><path d="M1335 311l-35 4 -26 -5 -21 -20 1 -20 16 -16 25 -8 25 0 25 8 14 16 1 15 -7 15z" fill="#d4bf00"/></g></g>
</g>
<g transform="translate(65.6,487.0)" clip-path="url(#sc)">
<g filter="url(#cm2)"><rect x="-60" y="-70" width="420" height="280" fill="#808000"/><g filter="url(#hb12)"><rect x="-100" y="-110" width="500" height="360" fill="#808000"/><path d="M79 98l2 -7 3 -5 5 -5 5 -2 8 -2 8 0 26 -1 13 0 10 0 12 -4 14 -7 12 -7 8 -3 12 -1 6 1 5 1 4 3 3 3 4 4 1 3 0 3 0 3 -4 6 -6 7 -7 5 -13 6 -15 5 -12 4 -17 3 -21 4 -15 1 -13 0 -12 -1 -12 -3 -7 -3 -6 -5 -1 -4z" fill="#80fc00" stroke="#80fc00" stroke-width="16" stroke-linejoin="round"/><path d="M43 28l0 -7 4 -7 3 -4 9 -5 11 -4 19 -3 18 -2 24 -2 19 0 17 0 10 1 16 4 12 4 10 5 6 5 2 3 1 3 0 4 -4 4 -7 4 -7 2 -25 6 -35 7 -30 8 -15 2 -12 -1 -7 0 -11 -3 -10 -4 -6 -3 -6 -6 -5 -7z" fill="#800300" stroke="#800300" stroke-width="16" stroke-linejoin="round"/></g><g transform="scale(0.1)" fill-rule="evenodd"><path d="M1320 1151l-140 2 -75 -7 -124 -21 -94 -30 -58 -40 -25 -35 -3 -40 19 -59 25 -42 30 -34 25 -20 40 -20 65 -14 105 -11 430 -9 55 -8 70 -21 55 -23 125 -62 137 -82 78 -23 50 -7 65 0 55 6 40 12 30 13 40 29 29 30 23 35 9 35 -5 40 -16 38 -36 52 -39 41 -35 27 -118 62 -192 70 -172 45 -268 48z" fill="#63ea00"/><path d="M2090 870l-70 4 -80 -7 -45 -12 -5 -15 78 -145 31 -40 41 -31 65 -23 45 -5 60 7 51 22 35 35 19 40 -1 30 -19 35 -35 40 -40 27 -60 24z" fill="#63bf00"/><path d="M2165 755l-45 -2 -28 -18 -11 -35 5 -15 14 -17 30 -13 40 -2 30 8 20 17 8 22 -8 25 -20 18z" fill="#639500"/><path d="M1030 555l-120 2 -85 -11 -73 -16 -112 -39 -65 -33 -40 -28 -40 -34 -30 -37 -25 -44 -9 -30 -2 -45 8 -40 16 -40 27 -40 25 -24 40 -26 80 -35 120 -32 135 -26 185 -22 215 -16 110 -5 255 1 110 12 120 25 185 61 73 37 56 40 27 30 21 40 1 20 -5 20 -28 37 -55 37 -65 25 -255 67 -410 91 -215 56 -85 15z" fill="#9c1500"/><path d="M1065 525l-125 0 -80 -13 -110 -34 -93 -48 -78 -60 -27 -30 -25 -40 -12 -50 8 -35 15 -30 45 -45 71 -40 104 -40 117 -34 200 -33 335 -21 230 4 100 14 75 19 105 37 100 48 71 46 44 45 -1 15 -14 16 -74 44 -162 70 -134 49 -125 33 -425 96z" fill="#9c4000"/><path d="M1075 495l-80 0 -70 -9 -75 -21 -70 -33 -69 -47 -61 -59 -39 -61 -3 -15 5 -15 47 -45 70 -46 80 -40 95 -37 80 -21 95 -16 220 -18 115 -4 170 4 55 5 85 16 55 17 80 36 73 44 54 45 1 10 -12 15 -98 75 -88 55 -95 43 -125 35 -295 63 -95 16z" fill="#9c6a00"/><path d="M1125 465l-70 1 -75 -7 -50 -11 -60 -23 -46 -30 -47 -45 -47 -65 -6 -15 1 -15 32 -35 61 -50 47 -30 71 -35 104 -30 175 -22 200 -8 220 12 55 11 60 23 67 39 44 40 -4 25 -55 75 -57 50 -65 36 -105 34 -145 33 -165 29z" fill="#9c9500"/><path d="M1215 435l-160 1 -75 -12 -50 -17 -40 -24 -31 -33 -29 -60 0 -30 29 -40 36 -33 90 -55 95 -26 140 -17 195 -7 200 12 50 11 40 16 45 29 22 25 2 15 -6 35 -21 45 -35 40 -46 30 -81 30 -90 24 -130 24z" fill="#9cbf00"/><path d="M1270 410l-165 1 -70 -9 -62 -17 -37 -20 -20 -25 -12 -45 6 -35 38 -50 65 -45 72 -21 140 -19 185 -6 160 9 90 21 27 16 22 25 8 40 -7 35 -24 35 -35 25 -74 30 -82 23 -80 16z" fill="#9cea00"/><path d="M1300 386l-105 2 -80 -7 -81 -16 -42 -15 -22 -15 -10 -20 4 -30 26 -45 26 -25 26 -15 65 -20 133 -21 155 -5 160 14 85 22 20 16 12 19 4 25 -11 28 -24 22 -39 20 -100 35 -87 20z" fill="#b8ea00"/><path d="M1285 355l-40 -5 -45 -15 -64 -35 -14 -15 0 -10 36 -30 52 -28 47 -17 68 -9 80 11 73 28 32 25 -3 15 -21 20 -76 48 -55 15z" fill="#b8bf00"/><path d="M1355 316l-50 3 -34 -9 -21 -20 1 -25 21 -20 28 -11 40 -1 30 9 22 18 3 20 -12 20z" fill="#b89500"/></g></g>
</g>
<g transform="translate(65.6,637.0)" clip-path="url(#sc)">
<g filter="url(#cm2)"><rect x="-60" y="-70" width="420" height="280" fill="#805900"/><g filter="url(#hb12)"><rect x="-100" y="-110" width="500" height="360" fill="#805900"/><path d="M106 90l8 -4 45 -10 35 -13 19 -5 12 -1 10 2 6 2 5 3 3 4 0 2 -1 4 -3 4 -6 4 -7 4 -9 4 -12 3 -13 3 -19 3 -28 3 -19 -1 -10 -2 -10 -2 -6 -4 -1 -2z" fill="#80d900"/><path d="M83 33l0 -5 1 -3 3 -4 4 -2 12 -4 17 -3 20 -1 26 2 6 1 6 2 2 2 2 3 -1 4 -2 2 -8 5 -12 4 -15 3 -43 4 -6 0 -5 -1 -3 -2 -2 -3z" fill="#800300" stroke="#800300" stroke-width="16" stroke-linejoin="round"/></g><g transform="scale(0.1)" fill-rule="evenodd"><path d="M1030 430l-90 0 -45 -13 -40 -35 -23 -52 2 -55 27 -50 40 -30 74 -30 115 -28 150 -23 75 -6 155 2 140 14 110 20 61 26 31 35 2 20 -7 20 -46 45 -76 40 -110 38 -175 33z" fill="#9c1500"/><path d="M1330 360l-70 -1 -70 -14 -109 -40 -17 -10 -5 -10 34 -35 77 -51 75 -30 65 -10 70 3 70 16 78 37 30 25 -3 15 -15 15 -75 52 -70 28z" fill="#9c4000"/><path d="M1330 315l-45 -4 -40 -21 -10 -15 -2 -15 18 -30 34 -18 45 -5 40 7 32 21 9 25 -16 30 -25 16z" fill="#9c6a00"/></g></g>
</g>
<line x1="319.7" y1="174.2" x2="349.8" y2="297.1" stroke="#000" stroke-width="0.9" />
<line x1="319.7" y1="324.2" x2="349.8" y2="447.1" stroke="#000" stroke-width="0.9" />
<line x1="319.7" y1="474.2" x2="349.8" y2="597.1" stroke="#000" stroke-width="0.9" />
<line x1="319.7" y1="624.2" x2="349.8" y2="747.1" stroke="#000" stroke-width="0.9" />
<line x1="64.6" y1="35.2" x2="64.6" y2="638.0" stroke="#000" stroke-width="3.5" />
<line x1="64.6" y1="36.1" x2="320.0" y2="20.3" stroke="#000" stroke-width="2.7" stroke-linecap="square"/>
<line x1="320.0" y1="21.2" x2="351.8" y2="148.6" stroke="#000" stroke-width="3.4" stroke-linecap="round"/>
<line x1="351.4" y1="148.6" x2="351.4" y2="748.6" stroke="#000" stroke-width="3.2" />
<line x1="65.0" y1="637.0" x2="97.2" y2="763.7" stroke="#000" stroke-width="3.6" stroke-linecap="round"/>
<line x1="98.8" y1="763.7" x2="351.8" y2="748.6" stroke="#000" stroke-width="2.2" stroke-linecap="round"/>
<line x1="65.6" y1="637.0" x2="320.0" y2="621.2" stroke="#000" stroke-width="2.0" />
<line x1="320.0" y1="621.2" x2="351.8" y2="748.6" stroke="#000" stroke-width="3.3" stroke-linecap="round"/>
<line x1="318.0" y1="624.2" x2="348.9" y2="746.1" stroke="#fff" stroke-width="0.7" stroke-opacity="0.85"/>
<line x1="67.3" y1="640.0" x2="99.5" y2="761.7" stroke="#fff" stroke-width="0.7" stroke-opacity="0.85" stroke-dasharray="2.4 1.6"/>
<line x1="346.8" y1="148.6" x2="350.8" y2="148.6" stroke="#000" stroke-width="0.8" />
<line x1="348.2" y1="178.6" x2="350.8" y2="178.6" stroke="#000" stroke-width="0.8" />
<line x1="348.2" y1="208.6" x2="350.8" y2="208.6" stroke="#000" stroke-width="0.8" />
<line x1="348.2" y1="238.6" x2="350.8" y2="238.6" stroke="#000" stroke-width="0.8" />
<line x1="348.2" y1="268.6" x2="350.8" y2="268.6" stroke="#000" stroke-width="0.8" />
<line x1="346.8" y1="298.6" x2="350.8" y2="298.6" stroke="#000" stroke-width="0.8" />
<line x1="348.2" y1="328.6" x2="350.8" y2="328.6" stroke="#000" stroke-width="0.8" />
<line x1="348.2" y1="358.6" x2="350.8" y2="358.6" stroke="#000" stroke-width="0.8" />
<line x1="348.2" y1="388.6" x2="350.8" y2="388.6" stroke="#000" stroke-width="0.8" />
<line x1="348.2" y1="418.6" x2="350.8" y2="418.6" stroke="#000" stroke-width="0.8" />
<line x1="346.8" y1="448.6" x2="350.8" y2="448.6" stroke="#000" stroke-width="0.8" />
<line x1="348.2" y1="478.6" x2="350.8" y2="478.6" stroke="#000" stroke-width="0.8" />
<line x1="348.2" y1="508.6" x2="350.8" y2="508.6" stroke="#000" stroke-width="0.8" />
<line x1="348.2" y1="538.6" x2="350.8" y2="538.6" stroke="#000" stroke-width="0.8" />
<line x1="348.2" y1="568.6" x2="350.8" y2="568.6" stroke="#000" stroke-width="0.8" />
<line x1="346.8" y1="598.6" x2="350.8" y2="598.6" stroke="#000" stroke-width="0.8" />
<line x1="348.2" y1="628.6" x2="350.8" y2="628.6" stroke="#000" stroke-width="0.8" />
<line x1="348.2" y1="658.6" x2="350.8" y2="658.6" stroke="#000" stroke-width="0.8" />
<line x1="348.2" y1="688.6" x2="350.8" y2="688.6" stroke="#000" stroke-width="0.8" />
<line x1="348.2" y1="718.6" x2="350.8" y2="718.6" stroke="#000" stroke-width="0.8" />
<line x1="346.8" y1="748.6" x2="350.8" y2="748.6" stroke="#000" stroke-width="0.8" />
<text class="b" x="359.1" y="154.8" font-size="18.5">700</text>
<text class="b" x="359.1" y="304.8" font-size="18.5">600</text>
<text class="b" x="359.1" y="454.8" font-size="18.5">500</text>
<text class="b" x="359.1" y="604.8" font-size="18.5">400</text>
<text class="b" x="359.1" y="754.8" font-size="18.5">300</text>
<text class="b" transform="translate(97.5,778.7) rotate(-3.5)" text-anchor="middle" y="6" font-size="18.5">90</text>
<text class="b" transform="translate(161.5,774.9) rotate(-3.5)" text-anchor="middle" y="6" font-size="18.5">135</text>
<text class="b" transform="translate(225.5,771.2) rotate(-3.5)" text-anchor="middle" y="6" font-size="18.5">180</text>
<text class="b" transform="translate(289.5,767.4) rotate(-3.5)" text-anchor="middle" y="6" font-size="18.5">225</text>
<text class="b" transform="translate(353.5,763.6) rotate(-3.5)" text-anchor="middle" y="6" font-size="18.5">270</text>
<text class="b" transform="translate(56.3,644.0) rotate(4)" text-anchor="end" y="6" font-size="18.5">90</text>
<text class="b" transform="translate(64.6,675.7) rotate(4)" text-anchor="end" y="6" font-size="18.5">45</text>
<text class="b" transform="translate(72.9,707.4) rotate(4)" text-anchor="end" y="6" font-size="18.5">0</text>
<text class="b" transform="translate(81.2,739.0) rotate(4)" text-anchor="end" y="6" font-size="18.5">-45</text>
<text class="b" transform="translate(88.3,772.2) rotate(4)" text-anchor="end" y="6" font-size="18.5">-90</text>
<text class="b" transform="translate(230,791) rotate(-3.5)" text-anchor="middle" y="9" font-size="25.4">Longitude (°)</text>
<text class="b" transform="translate(26,706) rotate(77)" text-anchor="middle" y="9" font-size="25.6">Latitude (°)</text>
<text class="b" transform="translate(406.6,446) rotate(-90)" text-anchor="middle" y="9" font-size="25.8">Altitude (km)</text>
</g>
<g transform="translate(1.5,1742.5)">
<polygon points="65.6,37.0 320.0,21.2 320.0,621.2 98.8,763.7 65.6,637.0" fill="#d9d9d9"/>
<polygon points="65.6,37.0 98.8,163.7 98.8,763.7 65.6,637.0" fill="#d9d9d9"/>
<polygon points="320.0,21.2 351.8,148.6 351.8,748.6 320.0,621.2" fill="#414141"/>
<line x1="129.2" y1="33.0" x2="129.2" y2="633.0" stroke="#111" stroke-width="1" />
<line x1="327.9" y1="53.0" x2="327.9" y2="653.0" stroke="#000" stroke-width="1" />
<line x1="192.8" y1="29.1" x2="192.8" y2="629.1" stroke="#111" stroke-width="1" />
<line x1="335.9" y1="84.9" x2="335.9" y2="684.9" stroke="#000" stroke-width="1" />
<line x1="256.4" y1="25.1" x2="256.4" y2="625.1" stroke="#111" stroke-width="1" />
<line x1="343.9" y1="116.8" x2="343.9" y2="716.8" stroke="#000" stroke-width="1" />
<line x1="65.6" y1="37.0" x2="320.0" y2="21.2" stroke="#111" stroke-width="1" />
<line x1="320.0" y1="23.7" x2="350.3" y2="146.6" stroke="#000" stroke-width="1" />
<line x1="65.6" y1="187.0" x2="320.0" y2="171.2" stroke="#111" stroke-width="1" />
<line x1="320.0" y1="173.7" x2="350.3" y2="296.6" stroke="#000" stroke-width="1" />
<line x1="65.6" y1="337.0" x2="320.0" y2="321.2" stroke="#111" stroke-width="1" />
<line x1="320.0" y1="323.7" x2="350.3" y2="446.6" stroke="#000" stroke-width="1" />
<line x1="65.6" y1="487.0" x2="320.0" y2="471.2" stroke="#111" stroke-width="1" />
<line x1="320.0" y1="473.7" x2="350.3" y2="596.6" stroke="#000" stroke-width="1" />
<line x1="65.6" y1="637.0" x2="320.0" y2="621.2" stroke="#111" stroke-width="1" />
<line x1="320.0" y1="623.7" x2="350.3" y2="746.6" stroke="#000" stroke-width="1" />
<line x1="320.5" y1="21.2" x2="320.5" y2="621.2" stroke="#000" stroke-width="2.6" />
<g transform="translate(65.6,37.0)" clip-path="url(#sc)">
<g filter="url(#cm2)"><rect x="-60" y="-70" width="420" height="280" fill="#808000"/><g filter="url(#hb5)"><rect x="-100" y="-110" width="500" height="360" fill="#808000"/><path d="M128 -16l5 33 4 9 8 15 1 6 1 7 -3 6 0 4 4 10 4 15 6 10 8 9 4 6 2 6 3 11 0 60 425 0 0 -267 -472 0z" fill="#80fc00" stroke="#80fc00" stroke-width="6" stroke-linejoin="round"/><path d="M100 -16l1 8 2 6 9 20 4 8 10 10 3 5 3 11 1 9 5 13 0 5 0 5 -2 5 -4 8 -2 10 0 7 2 20 0 60 -432 0 0 -270 400 0z" fill="#800300" stroke="#800300" stroke-width="6" stroke-linejoin="round"/></g><g transform="scale(0.1)" fill-rule="evenodd"><path d="M2975 1375l-1222 0 -3 -70 -40 -133 -50 -84 -82 -98 -50 -85 -21 -55 -25 -115 -41 -95 -2 -35 26 -65 -1 -50 -22 -80 -80 -160 -32 -85 -24 -205 -21 -126 0 -94 1690 0z" fill="#63ea00"/><path d="M2975 1375l-1157 0 -15 -80 -63 -140 -58 -80 -87 -91 -52 -84 -21 -55 -25 -115 -38 -90 -2 -30 27 -70 -4 -65 -23 -70 -77 -160 -29 -100 -11 -320 8 -85 1627 0z" fill="#63bf00"/><path d="M2975 1375l-1069 0 -34 -85 -76 -120 -62 -75 -134 -128 -30 -44 -31 -73 -23 -115 -38 -105 1 -20 24 -65 -5 -70 -20 -60 -46 -90 -29 -70 -27 -105 -1 -60 11 -125 21 -150 19 -75 1549 0z" fill="#639500"/><path d="M2975 1375l-948 0 -9 -20 -53 -70 -127 -135 -77 -70 -146 -117 -29 -38 -23 -50 -30 -140 -32 -95 0 -30 23 -70 -9 -70 -18 -50 -65 -135 -16 -50 -15 -80 2 -65 22 -101 55 -161 43 -88 1452 0z" fill="#636a00"/><path d="M2975 1375l-807 0 -28 -54 -20 -23 -252 -183 -213 -137 -50 -48 -17 -30 -17 -50 -17 -100 -32 -110 0 -30 22 -70 -7 -55 -22 -65 -47 -85 -18 -45 -15 -55 -10 -90 7 -50 18 -60 60 -116 65 -86 96 -93 1304 0z" fill="#634000"/><path d="M2975 1375l-592 0 -13 -11 -60 -25 -45 -29 -75 -91 -460 -219 -65 -35 -35 -27 -23 -28 -17 -45 -20 -120 -29 -105 2 -35 20 -60 -5 -50 -28 -79 -56 -101 -18 -60 -5 -40 -2 -65 18 -70 24 -45 69 -87 45 -38 50 -30 177 -80 14 -15 18 -45 1111 0z" fill="#631500"/><path d="M2790 1316l-75 0 -45 -7 -230 -54 -95 -17 -40 -20 -40 -51 -25 -18 -285 -86 -130 -46 -135 -58 -57 -39 -16 -25 -17 -54 -13 -96 -27 -105 1 -30 19 -60 -5 -50 -30 -84 -55 -101 -20 -85 0 -65 14 -55 28 -50 53 -56 55 -38 55 -24 232 -57 23 -16 19 -49 16 -18 109 -37 49 -25 473 0 26 40 59 120 57 160 46 155 72 290 40 195 30 190 16 160 -5 145 -25 60 -17 20 -45 28z" fill="#471500"/><path d="M2745 1225l-140 -3 -255 -32 -22 -10 -33 -35 -35 -22 -245 -64 -135 -42 -135 -54 -63 -33 -32 -24 -15 -25 -16 -51 -15 -90 -24 -100 0 -25 14 -55 -5 -55 -27 -80 -55 -115 -16 -80 2 -55 13 -50 24 -45 37 -40 48 -39 65 -30 205 -45 51 -16 28 -20 35 -50 166 -51 27 -19 14 -30 293 0 11 35 38 50 49 95 52 145 43 180 26 155 69 225 41 190 13 95 6 100 1 60 -7 90 -12 30 -14 15 -30 13z" fill="#474000"/><path d="M2510 1150l-140 -2 -66 -38 -37 -15 -197 -41 -155 -42 -140 -57 -75 -44 -30 -24 -29 -67 -37 -170 -3 -30 8 -60 -7 -50 -74 -205 -11 -70 2 -55 16 -55 21 -35 44 -45 40 -28 55 -25 75 -19 165 -30 45 -20 60 -47 175 -46 61 -40 27 -30 9 -20 87 0 26 60 55 73 37 67 48 130 21 95 12 95 7 169 60 125 50 136 27 110 14 110 -2 155 -6 40 -8 14 -25 10 -68 11z" fill="#476a00"/><path d="M2415 1100l-30 -2 -115 -31 -195 -32 -160 -40 -130 -58 -71 -47 -24 -22 -21 -43 -17 -60 -27 -120 1 -70 -5 -35 -65 -210 -12 -60 0 -70 15 -60 28 -45 48 -44 45 -26 55 -19 70 -16 145 -20 58 -20 62 -32 120 -22 165 -27 20 10 35 38 32 53 22 50 24 80 9 50 4 75 -3 70 -28 165 95 126 56 104 36 105 11 60 5 65 -7 90 -16 24 -108 41z" fill="#479500"/><path d="M2425 1045l-60 1 -160 -10 -125 -19 -110 -23 -65 -20 -70 -31 -54 -33 -67 -55 -26 -50 -29 -100 -12 -60 -6 -85 -47 -150 -26 -120 0 -70 11 -55 18 -40 36 -40 47 -32 75 -28 60 -12 145 -14 165 -41 70 -7 55 3 69 16 41 22 28 53 18 65 5 45 -4 65 -32 112 -32 58 -53 70 -5 15 3 20 16 30 126 83 80 77 34 50 22 45 15 50 7 50 -2 50 -18 30 -58 47 -55 29z" fill="#47bf00"/><path d="M2325 1010l-110 3 -85 -8 -115 -19 -90 -22 -101 -49 -91 -80 -24 -45 -28 -85 -19 -130 -50 -145 -21 -125 2 -75 16 -70 26 -40 40 -34 60 -29 75 -19 150 -8 215 -26 35 4 40 14 33 23 21 25 20 50 -1 50 -18 57 -30 47 -25 22 -30 13 -144 21 -43 20 -11 15 11 25 66 80 26 50 5 35 -10 95 2 20 8 13 20 8 100 12 140 28 55 29 42 55 9 30 1 35 -13 40 -19 30 -21 20 -41 25z" fill="#47ea00"/><path d="M2270 985l-60 3 -120 -10 -83 -13 -79 -20 -64 -30 -43 -30 -47 -45 -24 -31 -20 -38 -25 -69 -23 -132 -52 -137 -15 -83 4 -105 15 -65 23 -40 38 -33 56 -27 64 -16 200 -11 160 0 35 13 21 19 12 25 1 35 -11 30 -18 23 -35 19 -115 21 -70 27 -55 40 -12 25 -3 25 16 60 77 125 9 35 3 60 9 45 13 35 16 25 22 16 30 10 235 43 40 20 22 26 7 25 -3 25 -11 25 -19 20 -46 23z" fill="#2aea00"/><path d="M2255 950l-155 -2 -85 -12 -60 -16 -45 -22 -45 -33 -37 -35 -34 -45 -29 -55 -23 -65 -62 -245 -8 -70 4 -85 14 -60 24 -40 36 -28 35 -17 50 -14 180 -17 135 0 22 6 18 15 5 15 -2 20 -23 26 -150 36 -50 24 -45 30 -21 24 -14 25 -7 65 15 65 60 125 43 140 19 40 20 27 29 23 31 12 215 36 30 11 19 16 6 15 -1 15 -19 26 -35 15z" fill="#2abf00"/><path d="M2225 910l-115 0 -80 -11 -52 -14 -43 -25 -34 -30 -61 -79 -40 -81 -25 -72 -22 -103 -13 -105 0 -100 9 -50 21 -40 31 -25 52 -20 82 -15 80 -10 60 -1 21 6 -111 37 -60 35 -48 43 -24 35 -14 45 -2 55 7 45 20 80 43 105 71 145 27 40 35 32 45 20 212 38 -9 10z" fill="#2a9500"/><path d="M1310 1375l-1410 0 0 -1635 1098 0 1 110 5 40 44 140 50 110 37 65 30 40 94 95 34 55 29 95 13 105 48 125 6 50 -12 75 -16 50 -40 75 -18 80 -2 105 13 170 0 50z" fill="#9c1500"/><path d="M1205 1375l-1305 0 0 -1635 985 0 28 145 25 80 17 35 53 75 104 130 133 130 37 55 31 100 8 100 41 90 13 40 4 50 -16 75 -18 42 -39 58 -29 55 -56 170z" fill="#9c4000"/><path d="M1080 1375l-1180 0 0 -1635 829 0 101 195 63 145 162 105 65 49 80 65 60 65 26 51 19 70 3 105 44 85 13 35 5 45 -3 30 -15 50 -27 51 -198 224 -15 145z" fill="#9c6a00"/><path d="M915 1375l-1015 0 0 -1635 447 0 32 20 196 84 100 58 70 76 45 77 14 45 8 55 8 11 150 29 120 39 96 61 49 48 25 33 21 44 18 75 -4 95 50 88 11 32 4 50 -7 40 -38 70 -60 57 -75 42 -150 59 -4 12 5 90 -16 87 -30 67zM336 640l4 -15 -10 -17 -25 0 -21 12 1 10 9 5 26 7z" fill="#9c9500"/><path d="M85 385l-20 1 -25 -6 -36 -30 -57 -95 -47 -102 0 -201 25 -14 35 -11 55 -8 145 0 180 17 200 27 60 14 40 19 42 34 32 45 16 55 -6 65 -13 35 -18 30 -18 23 -20 14 -70 25 -130 20 -130 -8 -85 1zM1070 940l-80 -4 -50 -10 -65 -19 -60 -29 -35 -25 -48 -48 -66 -90 -45 -90 -22 -70 -2 -35 11 -95 11 -45 24 -50 27 -26 75 -33 110 -25 55 -6 130 4 70 19 59 32 56 50 30 40 20 46 13 64 -12 75 2 20 52 84 15 41 2 40 -7 34 -39 66 -55 45 -66 24zM510 1375l-284 0 -33 -60 -22 -65 -23 -150 0 -65 9 -50 11 -30 17 -20 25 -13 35 -6 200 14 180 -19 90 1 70 16 50 21 50 30 35 36 24 55 5 40 -2 30 -20 55 -36 45 -66 37 -174 48z" fill="#9cbf00"/><path d="M100 330l-40 -1 -35 -27 -55 -78 -55 -112 -15 -14 0 -120 35 -21 75 -15 135 -1 175 15 182 24 63 17 43 23 42 35 26 40 9 55 -14 55 -26 37 -45 27 -65 17 -85 11 -135 -9 -75 1zM1105 895l-110 -2 -65 -13 -57 -20 -68 -41 -44 -44 -38 -50 -60 -105 -18 -55 -5 -35 6 -70 15 -65 19 -35 30 -26 60 -29 95 -21 170 -3 65 14 60 28 30 22 36 40 20 40 12 55 -1 35 -13 65 63 110 8 40 -4 35 -26 52 -45 41 -55 23zM445 1375l-174 0 -41 -55 -15 -30 -18 -60 -18 -135 8 -75 12 -30 16 -19 20 -8 35 -5 170 14 190 -20 65 1 55 10 60 21 40 22 35 34 19 45 -1 55 -19 45 -35 35 -59 30 -140 39 -169 56 -26 15z" fill="#9cea00"/><path d="M120 281l-35 1 -30 -13 -40 -42 -50 -74 -62 -123 8 -25 24 -25 65 -16 140 -2 172 13 147 20 61 14 35 17 55 47 23 37 3 40 -11 37 -19 23 -36 20 -61 15 -74 10 -110 -7 -95 1zM1105 850l-90 1 -64 -11 -61 -19 -60 -35 -60 -66 -64 -100 -24 -80 1 -40 17 -77 15 -32 25 -25 41 -21 59 -16 55 -7 130 1 57 12 46 20 32 20 29 30 19 40 10 50 -1 25 -16 40 1 25 58 89 10 41 0 28 -15 38 -35 35 -41 19zM370 1340l-45 3 -40 -13 -23 -20 -22 -40 -20 -76 -9 -89 8 -65 21 -30 45 -9 155 8 135 -15 100 -3 55 9 57 20 38 21 27 29 10 35 -7 40 -19 30 -37 30 -300 100z" fill="#b8ea00"/><path d="M305 210l-125 -6 -74 -14 -15 -15 -18 -35 -16 -45 2 -20 51 -31 60 -19 70 -9 60 2 75 15 45 17 54 35 26 30 2 15 -7 11 -65 45 -55 17zM1050 755l-65 0 -80 -18 -46 -27 -44 -45 -35 -60 -13 -60 13 -60 25 -41 35 -18 55 -14 105 -3 65 14 35 18 20 18 18 41 3 115 13 95 -8 15 -18 10zM515 1240l-85 2 -80 -18 -14 -19 -10 -35 -4 -35 4 -20 47 -30 74 -30 53 -14 75 -8 90 14 45 23 38 35 3 15 -13 20 -68 50 -70 31z" fill="#b8bf00"/><path d="M295 170l-45 -3 -38 -17 -18 -25 0 -15 7 -15 29 -18 40 -8 45 4 40 17 16 25 -11 30 -25 16zM1010 655l-75 -2 -30 -11 -25 -17 -19 -25 -6 -25 5 -25 15 -24 16 -11 29 -9 65 -3 35 6 30 20 21 36 -2 35 -19 31zM570 1175l-50 2 -40 -13 -18 -24 6 -30 22 -21 45 -13 40 0 40 14 20 20 0 25 -25 26z" fill="#b89500"/></g></g>
</g>
<g transform="translate(65.6,187.0)" clip-path="url(#sc)">
<g filter="url(#cm2)"><rect x="-60" y="-70" width="420" height="280" fill="#808000"/><g filter="url(#hb5)"><rect x="-100" y="-110" width="500" height="360" fill="#808000"/><path d="M145 -19l-11 31 -1 5 1 7 4 8 11 16 2 4 1 5 -2 9 0 5 3 16 2 7 4 6 6 6 18 11 12 14 0 60 405 0 0 -270 -455 0z" fill="#80fc00" stroke="#80fc00" stroke-width="6" stroke-linejoin="round"/><path d="M88 -16l7 18 7 17 5 5 14 11 4 5 2 7 -2 7 0 3 8 17 0 4 -2 5 -2 4 -7 4 -1 2 -1 5 0 8 2 13 0 15 0 60 -422 0 0 -270 388 0z" fill="#800300" stroke="#800300" stroke-width="6" stroke-linejoin="round"/></g><g transform="scale(0.1)" fill-rule="evenodd"><path d="M2975 1375l-1023 0 -1 -50 -6 -21 -97 -114 -48 -40 -130 -76 -75 -69 -47 -70 -23 -85 -21 -140 1 -60 13 -75 -4 -45 -27 -55 -115 -165 -27 -70 -10 -60 14 -85 100 -285 4 -70 1522 0z" fill="#63ea00"/><path d="M2975 1375l-953 0 -13 -70 -26 -40 -135 -125 -153 -91 -75 -68 -33 -46 -17 -37 -14 -53 -12 -80 -2 -90 23 -95 -8 -50 -36 -65 -116 -165 -21 -60 -9 -55 5 -45 25 -75 105 -245 14 -80 1451 0z" fill="#63bf00"/><path d="M2975 1375l-854 0 -38 -85 -42 -50 -168 -125 -154 -90 -74 -69 -29 -41 -17 -40 -11 -45 -8 -75 5 -72 37 -98 3 -30 -26 -50 -84 -106 -70 -104 -18 -50 -8 -55 6 -50 34 -90 125 -225 31 -85 1360 0z" fill="#639500"/><path d="M2975 1375l-702 0 -11 -20 -64 -70 -76 -65 -176 -105 -181 -98 -59 -47 -42 -45 -22 -35 -17 -45 -7 -55 0 -50 22 -71 69 -104 6 -20 -15 -20 -125 -109 -47 -56 -53 -90 -12 -50 -2 -40 19 -64 43 -86 67 -95 95 -115 53 -80 1237 0z" fill="#636a00"/><path d="M2975 1375l-487 0 -15 -20 -69 -60 -126 -80 -103 -50 -295 -124 -85 -44 -70 -56 -45 -54 -23 -52 -5 -55 7 -40 26 -49 20 -24 35 -28 162 -99 13 -15 -9 -10 -34 -15 -192 -65 -85 -50 -36 -40 -42 -70 -12 -50 0 -46 13 -39 27 -54 60 -80 65 -61 227 -180 22 -25 1056 0z" fill="#634000"/><path d="M2365 420l-115 2 -495 -32 -80 -10 -60 -25 -39 -45 -26 -55 -5 -45 5 -30 25 -54 30 -43 35 -36 60 -43 250 -127 160 -71 132 -51 23 -15 687 0 8 20 15 18 0 306 -63 66 -57 40 -44 20 -61 17 -125 16 -70 82 -58 45 -52 29zM2975 1375l-180 0 -290 -167 -100 -48 -135 -44 -290 -78 -120 -43 -75 -45 -67 -70 -30 -60 -1 -35 5 -20 38 -47 75 -37 75 -20 305 -59 160 -17 65 -1 90 12 70 25 71 44 94 101 115 25 125 44z" fill="#631500"/><path d="M1765 335l-75 4 -50 -12 -30 -30 -23 -52 2 -45 30 -60 36 -41 60 -39 165 -63 115 -34 140 -35 264 -48 146 -62 45 -14 25 0 20 9 23 22 20 30 16 60 -1 30 -10 20 -48 27 -145 38 -50 23 -20 27 -7 65 -11 30 -31 40 -36 28 -35 15 -75 15 -235 30zM2875 1206l-50 -4 -50 -13 -233 -84 -105 -30 -297 -43 -130 -24 -105 -27 -74 -36 -56 -50 -45 -65 -7 -20 1 -20 16 -23 30 -16 50 -13 75 -9 340 -3 135 11 80 20 40 20 40 30 70 89 25 23 40 22 120 46 95 55 57 43 15 30 -7 41 -25 32z" fill="#471500"/><path d="M1895 295l-125 3 -55 -7 -44 -16 -16 -20 -8 -30 10 -40 18 -35 45 -44 65 -35 120 -47 110 -31 120 -25 105 -11 110 1 45 6 15 8 1 13 -31 80 -15 83 -21 32 -29 26 -45 21 -95 25 -155 29zM2605 1040l-90 1 -290 -22 -115 -16 -135 -29 -70 -24 -60 -38 -38 -47 -13 -30 -3 -20 9 -13 20 -12 65 -23 105 -12 235 1 95 10 80 16 45 15 40 22 28 21 27 30 87 150 -2 14z" fill="#474000"/><path d="M1905 270l-100 -3 -60 -19 -19 -13 -10 -15 0 -25 9 -25 35 -40 76 -45 89 -36 100 -28 105 -18 100 -5 70 10 20 11 10 12 10 34 -8 50 -22 34 -35 28 -80 34 -96 29 -99 19zM2450 1000l-65 4 -155 -6 -115 -16 -90 -20 -80 -27 -45 -24 -36 -36 -9 -35 14 -20 36 -22 100 -19 85 -4 95 4 180 27 60 19 50 24 35 29 22 32 5 40 -12 28 -25 13z" fill="#476a00"/><path d="M1930 205l-55 3 -45 -8 -10 -10 14 -20 46 -28 70 -29 80 -23 130 -20 55 2 34 13 -5 15 -24 18 -90 43 -90 26zM2395 936l-145 4 -115 -16 -125 -34 -34 -15 -11 -15 10 -9 23 -6 92 -9 165 17 125 31 39 16 19 15 -8 12z" fill="#479500"/><path d="M1215 1375l-1315 0 0 -1635 977 0 1 90 9 40 51 150 74 165 51 60 142 111 35 49 18 70 -12 55 1 45 74 165 1 45 -17 48 -25 32 -61 45 -12 20 -9 30 -1 120 20 180z" fill="#9c1500"/><path d="M1055 1375l-1155 0 0 -1635 818 0 1 110 11 55 60 175 76 170 31 50 47 50 133 105 15 20 -4 85 4 50 55 140 -6 15 -46 45 -21 30 -21 45 -12 50 -2 160 19 185z" fill="#9c4000"/></g></g>
</g>
<g transform="translate(65.6,337.0)" clip-path="url(#sc)">
<g filter="url(#cm2)"><rect x="-60" y="-70" width="420" height="280" fill="#808000"/><g filter="url(#hb8)"><rect x="-100" y="-110" width="500" height="360" fill="#808000"/><path d="M178 -19l-10 8 -15 9 -7 6 -3 5 -3 5 -1 5 0 5 2 6 4 6 4 4 14 11 2 3 1 3 -1 4 -7 8 -2 9 1 7 3 7 4 6 6 6 17 11 18 16 0 60 395 0 0 -270 -422 0z" fill="#80fc00" stroke="#80fc00" stroke-width="10" stroke-linejoin="round"/><path d="M70 -16l4 11 1 3 7 6 2 5 0 4 0 4 -3 4 -10 15 -1 4 1 6 1 3 4 2 23 6 2 1 1 2 -1 2 -2 1 -10 3 -5 2 -5 4 -1 5 0 3 4 6 22 18 4 3 1 4 0 6 -1 2 -5 5 -1 10 0 60 -402 0 0 -270 370 0z" fill="#800300" stroke="#800300" stroke-width="10" stroke-linejoin="round"/></g><g transform="scale(0.1)" fill-rule="evenodd"><path d="M2975 1375l-920 0 -4 -60 -26 -32 -153 -128 -127 -67 -40 -26 -45 -39 -41 -48 -21 -35 -34 -80 -8 -40 0 -40 28 -90 67 -85 7 -25 -2 -30 -10 -25 -15 -20 -158 -125 -42 -50 -24 -40 -12 -35 -7 -35 4 -40 10 -40 15 -35 46 -70 62 -57 134 -73 92 -70 29 -35 4 -60 1191 0z" fill="#63ea00"/><path d="M2975 1375l-748 0 -49 -75 -50 -45 -240 -120 -133 -57 -75 -54 -48 -54 -18 -30 -21 -80 1 -60 11 -31 26 -44 112 -105 34 -50 6 -25 -21 -30 -54 -50 -178 -112 -43 -43 -24 -35 -17 -50 3 -65 20 -65 41 -60 30 -28 40 -25 150 -72 115 -64 39 -41 41 -65 1050 0z" fill="#63bf00"/><path d="M2545 505l-130 1 -185 -20 -295 -55 -170 -42 -110 -35 -85 -44 -37 -35 -18 -25 -12 -30 -4 -35 4 -55 12 -40 35 -50 69 -45 106 -38 165 -38 390 -69 120 -12 75 -3 80 6 70 12 55 19 50 24 45 32 49 52 24 40 21 55 9 45 6 90 -8 65 -14 45 -22 45 -27 30 -39 30 -48 30 -61 26zM2675 1210l-195 -7 -430 -59 -130 -25 -116 -34 -47 -20 -38 -25 -41 -35 -38 -45 -14 -25 -7 -35 -1 -35 7 -33 30 -47 65 -47 115 -47 190 -56 390 -77 130 -15 120 3 125 25 100 46 85 69 0 396 -61 53 -59 35 -85 28z" fill="#639500"/><path d="M2170 280l-170 1 -100 -14 -65 -15 -52 -22 -52 -35 -24 -30 0 -25 13 -30 19 -25 61 -42 105 -32 120 -13 170 4 115 20 55 19 33 19 31 25 23 30 12 30 -4 25 -21 25 -44 30 -45 21 -60 17zM2200 1055l-115 0 -85 -9 -60 -11 -60 -19 -42 -21 -33 -28 -19 -37 -2 -30 16 -25 29 -25 81 -36 65 -15 70 -10 145 -4 140 12 105 26 60 32 26 25 18 25 -1 25 -20 30 -31 30 -37 21 -105 30z" fill="#636a00"/><path d="M1010 1375l-1110 0 0 -1635 793 0 1 90 29 100 27 52 49 43 16 21 17 39 5 35 -4 35 -18 39 -41 66 -57 70 -17 30 -7 45 7 50 20 36 30 22 225 62 21 10 10 15 -2 10 -14 11 -110 33 -55 30 -43 46 -9 40 8 40 30 45 39 38 180 137 34 35 17 30 6 30 -2 42 -10 21 -33 32 -14 25 -9 35z" fill="#9c1500"/><path d="M850 1375l-950 0 0 -1635 633 0 2 115 24 95 40 95 61 85 -20 40 -67 85 -25 50 -14 60 2 105 14 45 22 45 24 35 42 45 0 15 -22 65 -2 75 7 50 25 55 30 45 59 61 137 104 23 25 -34 110z" fill="#9c4000"/></g></g>
</g>
<g transform="translate(65.6,487.0)" clip-path="url(#sc)">
<g filter="url(#cm2)"><rect x="-60" y="-70" width="420" height="280" fill="#807300"/><g filter="url(#hb12)"><rect x="-100" y="-110" width="500" height="360" fill="#807300"/><path d="M5 31l3 -4 5 -4 6 -3 33 -13 19 -8 8 -2 3 0 3 0 2 2 2 2 3 6 2 8 1 9 0 10 -7 70 -2 10 -1 3 -1 2 -1 -1 -1 -1 -5 -9 -2 -2 -3 -2 -9 -2 -17 -3 -10 -3 -4 -2 -6 -5 -3 -5 -5 -13 -12 -26 -2 -5 0 -5z" fill="#801300"/><path d="M212 -19l-14 8 -16 7 -15 8 -7 6 -5 4 -2 4 0 4 1 3 3 2 8 3 7 0 31 1 11 2 8 4 4 3 2 3 3 6 1 8 -2 5 -3 4 -7 4 -6 2 -16 4 -15 2 -6 2 -5 2 -2 2 -2 2 0 3 1 3 1 2 3 3 5 2 20 7 30 6 7 4 17 11 0 60 348 0 0 -266 -388 0z" fill="#80fc00" stroke="#80fc00" stroke-width="16" stroke-linejoin="round"/><path d="M-12 -3l4 -1 6 -1 6 0 16 2 21 3 4 2 4 8 0 4 -3 4 -6 4 -12 4 -13 2 -11 7 -2 0 -2 0 -2 -1 -2 -3 -7 -15 -3 -11 1 -5z" fill="#800300" stroke="#800300" stroke-width="16" stroke-linejoin="round"/><path d="M23 92l3 0 5 5 4 2 20 3 8 2 4 3 2 1 3 3 2 7 0 1 -2 2 -10 5 -16 7 -10 3 -4 0 -4 -2 -3 -2 -5 -7 -3 -8 -2 -6 0 -3 1 -6 3 -5z" fill="#800300" stroke="#800300" stroke-width="16" stroke-linejoin="round"/></g><g transform="scale(0.1)" fill-rule="evenodd"><path d="M2975 1375l-470 0 0 -80 -9 -20 -204 -140 -32 -14 -215 -51 -137 -40 -131 -50 -52 -31 -25 -29 -11 -35 7 -30 24 -25 76 -35 294 -57 75 -22 65 -29 46 -32 33 -40 12 -40 -3 -55 -21 -70 -28 -45 -39 -37 -45 -25 -65 -24 -55 -11 -185 -13 -185 -2 -89 -18 -38 -20 -27 -35 1 -35 23 -37 82 -78 96 -65 92 -50 155 -63 110 -70 19 -22 3 -60 853 0z" fill="#63ea00"/><path d="M2975 1375l-447 0 -1 -85 -8 -25 -104 -75 -183 -160 -48 -55 -25 -45 -5 -20 6 -25 11 -20 21 -20 58 -35 110 -45 90 -45 32 -30 14 -40 1 -50 -16 -80 -17 -50 -38 -85 -28 -40 -38 -41 -173 -149 -28 -35 -15 -35 6 -55 24 -50 155 -205 14 -35 632 0z" fill="#63bf00"/><path d="M2975 1375l-282 0 -2 -125 -9 -35 -17 -35 -45 -50 -98 -70 -84 -90 7 -16 120 -56 35 -24 35 -33 46 -66 25 -85 2 -110 -10 -60 -23 -80 -54 -125 -24 -45 -41 -55 -71 -71 -91 -79 -8 -15 19 -33 100 -112 33 -45 21 -55 4 -65 412 0z" fill="#639500"/><path d="M20 345l-20 -2 -20 -17 -67 -121 -13 -14 0 -224 60 -9 165 3 265 41 40 12 20 15 31 61 6 35 -18 40 -32 30 -43 25 -89 30 -160 30 -94 55zM380 1350l-65 1 -27 -11 -26 -20 -47 -60 -45 -98 -16 -67 7 -55 39 -76 20 -22 20 -12 24 5 51 40 35 17 185 28 111 35 49 32 30 52 10 51 -26 25 -194 94z" fill="#9c1500"/><path d="M230 180l-60 -3 -42 -17 -23 -30 7 -30 31 -25 52 -12 50 2 50 19 22 26 0 20 -7 15 -30 23zM500 1216l-60 0 -40 -12 -29 -29 -2 -15 4 -15 31 -30 46 -15 55 0 49 15 27 25 4 15 -4 15 -31 30z" fill="#9c4000"/></g></g>
</g>
<g transform="translate(65.6,637.0)" clip-path="url(#sc)">
<g filter="url(#cm2)"><rect x="-60" y="-70" width="420" height="280" fill="#807900"/><g filter="url(#hb12)"><rect x="-100" y="-110" width="500" height="360" fill="#807900"/><path d="M152 -9l9 -5 12 -4 15 -4 16 -3 16 -1 15 1 13 3 11 6 8 10 7 16 7 18 5 20 3 20 1 19 -1 16 -4 11 -8 7 -12 5 -16 3 -17 1 -18 -1 -17 -2 -14 -3 -11 -3 -8 -5 -6 -7 -4 -8 -3 -9 -2 -10 -8 -55 -1 -9 0 -8 2 -8 4 -6z" fill="#808c00"/><path d="M-2 1l6 -7 9 -5 12 -2 13 -1 14 1 13 2 12 3 8 4 6 4 4 5 3 7 2 8 2 17 -1 26 -2 19 -4 20 -2 9 -4 7 -4 6 -5 5 -6 4 -7 4 -8 2 -7 1 -8 -1 -6 -4 -6 -6 -6 -11 -7 -15 -7 -18 -6 -20 -5 -19 -3 -19 -1 -15z" fill="#806600"/><path d="M198 42l0 3 -2 3 -5 5 -9 3 -10 1 -10 -1 -9 -3 -6 -5 -1 -3 -1 -3 1 -3 1 -3 6 -4 9 -4 10 -1 10 1 9 4 5 4 2 3z" fill="#806600"/></g></g>
</g>
<line x1="319.7" y1="174.2" x2="349.8" y2="297.1" stroke="#000" stroke-width="0.9" />
<line x1="319.7" y1="324.2" x2="349.8" y2="447.1" stroke="#000" stroke-width="0.9" />
<line x1="319.7" y1="474.2" x2="349.8" y2="597.1" stroke="#000" stroke-width="0.9" />
<line x1="319.7" y1="624.2" x2="349.8" y2="747.1" stroke="#000" stroke-width="0.9" />
<line x1="64.6" y1="35.2" x2="64.6" y2="638.0" stroke="#000" stroke-width="3.5" />
<line x1="64.6" y1="36.1" x2="320.0" y2="20.3" stroke="#000" stroke-width="2.7" stroke-linecap="square"/>
<line x1="320.0" y1="21.2" x2="351.8" y2="148.6" stroke="#000" stroke-width="3.4" stroke-linecap="round"/>
<line x1="351.4" y1="148.6" x2="351.4" y2="748.6" stroke="#000" stroke-width="3.2" />
<line x1="65.0" y1="637.0" x2="97.2" y2="763.7" stroke="#000" stroke-width="3.6" stroke-linecap="round"/>
<line x1="98.8" y1="763.7" x2="351.8" y2="748.6" stroke="#000" stroke-width="2.2" stroke-linecap="round"/>
<line x1="65.6" y1="637.0" x2="320.0" y2="621.2" stroke="#000" stroke-width="2.0" />
<line x1="320.0" y1="621.2" x2="351.8" y2="748.6" stroke="#000" stroke-width="3.3" stroke-linecap="round"/>
<line x1="318.0" y1="624.2" x2="348.9" y2="746.1" stroke="#fff" stroke-width="0.7" stroke-opacity="0.85"/>
<line x1="67.3" y1="640.0" x2="99.5" y2="761.7" stroke="#fff" stroke-width="0.7" stroke-opacity="0.85" stroke-dasharray="2.4 1.6"/>
<line x1="346.8" y1="148.6" x2="350.8" y2="148.6" stroke="#000" stroke-width="0.8" />
<line x1="348.2" y1="178.6" x2="350.8" y2="178.6" stroke="#000" stroke-width="0.8" />
<line x1="348.2" y1="208.6" x2="350.8" y2="208.6" stroke="#000" stroke-width="0.8" />
<line x1="348.2" y1="238.6" x2="350.8" y2="238.6" stroke="#000" stroke-width="0.8" />
<line x1="348.2" y1="268.6" x2="350.8" y2="268.6" stroke="#000" stroke-width="0.8" />
<line x1="346.8" y1="298.6" x2="350.8" y2="298.6" stroke="#000" stroke-width="0.8" />
<line x1="348.2" y1="328.6" x2="350.8" y2="328.6" stroke="#000" stroke-width="0.8" />
<line x1="348.2" y1="358.6" x2="350.8" y2="358.6" stroke="#000" stroke-width="0.8" />
<line x1="348.2" y1="388.6" x2="350.8" y2="388.6" stroke="#000" stroke-width="0.8" />
<line x1="348.2" y1="418.6" x2="350.8" y2="418.6" stroke="#000" stroke-width="0.8" />
<line x1="346.8" y1="448.6" x2="350.8" y2="448.6" stroke="#000" stroke-width="0.8" />
<line x1="348.2" y1="478.6" x2="350.8" y2="478.6" stroke="#000" stroke-width="0.8" />
<line x1="348.2" y1="508.6" x2="350.8" y2="508.6" stroke="#000" stroke-width="0.8" />
<line x1="348.2" y1="538.6" x2="350.8" y2="538.6" stroke="#000" stroke-width="0.8" />
<line x1="348.2" y1="568.6" x2="350.8" y2="568.6" stroke="#000" stroke-width="0.8" />
<line x1="346.8" y1="598.6" x2="350.8" y2="598.6" stroke="#000" stroke-width="0.8" />
<line x1="348.2" y1="628.6" x2="350.8" y2="628.6" stroke="#000" stroke-width="0.8" />
<line x1="348.2" y1="658.6" x2="350.8" y2="658.6" stroke="#000" stroke-width="0.8" />
<line x1="348.2" y1="688.6" x2="350.8" y2="688.6" stroke="#000" stroke-width="0.8" />
<line x1="348.2" y1="718.6" x2="350.8" y2="718.6" stroke="#000" stroke-width="0.8" />
<line x1="346.8" y1="748.6" x2="350.8" y2="748.6" stroke="#000" stroke-width="0.8" />
<text class="b" x="359.1" y="154.8" font-size="18.5">700</text>
<text class="b" x="359.1" y="304.8" font-size="18.5">600</text>
<text class="b" x="359.1" y="454.8" font-size="18.5">500</text>
<text class="b" x="359.1" y="604.8" font-size="18.5">400</text>
<text class="b" x="359.1" y="754.8" font-size="18.5">300</text>
<text class="b" transform="translate(97.5,778.7) rotate(-3.5)" text-anchor="middle" y="6" font-size="18.5">90</text>
<text class="b" transform="translate(161.5,774.9) rotate(-3.5)" text-anchor="middle" y="6" font-size="18.5">135</text>
<text class="b" transform="translate(225.5,771.2) rotate(-3.5)" text-anchor="middle" y="6" font-size="18.5">180</text>
<text class="b" transform="translate(289.5,767.4) rotate(-3.5)" text-anchor="middle" y="6" font-size="18.5">225</text>
<text class="b" transform="translate(353.5,763.6) rotate(-3.5)" text-anchor="middle" y="6" font-size="18.5">270</text>
<text class="b" transform="translate(56.3,644.0) rotate(4)" text-anchor="end" y="6" font-size="18.5">90</text>
<text class="b" transform="translate(64.6,675.7) rotate(4)" text-anchor="end" y="6" font-size="18.5">45</text>
<text class="b" transform="translate(72.9,707.4) rotate(4)" text-anchor="end" y="6" font-size="18.5">0</text>
<text class="b" transform="translate(81.2,739.0) rotate(4)" text-anchor="end" y="6" font-size="18.5">-45</text>
<text class="b" transform="translate(88.3,772.2) rotate(4)" text-anchor="end" y="6" font-size="18.5">-90</text>
<text class="b" transform="translate(230,791) rotate(-3.5)" text-anchor="middle" y="9" font-size="25.4">Longitude (°)</text>
<text class="b" transform="translate(26,706) rotate(77)" text-anchor="middle" y="9" font-size="25.6">Latitude (°)</text>
<text class="b" transform="translate(406.6,446) rotate(-90)" text-anchor="middle" y="9" font-size="25.8">Altitude (km)</text>
</g>
<g transform="translate(431.5,1742.5)">
<polygon points="65.6,37.0 320.0,21.2 320.0,621.2 98.8,763.7 65.6,637.0" fill="#d9d9d9"/>
<polygon points="65.6,37.0 98.8,163.7 98.8,763.7 65.6,637.0" fill="#d9d9d9"/>
<polygon points="320.0,21.2 351.8,148.6 351.8,748.6 320.0,621.2" fill="#414141"/>
<line x1="129.2" y1="33.0" x2="129.2" y2="633.0" stroke="#111" stroke-width="1" />
<line x1="327.9" y1="53.0" x2="327.9" y2="653.0" stroke="#000" stroke-width="1" />
<line x1="192.8" y1="29.1" x2="192.8" y2="629.1" stroke="#111" stroke-width="1" />
<line x1="335.9" y1="84.9" x2="335.9" y2="684.9" stroke="#000" stroke-width="1" />
<line x1="256.4" y1="25.1" x2="256.4" y2="625.1" stroke="#111" stroke-width="1" />
<line x1="343.9" y1="116.8" x2="343.9" y2="716.8" stroke="#000" stroke-width="1" />
<line x1="65.6" y1="37.0" x2="320.0" y2="21.2" stroke="#111" stroke-width="1" />
<line x1="320.0" y1="23.7" x2="350.3" y2="146.6" stroke="#000" stroke-width="1" />
<line x1="65.6" y1="187.0" x2="320.0" y2="171.2" stroke="#111" stroke-width="1" />
<line x1="320.0" y1="173.7" x2="350.3" y2="296.6" stroke="#000" stroke-width="1" />
<line x1="65.6" y1="337.0" x2="320.0" y2="321.2" stroke="#111" stroke-width="1" />
<line x1="320.0" y1="323.7" x2="350.3" y2="446.6" stroke="#000" stroke-width="1" />
<line x1="65.6" y1="487.0" x2="320.0" y2="471.2" stroke="#111" stroke-width="1" />
<line x1="320.0" y1="473.7" x2="350.3" y2="596.6" stroke="#000" stroke-width="1" />
<line x1="65.6" y1="637.0" x2="320.0" y2="621.2" stroke="#111" stroke-width="1" />
<line x1="320.0" y1="623.7" x2="350.3" y2="746.6" stroke="#000" stroke-width="1" />
<line x1="320.5" y1="21.2" x2="320.5" y2="621.2" stroke="#000" stroke-width="2.6" />
<g transform="translate(65.6,37.0)" clip-path="url(#sc)">
<g filter="url(#cm2)"><rect x="-60" y="-70" width="420" height="280" fill="#808000"/><g filter="url(#hb5)"><rect x="-100" y="-110" width="500" height="360" fill="#808000"/><path d="M143 -19l-2 23 4 20 0 5 0 3 -4 7 -1 3 1 3 4 7 2 6 -1 2 -4 4 0 2 0 1 2 2 10 5 1 2 -2 1 -13 7 -2 1 0 1 4 1 20 6 4 2 1 1 -1 1 -13 5 0 1 0 1 6 4 18 9 13 14 0 60 410 0 0 -270 -457 0z" fill="#80fc00" stroke="#80fc00" stroke-width="6" stroke-linejoin="round"/><path d="M90 -16l3 6 4 5 13 6 9 8 8 10 2 5 1 3 0 8 -2 7 -6 12 -2 9 0 5 4 6 1 3 -2 2 -5 3 -7 3 -1 1 0 1 5 4 0 3 1 11 2 11 2 5 2 13 0 60 -422 0 0 -270 390 0z" fill="#800300" stroke="#800300" stroke-width="6" stroke-linejoin="round"/></g><g transform="scale(0.1)" fill-rule="evenodd"><path d="M2975 1375l-1073 0 -1 -50 -7 -20 -109 -115 -40 -30 -140 -69 -64 -41 -7 -15 6 -13 105 -50 9 -12 -4 -9 -45 -21 -185 -59 -22 -16 7 -15 115 -60 19 -20 -2 -10 -10 -10 -87 -54 -18 -26 4 -20 32 -40 7 -25 -11 -40 -44 -80 -6 -30 6 -30 34 -70 8 -40 -5 -55 -38 -190 0 -50 19 -175 1 -75 1546 0z" fill="#63ea00"/><path d="M2975 1375l-1006 0 -14 -75 -33 -45 -142 -132 -130 -73 -3 -15 33 -29 14 -21 2 -35 -11 -18 -20 -16 -127 -56 -20 -15 6 -15 46 -45 6 -30 -21 -29 -65 -41 -26 -25 0 -15 24 -45 2 -40 -11 -30 -45 -75 -8 -25 2 -25 39 -80 10 -45 0 -50 -28 -200 47 -290 1479 0z" fill="#63bf00"/><path d="M2975 1375l-918 0 -29 -75 -30 -45 -103 -91 -90 -88 -55 -36 -7 -15 -1 -55 -16 -40 -36 -37 -87 -53 -4 -15 11 -55 -7 -30 -23 -28 -73 -57 10 -105 -67 -120 4 -30 43 -90 14 -60 -17 -160 2 -75 83 -275 1396 0z" fill="#639500"/><path d="M2975 1375l-790 0 -55 -75 -51 -55 -144 -110 -42 -40 -79 -85 -35 -65 -29 -40 -96 -80 -8 -15 -5 -55 -11 -30 -87 -80 -3 -20 7 -85 -61 -85 -12 -35 8 -30 36 -65 29 -70 -13 -110 2 -80 8 -50 38 -90 99 -185 1294 0z" fill="#636a00"/><path d="M2975 1375l-580 0 -18 -20 -110 -75 -307 -187 -43 -43 -46 -70 -181 -175 -34 -95 -82 -75 -5 -40 16 -60 -72 -80 -12 -20 -3 -20 12 -35 76 -120 -15 -70 -2 -40 9 -75 19 -60 33 -57 55 -70 138 -148 1152 0z" fill="#634000"/><path d="M2975 1375l-397 0 -113 -132 -340 -122 -80 -34 -50 -29 -43 -43 -24 -65 -103 -70 -97 -85 -16 -25 -34 -80 -64 -50 -16 -20 0 -30 30 -45 1 -15 -17 -20 -72 -58 -15 -21 -4 -16 14 -34 91 -111 1 -20 -17 -40 -8 -40 7 -50 15 -50 35 -60 66 -64 105 -76 150 -79 29 -26 15 -25 911 0 25 57 15 20z" fill="#631500"/><path d="M2880 1321l-20 1 -45 -9 -175 -64 -35 -25 -55 -63 -40 -23 -310 -56 -70 -18 -80 -28 -35 -19 -20 -19 -8 -18 -2 -40 -10 -16 -130 -66 -55 -41 -35 -34 -23 -33 -37 -75 -61 -50 -11 -15 7 -23 43 -42 1 -20 -39 -36 -71 -49 -16 -25 11 -25 36 -40 51 -45 18 -25 3 -30 -24 -55 -3 -35 20 -63 38 -52 67 -50 60 -34 210 -73 95 -71 115 -47 40 -30 318 0 70 160 89 300 69 290 78 405 24 175 11 125 -6 60 -7 20 -21 30z" fill="#471500"/><path d="M2800 1163l-114 -18 -81 -58 -65 -24 -305 -23 -85 -14 -80 -22 -44 -24 -16 -50 -16 -20 -139 -66 -75 -59 -33 -40 -37 -75 -54 -60 1 -15 38 -45 3 -30 -13 -26 -67 -69 -8 -15 11 -20 74 -68 22 -32 10 -50 -12 -75 11 -25 19 -24 45 -34 75 -37 215 -62 115 -62 125 -35 70 -32 50 -38 15 4 28 35 45 80 68 155 84 230 55 186 42 199 26 200 8 190 -2 50z" fill="#474000"/><path d="M2375 990l-165 -1 -80 -10 -55 -14 -15 -10 -23 -35 -21 -20 -164 -75 -52 -40 -39 -45 -75 -135 29 -55 8 -40 -5 -30 -28 -75 13 -20 54 -50 25 -35 29 -65 15 -60 14 -15 90 -36 205 -39 135 -43 120 -13 15 8 16 23 62 105 57 113 60 132 42 115 27 100 18 105 7 90 0 110 -4 35 -15 13 -110 -6z" fill="#476a00"/><path d="M2245 940l-75 0 -60 -7 -80 -50 -125 -46 -40 -20 -49 -37 -38 -40 -61 -115 -4 -30 38 -85 24 -110 85 -80 80 -85 22 -15 98 -14 245 -14 25 5 40 48 81 120 67 115 34 75 26 80 12 65 5 90 -3 40 -6 15 -71 38 -85 29 -100 21z" fill="#479500"/><path d="M2190 895l-35 0 -35 -7 -200 -61 -50 -24 -40 -29 -43 -44 -37 -60 -15 -45 0 -30 35 -63 45 -64 50 -55 55 -39 140 -56 40 -3 75 8 80 15 24 12 66 72 89 118 36 65 22 65 7 55 -2 30 -21 30 -40 35 -52 30 -64 24z" fill="#47bf00"/><path d="M2205 846l-90 3 -85 -9 -105 -26 -50 -23 -65 -54 -43 -57 -16 -45 -1 -25 7 -20 28 -40 45 -42 55 -31 55 -21 75 -15 60 2 75 16 55 24 90 65 60 57 32 50 9 40 -13 55 -33 39 -66 36z" fill="#47ea00"/><path d="M2125 825l-75 3 -55 -7 -75 -20 -50 -25 -57 -51 -41 -55 -11 -40 12 -40 27 -31 45 -32 55 -20 55 -10 50 0 50 11 50 20 75 40 65 50 56 52 22 35 1 25 -19 29 -50 32 -65 22z" fill="#2aea00"/><path d="M2115 815l-70 4 -55 -7 -65 -19 -50 -24 -51 -44 -43 -55 -10 -35 10 -35 24 -29 40 -29 50 -20 60 -12 50 1 50 12 110 53 50 37 70 64 19 28 3 20 -16 25 -41 28 -70 24z" fill="#2abf00"/><path d="M2090 810l-50 1 -55 -8 -60 -18 -50 -26 -46 -39 -39 -50 -10 -35 10 -30 40 -41 55 -28 65 -17 65 2 70 23 75 40 72 56 57 60 6 20 -5 14 -40 33 -75 27z" fill="#2a9500"/><path d="M2105 800l-60 5 -50 -7 -62 -18 -48 -24 -45 -35 -39 -46 -11 -30 6 -30 25 -30 39 -27 45 -19 55 -13 40 0 40 8 99 46 96 75 39 40 9 25 -11 20 -37 25 -65 22z" fill="#2a6a00"/><path d="M2080 795l-40 2 -50 -8 -60 -19 -48 -25 -37 -30 -38 -45 -8 -30 9 -25 37 -36 54 -29 61 -16 55 1 70 25 70 40 67 55 46 50 3 15 -4 10 -32 25 -73 25z" fill="#2a4000"/><path d="M2085 785l-45 3 -50 -8 -48 -15 -50 -25 -39 -30 -35 -40 -8 -25 6 -20 34 -35 52 -30 63 -17 50 1 60 21 71 40 49 38 60 62 0 21 -30 23 -63 21z" fill="#2a1500"/><path d="M2060 770l-28 0 -48 -10 -81 -35 -28 -20 -35 -36 -9 -19 4 -15 30 -30 52 -30 53 -15 36 0 60 20 69 40 45 35 53 55 -6 15 -33 15 -71 20z" fill="#0e0000"/><path d="M1210 1375l-1310 0 0 -1635 1001 0 4 103 45 81 35 30 85 33 40 25 65 59 53 59 37 52 27 53 12 45 3 45 -15 110 -57 116 -32 94 5 40 32 50 4 25 -12 20 -27 24 -35 22 -53 19 -12 20 35 49 9 26 10 120 41 185 11 95z" fill="#9c1500"/><path d="M1045 1375l-1145 0 0 -1635 904 0 34 115 64 85 53 42 105 44 50 31 73 63 62 73 30 49 14 38 7 55 -2 45 -15 70 -44 81 -52 119 -6 45 9 55 -26 22 -73 23 -32 19 -25 31 -13 40 0 35 18 60 -21 70 -4 35 34 175 6 105 0 10z" fill="#9c4000"/><path d="M875 1375l-975 0 0 -1635 737 0 11 20 78 95 63 60 70 55 54 35 132 56 75 48 85 74 55 70 17 37 9 40 -3 85 -13 40 -75 147 -95 121 -100 37 -56 30 -107 85 -55 55 6 30 48 95 26 100 18 130z" fill="#9c6a00"/><path d="M690 1375l-790 0 0 -1635 370 0 37 25 178 81 325 158 240 104 75 44 60 47 50 52 26 39 17 55 -2 75 -76 161 -15 19 -30 22 -115 51 -155 31 -135 11 -145 -6 -265 -39 -29 0 -12 5 9 15 137 114 85 87 88 114 54 85 28 70 12 65 0 70z" fill="#9c9500"/><path d="M1005 625l-105 0 -125 -23 -115 -40 -100 -52 -145 -65 -100 -29 -55 0 -125 33 -70 12 -35 -4 -25 -10 -26 -22 -23 -35 -56 -128 0 -363 65 -14 75 6 205 41 220 35 140 32 175 47 150 51 93 38 112 61 60 46 50 58 21 55 -2 70 -69 143 -15 19 -60 23zM475 1375l-155 0 -105 -75 -40 -35 -28 -35 -15 -25 -13 -40 -7 -90 19 -95 17 -35 17 -18 30 -9 30 4 50 15 70 35 100 69 54 54 35 45 33 65 5 25 -1 25 -26 53z" fill="#9cbf00"/><path d="M1020 585l-115 -4 -115 -24 -100 -37 -115 -59 -135 -60 -100 -31 -35 -4 -40 3 -125 29 -50 6 -35 1 -25 -9 -36 -36 -34 -61 -35 -81 -25 -24 0 -254 60 -17 85 3 460 84 197 50 118 36 125 49 135 68 78 52 47 46 25 49 6 60 -26 69 -45 66 -55 20zM415 1375l-38 0 -16 -15 -53 -30 -74 -65 -51 -65 -19 -55 -4 -65 14 -70 11 -22 15 -14 25 -4 40 7 89 48 101 83 35 39 25 38 14 45 -10 40 -27 35z" fill="#9cea00"/><path d="M1065 545l-90 4 -95 -11 -50 -13 -110 -43 -130 -70 -135 -61 -105 -32 -70 -2 -155 32 -45 0 -25 -7 -25 -20 -35 -50 -55 -122 -27 -90 2 -50 5 -20 14 -15 21 -9 80 -2 367 61 318 80 132 45 123 55 90 48 69 47 40 40 18 40 3 50 -10 35 -20 35 -35 29zM385 1325l-30 -5 -40 -30 -50 -56 -35 -54 -15 -51 -3 -34 8 -52 15 -22 17 -1 27 10 67 45 87 75 42 54 5 31 -15 31 -45 44z" fill="#b8ea00"/><path d="M1030 520l-50 1 -85 -12 -45 -16 -43 -23 -98 -80 -143 -145 -11 -15 1 -10 24 -8 90 -4 165 11 125 31 60 23 60 33 40 30 25 29 12 35 -2 35 -14 35 -21 22 -35 17z" fill="#b8bf00"/><path d="M1030 490l-40 4 -55 -6 -40 -13 -25 -15 -26 -25 -29 -50 -15 -45 4 -20 56 -19 70 -3 80 15 65 33 36 39 6 25 -3 25 -11 20 -18 15z" fill="#b89500"/><path d="M995 465l-55 -6 -36 -19 -10 -15 -5 -25 11 -31 30 -15 55 -4 45 12 34 23 13 25 -9 25 -33 22z" fill="#b86a00"/></g></g>
</g>
<g transform="translate(65.6,187.0)" clip-path="url(#sc)">
<g filter="url(#cm2)"><rect x="-60" y="-70" width="420" height="280" fill="#808000"/><g filter="url(#hb5)"><rect x="-100" y="-110" width="500" height="360" fill="#808000"/><path d="M147 -19l-1 23 3 13 1 9 0 4 -4 8 0 4 1 4 2 3 3 1 7 1 2 1 -1 2 -2 3 -6 1 -1 1 0 2 9 11 2 4 -1 2 -2 2 -10 3 -8 1 -1 1 32 6 6 1 1 1 -2 2 -7 3 -8 3 -2 1 0 1 3 3 9 4 17 6 14 15 0 60 397 0 0 -270 -453 0z" fill="#80fc00" stroke="#80fc00" stroke-width="6" stroke-linejoin="round"/><path d="M77 -16l5 8 5 5 21 12 8 6 7 9 3 9 0 4 -1 5 -6 14 -3 3 -11 3 -1 2 -2 7 -10 8 -1 4 1 4 1 4 8 8 2 5 3 7 2 6 1 17 0 60 -409 0 0 -270 377 0z" fill="#800300" stroke="#800300" stroke-width="6" stroke-linejoin="round"/></g><g transform="scale(0.1)" fill-rule="evenodd"><path d="M2975 1375l-945 0 -2 -55 -8 -19 -127 -126 -168 -73 -90 -46 -20 -15 -7 -16 10 -15 128 -55 24 -20 -7 -10 -26 -10 -252 -51 -33 -9 -15 -10 143 -48 26 -17 7 -20 -13 -36 -78 -109 -7 -20 10 -14 60 -20 14 -21 1 -15 -15 -13 -60 -12 -25 -10 -21 -25 -13 -40 0 -50 32 -75 4 -40 -8 -85 -35 -155 6 -90 2 -190 1508 0z" fill="#63ea00"/><path d="M2975 1375l-894 0 -17 -70 -18 -25 -146 -134 -172 -106 -2 -10 5 -10 62 -60 7 -20 -2 -15 -28 -24 -141 -61 -3 -10 23 -45 0 -40 -13 -40 -40 -85 31 -55 4 -45 -8 -20 -18 -17 -75 -33 -11 -15 -7 -25 0 -25 24 -75 4 -35 -7 -125 -33 -140 5 -140 17 -130 1453 0z" fill="#63bf00"/><path d="M2975 1375l-816 0 -18 -35 -45 -60 -116 -86 -155 -149 -9 -20 9 -70 -12 -40 -23 -23 -90 -62 -12 -15 -5 -90 -27 -95 9 -75 -10 -53 -25 -41 -57 -51 -8 -15 15 -100 -2 -135 -8 -55 -28 -90 -3 -80 12 -80 42 -115 1382 0z" fill="#639500"/><path d="M2975 1375l-683 0 -18 -20 -117 -85 -142 -78 -68 -62 -73 -100 -16 -65 -28 -55 -78 -80 -22 -30 -35 -265 -24 -65 -53 -100 0 -250 -5 -30 -33 -99 -2 -71 8 -35 24 -46 91 -99 1274 0z" fill="#636a00"/><path d="M2840 1375l-149 0 -151 -32 -110 -30 -377 -128 -48 -29 -35 -35 -37 -61 -48 -105 -92 -115 -30 -60 -20 -195 -72 -195 -10 -50 1 -240 -9 -35 -32 -80 -7 -40 7 -35 29 -38 40 -25 189 -92 19 -15 859 0 11 20 59 75 35 65 55 120 43 121 15 23 0 1154z" fill="#634000"/><path d="M2530 1105l-95 4 -120 -8 -170 -24 -60 -16 -35 -25 -87 -101 -118 -101 -35 -45 -22 -54 -17 -75 -5 -50 9 -220 19 -80 21 -55 90 -195 15 -17 135 -33 160 -21 85 -21 15 0 80 40 35 32 70 90 58 90 77 145 53 130 25 75 34 155 8 180 -14 115 -16 41 -65 25z" fill="#631500"/><path d="M2240 845l-100 0 -85 -13 -90 -24 -80 -36 -55 -40 -25 -34 -20 -49 -2 -39 7 -20 30 -33 60 -35 65 -21 75 -12 90 8 100 35 70 44 51 44 52 70 21 55 -11 40 -28 28 -50 20z" fill="#471500"/><path d="M2160 795l-65 1 -75 -10 -50 -13 -54 -23 -44 -30 -29 -30 -21 -45 2 -30 22 -25 44 -28 50 -20 50 -11 45 -4 50 5 50 14 40 18 43 31 41 40 37 55 17 45 -8 17 -30 16 -40 14z" fill="#474000"/><path d="M2120 756l-45 3 -65 -6 -70 -24 -28 -19 -26 -30 -13 -30 4 -25 18 -21 30 -20 70 -23 75 -1 65 21 35 24 22 25 24 45 6 30 -7 13 -19 12z" fill="#476a00"/><path d="M2095 721l-30 4 -55 -3 -50 -16 -20 -14 -12 -17 -7 -20 3 -20 31 -28 50 -17 60 0 45 15 35 30 9 40 -17 25z" fill="#479500"/><path d="M2045 680l-50 -6 -15 -9 -2 -15 22 -14 35 -6 35 6 21 14 1 10 -8 10z" fill="#47bf00"/><path d="M1085 1375l-1185 0 0 -1635 862 0 4 100 72 100 52 46 115 58 110 69 40 32 40 47 44 78 21 85 -12 70 -35 90 -22 40 -26 24 -95 33 -20 13 -13 20 -20 55 -88 85 -13 20 -7 25 3 35 17 40 18 30 64 75 49 113 20 107z" fill="#9c1500"/><path d="M715 1375l-815 0 0 -1635 569 0 54 135 29 40 38 35 114 75 86 42 165 49 130 58 30 19 34 32 46 65 19 55 -1 50 -20 60 -38 66 -25 20 -90 27 -35 18 -70 73 -100 54 -31 22 -39 40 -24 40 -29 80 -4 75 13 90 15 45 29 60 3 40 -15 65 -33 105z" fill="#9c4000"/><path d="M845 550l-90 -1 -118 -34 -70 -30 -74 -40 -35 -25 -4 -15 67 -55 109 -62 110 -46 105 -27 95 -3 90 19 50 21 55 44 28 44 6 50 -18 50 -36 48 -55 21z" fill="#9c6a00"/><path d="M1040 460l-75 1 -55 -21 -20 -20 -12 -25 -2 -25 9 -25 39 -30 46 -11 80 9 45 22 25 32 4 18 -4 20 -34 40z" fill="#9c9500"/></g></g>
</g>
<g transform="translate(65.6,337.0)" clip-path="url(#sc)">
<g filter="url(#cm2)"><rect x="-60" y="-70" width="420" height="280" fill="#808000"/><g filter="url(#hb8)"><rect x="-100" y="-110" width="500" height="360" fill="#808000"/><path d="M187 -19l-14 10 -12 7 -3 3 -2 4 0 3 0 2 2 2 3 3 4 3 13 5 7 3 5 5 2 4 0 2 -1 2 -6 6 -6 4 -18 10 0 1 0 2 6 5 2 4 1 4 0 2 -6 5 -1 2 4 2 21 3 5 2 0 1 -3 3 -4 3 -7 4 -1 1 1 3 3 2 5 3 19 5 17 15 0 60 377 0 0 -270 -413 0z" fill="#80fc00" stroke="#80fc00" stroke-width="10" stroke-linejoin="round"/><path d="M57 -16l4 9 5 5 4 2 17 4 9 5 7 5 9 9 3 5 1 4 0 2 -1 4 -3 5 -2 3 -6 2 -12 2 -7 4 -9 8 -6 6 -4 6 -2 5 0 5 3 3 6 6 9 7 2 2 2 3 2 12 1 17 0 60 -389 0 0 -270 357 0z" fill="#800300" stroke="#800300" stroke-width="10" stroke-linejoin="round"/></g><g transform="scale(0.1)" fill-rule="evenodd"><path d="M2975 1375l-738 0 -2 -60 -9 -20 -151 -125 -30 -16 -120 -31 -75 -27 -30 -17 -25 -25 -8 -19 7 -20 66 -38 45 -34 15 -18 -5 -18 -38 -12 -207 -39 -30 -16 4 -20 47 -55 6 -25 -30 -65 -52 -59 0 -24 18 -17 163 -95 69 -50 45 -46 10 -19 1 -20 -5 -20 -18 -25 -53 -40 -60 -32 -126 -48 -49 -31 -36 -44 -6 -25 2 -25 15 -35 30 -35 120 -71 128 -99 10 -20 1 -55 1101 0z" fill="#63ea00"/><path d="M2975 1375l-493 0 -24 -65 -24 -45 -33 -40 -38 -30 -243 -121 -45 -15 -90 -17 -28 -12 -3 -10 21 -50 5 -35 -10 -30 -20 -23 -30 -13 -136 -34 -40 -15 -13 -10 3 -75 -37 -110 0 -15 55 -45 145 -90 69 -50 37 -45 21 -55 5 -60 -17 -65 -37 -67 -56 -68 -3 -15 16 -15 117 -70 55 -50 53 -75 39 -100 779 0z" fill="#63bf00"/><path d="M2445 985l-135 0 -165 -22 -20 -10 -72 -58 -51 -30 -46 -20 -101 -28 -50 -20 -21 -17 -14 -45 -11 -70 4 -40 39 -35 63 -37 183 -83 262 -139 145 -65 135 -44 115 -25 135 -14 135 1 0 654 -145 60 -120 39 -125 29z" fill="#639500"/><path d="M2195 835l-75 1 -125 -19 -130 -35 -35 -20 -21 -27 -9 -35 6 -40 25 -30 54 -32 80 -25 70 -15 155 -6 70 11 47 17 40 25 29 35 6 40 -11 60 -26 37 -50 35 -45 15z" fill="#636a00"/><path d="M2110 730l-110 1 -70 -16 -19 -15 9 -12 30 -10 100 -15 95 12 44 20 0 10 -18 10z" fill="#634000"/><path d="M885 1375l-985 0 0 -1635 663 0 4 105 37 75 36 48 50 29 151 38 80 35 123 85 60 60 26 35 23 45 4 45 -16 50 -26 40 -27 25 -29 15 -144 33 -70 36 -80 67 -68 69 -43 60 -18 45 -2 25 4 25 35 55 47 47 100 68 24 35 32 155 12 125z" fill="#9c1500"/><path d="M725 1375l-825 0 0 -1635 503 0 1 110 9 45 54 110 53 71 45 37 55 30 65 22 105 23 45 19 85 54 49 49 -1 10 -8 6 -90 22 -66 27 -59 37 -75 63 -95 95 -32 40 -44 75 -21 60 -4 40 2 60 12 45 19 40 39 55 49 51 30 27 62 42 12 15 23 145 6 80z" fill="#9c4000"/></g></g>
</g>
<g transform="translate(65.6,487.0)" clip-path="url(#sc)">
<g filter="url(#cm2)"><rect x="-60" y="-70" width="420" height="280" fill="#806c00"/><g filter="url(#hb8)"><rect x="-100" y="-110" width="500" height="360" fill="#806c00"/><path d="M23 37l4 -5 5 -5 6 -4 7 -3 7 -3 15 -5 13 -3 7 0 7 0 13 1 6 1 10 3 4 2 6 5 4 7 1 3 0 3 -1 3 -2 3 -4 2 -9 5 -17 8 -28 14 -20 12 -4 3 -4 5 -9 13 -2 2 -3 1 -2 -1 -2 -4 -5 -16 -2 -10 -3 -21 1 -9z" fill="#802600"/><path d="M130 71l19 -9 12 -5 11 -3 5 0 3 0 2 2 2 2 6 13 11 12 3 5 -1 3 -1 2 -4 3 -8 4 -8 3 -24 5 -22 3 -13 0 -17 -3 -10 -4 -3 -2 -2 -2 -1 -3 1 -2 8 -7 12 -8z" fill="#80c600"/><path d="M244 -23l-21 10 -33 12 -3 2 -3 2 0 2 1 2 6 5 8 5 18 7 8 5 5 6 2 4 1 3 -1 4 0 2 -4 3 -3 1 -15 2 -18 5 -7 4 -1 3 0 2 2 6 6 4 27 10 1 1 0 2 -5 5 -1 3 0 2 1 1 7 1 25 2 27 3 9 3 17 6 0 60 300 0 0 -260 -356 0z" fill="#80fc00" stroke="#80fc00" stroke-width="10" stroke-linejoin="round"/><path d="M-10 -3l3 -1 3 -1 5 0 31 8 23 9 5 4 3 3 0 2 -2 2 -3 3 -5 2 -16 5 -19 3 -1 2 -1 6 1 11 5 20 8 24 3 7 7 11 1 6 0 6 -1 4 -8 6 -3 2 -3 1 -3 -1 -3 -2 -3 -5 -7 -19 -8 -27 -10 -41 -5 -25 -1 -11 0 -5 2 -6z" fill="#800300" stroke="#800300" stroke-width="10" stroke-linejoin="round"/></g><g transform="scale(0.1)" fill-rule="evenodd"><path d="M2975 1155l-180 -63 -80 -18 -255 -31 -235 -17 -62 -11 -15 -10 -4 -20 13 -25 43 -50 4 -15 -9 -17 -30 -15 -219 -73 -36 -19 -31 -26 -24 -31 -13 -39 8 -29 21 -21 56 -30 94 -30 84 -21 125 -18 50 -13 25 -15 14 -18 12 -30 2 -30 -5 -30 -14 -35 -25 -35 -29 -29 -85 -54 -185 -77 -81 -45 -34 -26 -21 -24 -4 -25 11 -20 61 -35 273 -92 75 -31 158 -82 12 -15 3 -25 532 0z" fill="#63ea00"/><path d="M335 1375l-138 0 -57 -128 -70 -217 -105 -394 -46 -196 -19 -45 0 -422 35 -12 60 -3 46 7 314 77 125 48 70 33 45 30 25 32 0 21 -15 25 -25 21 -45 24 -160 54 -185 30 -17 10 -11 25 -3 50 13 125 50 210 82 240 28 60 53 83 15 57 1 60 -6 24 -14 21 -36 32z" fill="#9c1500"/><path d="M320 260l-75 1 -70 -18 -59 -43 -9 -15 2 -15 18 -25 30 -25 58 -24 80 -6 80 19 30 16 21 20 18 35 -1 20 -18 20 -35 22 -35 13z" fill="#9c4000"/></g></g>
</g>
<g transform="translate(65.6,637.0)" clip-path="url(#sc)">
<g filter="url(#cm2)"><rect x="-60" y="-70" width="420" height="280" fill="#807900"/><g filter="url(#hb12)"><rect x="-100" y="-110" width="500" height="360" fill="#807900"/><path d="M157 -9l9 -5 12 -4 15 -4 16 -3 16 -1 15 1 13 3 11 6 8 10 7 16 7 18 5 20 3 20 1 19 -1 16 -4 11 -8 7 -12 5 -16 3 -17 1 -18 -1 -17 -2 -14 -3 -11 -3 -8 -5 -6 -7 -4 -8 -3 -9 -2 -10 -8 -55 -1 -9 0 -8 2 -8 4 -6z" fill="#808c00"/><path d="M0 1l6 -7 9 -5 13 -2 14 -1 14 1 14 2 11 3 9 4 6 4 4 5 3 7 2 8 2 17 -1 26 -1 19 -2 10 -2 10 -3 9 -4 7 -4 6 -5 5 -7 4 -7 4 -8 2 -8 1 -8 -1 -7 -4 -7 -6 -6 -11 -7 -15 -6 -18 -7 -20 -5 -19 -3 -19 -1 -15z" fill="#806600"/><path d="M203 37l0 3 -2 4 -3 3 -3 2 -10 4 -12 1 -11 -1 -10 -4 -4 -2 -2 -3 -2 -4 -1 -3 1 -3 2 -3 2 -3 4 -3 10 -3 11 -1 12 1 10 3 3 3 3 3 2 3z" fill="#806600"/></g></g>
</g>
<line x1="319.7" y1="174.2" x2="349.8" y2="297.1" stroke="#000" stroke-width="0.9" />
<line x1="319.7" y1="324.2" x2="349.8" y2="447.1" stroke="#000" stroke-width="0.9" />
<line x1="319.7" y1="474.2" x2="349.8" y2="597.1" stroke="#000" stroke-width="0.9" />
<line x1="319.7" y1="624.2" x2="349.8" y2="747.1" stroke="#000" stroke-width="0.9" />
<line x1="64.6" y1="35.2" x2="64.6" y2="638.0" stroke="#000" stroke-width="3.5" />
<line x1="64.6" y1="36.1" x2="320.0" y2="20.3" stroke="#000" stroke-width="2.7" stroke-linecap="square"/>
<line x1="320.0" y1="21.2" x2="351.8" y2="148.6" stroke="#000" stroke-width="3.4" stroke-linecap="round"/>
<line x1="351.4" y1="148.6" x2="351.4" y2="748.6" stroke="#000" stroke-width="3.2" />
<line x1="65.0" y1="637.0" x2="97.2" y2="763.7" stroke="#000" stroke-width="3.6" stroke-linecap="round"/>
<line x1="98.8" y1="763.7" x2="351.8" y2="748.6" stroke="#000" stroke-width="2.2" stroke-linecap="round"/>
<line x1="65.6" y1="637.0" x2="320.0" y2="621.2" stroke="#000" stroke-width="2.0" />
<line x1="320.0" y1="621.2" x2="351.8" y2="748.6" stroke="#000" stroke-width="3.3" stroke-linecap="round"/>
<line x1="318.0" y1="624.2" x2="348.9" y2="746.1" stroke="#fff" stroke-width="0.7" stroke-opacity="0.85"/>
<line x1="67.3" y1="640.0" x2="99.5" y2="761.7" stroke="#fff" stroke-width="0.7" stroke-opacity="0.85" stroke-dasharray="2.4 1.6"/>
<line x1="346.8" y1="148.6" x2="350.8" y2="148.6" stroke="#000" stroke-width="0.8" />
<line x1="348.2" y1="178.6" x2="350.8" y2="178.6" stroke="#000" stroke-width="0.8" />
<line x1="348.2" y1="208.6" x2="350.8" y2="208.6" stroke="#000" stroke-width="0.8" />
<line x1="348.2" y1="238.6" x2="350.8" y2="238.6" stroke="#000" stroke-width="0.8" />
<line x1="348.2" y1="268.6" x2="350.8" y2="268.6" stroke="#000" stroke-width="0.8" />
<line x1="346.8" y1="298.6" x2="350.8" y2="298.6" stroke="#000" stroke-width="0.8" />
<line x1="348.2" y1="328.6" x2="350.8" y2="328.6" stroke="#000" stroke-width="0.8" />
<line x1="348.2" y1="358.6" x2="350.8" y2="358.6" stroke="#000" stroke-width="0.8" />
<line x1="348.2" y1="388.6" x2="350.8" y2="388.6" stroke="#000" stroke-width="0.8" />
<line x1="348.2" y1="418.6" x2="350.8" y2="418.6" stroke="#000" stroke-width="0.8" />
<line x1="346.8" y1="448.6" x2="350.8" y2="448.6" stroke="#000" stroke-width="0.8" />
<line x1="348.2" y1="478.6" x2="350.8" y2="478.6" stroke="#000" stroke-width="0.8" />
<line x1="348.2" y1="508.6" x2="350.8" y2="508.6" stroke="#000" stroke-width="0.8" />
<line x1="348.2" y1="538.6" x2="350.8" y2="538.6" stroke="#000" stroke-width="0.8" />
<line x1="348.2" y1="568.6" x2="350.8" y2="568.6" stroke="#000" stroke-width="0.8" />
<line x1="346.8" y1="598.6" x2="350.8" y2="598.6" stroke="#000" stroke-width="0.8" />
<line x1="348.2" y1="628.6" x2="350.8" y2="628.6" stroke="#000" stroke-width="0.8" />
<line x1="348.2" y1="658.6" x2="350.8" y2="658.6" stroke="#000" stroke-width="0.8" />
<line x1="348.2" y1="688.6" x2="350.8" y2="688.6" stroke="#000" stroke-width="0.8" />
<line x1="348.2" y1="718.6" x2="350.8" y2="718.6" stroke="#000" stroke-width="0.8" />
<line x1="346.8" y1="748.6" x2="350.8" y2="748.6" stroke="#000" stroke-width="0.8" />
<text class="b" x="359.1" y="154.8" font-size="18.5">700</text>
<text class="b" x="359.1" y="304.8" font-size="18.5">600</text>
<text class="b" x="359.1" y="454.8" font-size="18.5">500</text>
<text class="b" x="359.1" y="604.8" font-size="18.5">400</text>
<text class="b" x="359.1" y="754.8" font-size="18.5">300</text>
<text class="b" transform="translate(97.5,778.7) rotate(-3.5)" text-anchor="middle" y="6" font-size="18.5">90</text>
<text class="b" transform="translate(161.5,774.9) rotate(-3.5)" text-anchor="middle" y="6" font-size="18.5">135</text>
<text class="b" transform="translate(225.5,771.2) rotate(-3.5)" text-anchor="middle" y="6" font-size="18.5">180</text>
<text class="b" transform="translate(289.5,767.4) rotate(-3.5)" text-anchor="middle" y="6" font-size="18.5">225</text>
<text class="b" transform="translate(353.5,763.6) rotate(-3.5)" text-anchor="middle" y="6" font-size="18.5">270</text>
<text class="b" transform="translate(56.3,644.0) rotate(4)" text-anchor="end" y="6" font-size="18.5">90</text>
<text class="b" transform="translate(64.6,675.7) rotate(4)" text-anchor="end" y="6" font-size="18.5">45</text>
<text class="b" transform="translate(72.9,707.4) rotate(4)" text-anchor="end" y="6" font-size="18.5">0</text>
<text class="b" transform="translate(81.2,739.0) rotate(4)" text-anchor="end" y="6" font-size="18.5">-45</text>
<text class="b" transform="translate(88.3,772.2) rotate(4)" text-anchor="end" y="6" font-size="18.5">-90</text>
<text class="b" transform="translate(230,791) rotate(-3.5)" text-anchor="middle" y="9" font-size="25.4">Longitude (°)</text>
<text class="b" transform="translate(26,706) rotate(77)" text-anchor="middle" y="9" font-size="25.6">Latitude (°)</text>
<text class="b" transform="translate(406.6,446) rotate(-90)" text-anchor="middle" y="9" font-size="25.8">Altitude (km)</text>
</g>
<text transform="translate(12.1,30.1) scale(0.9,1)" font-size="40.5" letter-spacing="-4.6" stroke="#000" stroke-width="1.05">(a)</text>
<text transform="translate(433.0,30.1) scale(0.9,1)" font-size="40.5" letter-spacing="-4.6" stroke="#000" stroke-width="1.05">(b)</text>
<text transform="translate(13.0,901.0) scale(0.9,1)" font-size="40.5" letter-spacing="-4.6" stroke="#000" stroke-width="1.05">(c)</text>
<text transform="translate(432.4,901.0) scale(0.9,1)" font-size="40.5" letter-spacing="-4.6" stroke="#000" stroke-width="1.05">(d)</text>
<text transform="translate(10.4,1772.2) scale(0.9,1)" font-size="40.5" letter-spacing="-4.6" stroke="#000" stroke-width="1.05">(e)</text>
<text transform="translate(430.4,1772.9) scale(0.9,1)" font-size="40.5" letter-spacing="-4.6" stroke="#000" stroke-width="1.05">(f)</text>
<g transform="translate(0,0)">
<rect x="862.3" y="70.20" width="37.5" height="99.79" fill="url(#cb0)"/>
<rect x="862.3" y="169.69" width="37.5" height="99.79" fill="url(#cb1)"/>
<rect x="862.3" y="269.18" width="37.5" height="99.79" fill="url(#cb2)"/>
<rect x="862.3" y="368.67" width="37.5" height="99.79" fill="url(#cb3)"/>
<rect x="862.3" y="468.16" width="37.5" height="99.79" fill="url(#cb4)"/>
<rect x="862.3" y="567.65" width="37.5" height="99.79" fill="url(#cb5)"/>
<rect x="862.3" y="667.14" width="37.5" height="99.79" fill="url(#cb6)"/>
<rect x="862.3" y="70.20" width="37.5" height="696.43" fill="none" stroke="#333" stroke-opacity="0.6" stroke-width="0.6"/>
<text x="931.5" y="80.2" text-anchor="end" font-size="23">7</text>
<text x="931.5" y="179.7" text-anchor="end" font-size="23">5</text>
<text x="931.5" y="279.2" text-anchor="end" font-size="23">3</text>
<text x="931.5" y="378.7" text-anchor="end" font-size="23">1</text>
<text x="931.5" y="478.2" text-anchor="end" font-size="23">-1</text>
<text x="931.5" y="577.6" text-anchor="end" font-size="23">-3</text>
<text x="931.5" y="677.1" text-anchor="end" font-size="23">-5</text>
<text x="931.5" y="776.6" text-anchor="end" font-size="23">-7</text>
<text class="b" x="823.6" y="55.6" font-size="28.7">V<tspan font-size="18.5" dy="9.4">r</tspan><tspan dy="-9.4"> (km/s)</tspan></text>
</g>
<g transform="translate(0,871.0)">
<rect x="862.3" y="70.20" width="37.5" height="99.79" fill="url(#cb0)"/>
<rect x="862.3" y="169.69" width="37.5" height="99.79" fill="url(#cb1)"/>
<rect x="862.3" y="269.18" width="37.5" height="99.79" fill="url(#cb2)"/>
<rect x="862.3" y="368.67" width="37.5" height="99.79" fill="url(#cb3)"/>
<rect x="862.3" y="468.16" width="37.5" height="99.79" fill="url(#cb4)"/>
<rect x="862.3" y="567.65" width="37.5" height="99.79" fill="url(#cb5)"/>
<rect x="862.3" y="667.14" width="37.5" height="99.79" fill="url(#cb6)"/>
<rect x="862.3" y="70.20" width="37.5" height="696.43" fill="none" stroke="#333" stroke-opacity="0.6" stroke-width="0.6"/>
<text x="931.5" y="80.2" text-anchor="end" font-size="23">7</text>
<text x="931.5" y="179.7" text-anchor="end" font-size="23">5</text>
<text x="931.5" y="279.2" text-anchor="end" font-size="23">3</text>
<text x="931.5" y="378.7" text-anchor="end" font-size="23">1</text>
<text x="931.5" y="478.2" text-anchor="end" font-size="23">-1</text>
<text x="931.5" y="577.6" text-anchor="end" font-size="23">-3</text>
<text x="931.5" y="677.1" text-anchor="end" font-size="23">-5</text>
<text x="931.5" y="776.6" text-anchor="end" font-size="23">-7</text>
<text class="b" x="823.6" y="55.6" font-size="28.7">V<tspan font-size="18.5" dy="9.4">θ</tspan><tspan dy="-9.4"> (km/s)</tspan></text>
</g>
<g transform="translate(-3.3,1742.5)">
<rect x="862.3" y="70.20" width="37.5" height="99.79" fill="url(#cb0)"/>
<rect x="862.3" y="169.69" width="37.5" height="99.79" fill="url(#cb1)"/>
<rect x="862.3" y="269.18" width="37.5" height="99.79" fill="url(#cb2)"/>
<rect x="862.3" y="368.67" width="37.5" height="99.79" fill="url(#cb3)"/>
<rect x="862.3" y="468.16" width="37.5" height="99.79" fill="url(#cb4)"/>
<rect x="862.3" y="567.65" width="37.5" height="99.79" fill="url(#cb5)"/>
<rect x="862.3" y="667.14" width="37.5" height="99.79" fill="url(#cb6)"/>
<rect x="862.3" y="70.20" width="37.5" height="696.43" fill="none" stroke="#333" stroke-opacity="0.6" stroke-width="0.6"/>
<text x="931.5" y="80.2" text-anchor="end" font-size="23">7</text>
<text x="931.5" y="179.7" text-anchor="end" font-size="23">5</text>
<text x="931.5" y="279.2" text-anchor="end" font-size="23">3</text>
<text x="931.5" y="378.7" text-anchor="end" font-size="23">1</text>
<text x="931.5" y="478.2" text-anchor="end" font-size="23">-1</text>
<text x="931.5" y="577.6" text-anchor="end" font-size="23">-3</text>
<text x="931.5" y="677.1" text-anchor="end" font-size="23">-5</text>
<text x="931.5" y="776.6" text-anchor="end" font-size="23">-7</text>
<text class="b" x="823.6" y="55.6" font-size="28.7">V<tspan font-size="18.5" dy="9.4">φ</tspan><tspan dy="-9.4"> (km/s)</tspan></text>
</g>
</svg></body></html>
